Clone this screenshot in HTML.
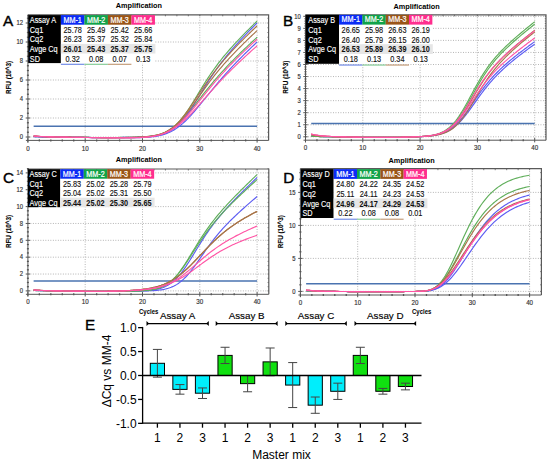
<!DOCTYPE html><html><head><meta charset="utf-8"><style>html,body{margin:0;padding:0;background:#fff;overflow:hidden}svg{display:block}text{font-family:"Liberation Sans",sans-serif}</style></head><body>
<svg width="550" height="463" viewBox="0 0 550 463">
<rect width="550" height="463" fill="#fff"/>
<line x1="27.90" y1="137.00" x2="268.60" y2="137.00" stroke="#a4a4a4" stroke-width="0.9" stroke-dasharray="0.9,1.6"/>
<line x1="27.90" y1="118.00" x2="268.60" y2="118.00" stroke="#a4a4a4" stroke-width="0.9" stroke-dasharray="0.9,1.6"/>
<line x1="27.90" y1="99.00" x2="268.60" y2="99.00" stroke="#a4a4a4" stroke-width="0.9" stroke-dasharray="0.9,1.6"/>
<line x1="27.90" y1="80.00" x2="268.60" y2="80.00" stroke="#a4a4a4" stroke-width="0.9" stroke-dasharray="0.9,1.6"/>
<line x1="27.90" y1="61.00" x2="268.60" y2="61.00" stroke="#a4a4a4" stroke-width="0.9" stroke-dasharray="0.9,1.6"/>
<line x1="27.90" y1="42.00" x2="268.60" y2="42.00" stroke="#a4a4a4" stroke-width="0.9" stroke-dasharray="0.9,1.6"/>
<line x1="27.90" y1="23.00" x2="268.60" y2="23.00" stroke="#a4a4a4" stroke-width="0.9" stroke-dasharray="0.9,1.6"/>
<line x1="85.20" y1="14.80" x2="85.20" y2="140.40" stroke="#a4a4a4" stroke-width="0.9" stroke-dasharray="0.9,1.6"/>
<line x1="142.50" y1="14.80" x2="142.50" y2="140.40" stroke="#a4a4a4" stroke-width="0.9" stroke-dasharray="0.9,1.6"/>
<line x1="199.80" y1="14.80" x2="199.80" y2="140.40" stroke="#a4a4a4" stroke-width="0.9" stroke-dasharray="0.9,1.6"/>
<line x1="257.10" y1="14.80" x2="257.10" y2="140.40" stroke="#a4a4a4" stroke-width="0.9" stroke-dasharray="0.9,1.6"/>
<polyline points="27.90,14.80 268.60,14.80 268.60,140.40" fill="none" stroke="#5a5a5a" stroke-width="1.2"/>
<line x1="27.90" y1="138.20" x2="27.90" y2="142.60" stroke="#555" stroke-width="1.0"/>
<line x1="27.90" y1="14.80" x2="27.90" y2="16.30" stroke="#5a5a5a" stroke-width="0.8"/>
<line x1="39.36" y1="139.40" x2="39.36" y2="141.40" stroke="#555" stroke-width="1.3"/>
<line x1="39.36" y1="14.80" x2="39.36" y2="16.30" stroke="#5a5a5a" stroke-width="0.8"/>
<line x1="50.82" y1="139.40" x2="50.82" y2="141.40" stroke="#555" stroke-width="1.3"/>
<line x1="50.82" y1="14.80" x2="50.82" y2="16.30" stroke="#5a5a5a" stroke-width="0.8"/>
<line x1="62.28" y1="139.40" x2="62.28" y2="141.40" stroke="#555" stroke-width="1.3"/>
<line x1="62.28" y1="14.80" x2="62.28" y2="16.30" stroke="#5a5a5a" stroke-width="0.8"/>
<line x1="73.74" y1="139.40" x2="73.74" y2="141.40" stroke="#555" stroke-width="1.3"/>
<line x1="73.74" y1="14.80" x2="73.74" y2="16.30" stroke="#5a5a5a" stroke-width="0.8"/>
<line x1="85.20" y1="138.20" x2="85.20" y2="142.60" stroke="#555" stroke-width="1.0"/>
<line x1="85.20" y1="14.80" x2="85.20" y2="16.30" stroke="#5a5a5a" stroke-width="0.8"/>
<line x1="96.66" y1="139.40" x2="96.66" y2="141.40" stroke="#555" stroke-width="1.3"/>
<line x1="96.66" y1="14.80" x2="96.66" y2="16.30" stroke="#5a5a5a" stroke-width="0.8"/>
<line x1="108.12" y1="139.40" x2="108.12" y2="141.40" stroke="#555" stroke-width="1.3"/>
<line x1="108.12" y1="14.80" x2="108.12" y2="16.30" stroke="#5a5a5a" stroke-width="0.8"/>
<line x1="119.58" y1="139.40" x2="119.58" y2="141.40" stroke="#555" stroke-width="1.3"/>
<line x1="119.58" y1="14.80" x2="119.58" y2="16.30" stroke="#5a5a5a" stroke-width="0.8"/>
<line x1="131.04" y1="139.40" x2="131.04" y2="141.40" stroke="#555" stroke-width="1.3"/>
<line x1="131.04" y1="14.80" x2="131.04" y2="16.30" stroke="#5a5a5a" stroke-width="0.8"/>
<line x1="142.50" y1="138.20" x2="142.50" y2="142.60" stroke="#555" stroke-width="1.0"/>
<line x1="142.50" y1="14.80" x2="142.50" y2="16.30" stroke="#5a5a5a" stroke-width="0.8"/>
<line x1="153.96" y1="139.40" x2="153.96" y2="141.40" stroke="#555" stroke-width="1.3"/>
<line x1="153.96" y1="14.80" x2="153.96" y2="16.30" stroke="#5a5a5a" stroke-width="0.8"/>
<line x1="165.42" y1="139.40" x2="165.42" y2="141.40" stroke="#555" stroke-width="1.3"/>
<line x1="165.42" y1="14.80" x2="165.42" y2="16.30" stroke="#5a5a5a" stroke-width="0.8"/>
<line x1="176.88" y1="139.40" x2="176.88" y2="141.40" stroke="#555" stroke-width="1.3"/>
<line x1="176.88" y1="14.80" x2="176.88" y2="16.30" stroke="#5a5a5a" stroke-width="0.8"/>
<line x1="188.34" y1="139.40" x2="188.34" y2="141.40" stroke="#555" stroke-width="1.3"/>
<line x1="188.34" y1="14.80" x2="188.34" y2="16.30" stroke="#5a5a5a" stroke-width="0.8"/>
<line x1="199.80" y1="138.20" x2="199.80" y2="142.60" stroke="#555" stroke-width="1.0"/>
<line x1="199.80" y1="14.80" x2="199.80" y2="16.30" stroke="#5a5a5a" stroke-width="0.8"/>
<line x1="211.26" y1="139.40" x2="211.26" y2="141.40" stroke="#555" stroke-width="1.3"/>
<line x1="211.26" y1="14.80" x2="211.26" y2="16.30" stroke="#5a5a5a" stroke-width="0.8"/>
<line x1="222.72" y1="139.40" x2="222.72" y2="141.40" stroke="#555" stroke-width="1.3"/>
<line x1="222.72" y1="14.80" x2="222.72" y2="16.30" stroke="#5a5a5a" stroke-width="0.8"/>
<line x1="234.18" y1="139.40" x2="234.18" y2="141.40" stroke="#555" stroke-width="1.3"/>
<line x1="234.18" y1="14.80" x2="234.18" y2="16.30" stroke="#5a5a5a" stroke-width="0.8"/>
<line x1="245.64" y1="139.40" x2="245.64" y2="141.40" stroke="#555" stroke-width="1.3"/>
<line x1="245.64" y1="14.80" x2="245.64" y2="16.30" stroke="#5a5a5a" stroke-width="0.8"/>
<line x1="257.10" y1="138.20" x2="257.10" y2="142.60" stroke="#555" stroke-width="1.0"/>
<line x1="257.10" y1="14.80" x2="257.10" y2="16.30" stroke="#5a5a5a" stroke-width="0.8"/>
<line x1="25.70" y1="137.00" x2="30.10" y2="137.00" stroke="#555" stroke-width="1.0"/>
<line x1="267.40" y1="137.00" x2="268.60" y2="137.00" stroke="#5a5a5a" stroke-width="0.8"/>
<line x1="26.90" y1="132.25" x2="28.90" y2="132.25" stroke="#555" stroke-width="1.3"/>
<line x1="267.40" y1="132.25" x2="268.60" y2="132.25" stroke="#5a5a5a" stroke-width="0.8"/>
<line x1="26.90" y1="127.50" x2="28.90" y2="127.50" stroke="#555" stroke-width="1.3"/>
<line x1="267.40" y1="127.50" x2="268.60" y2="127.50" stroke="#5a5a5a" stroke-width="0.8"/>
<line x1="26.90" y1="122.75" x2="28.90" y2="122.75" stroke="#555" stroke-width="1.3"/>
<line x1="267.40" y1="122.75" x2="268.60" y2="122.75" stroke="#5a5a5a" stroke-width="0.8"/>
<line x1="25.70" y1="118.00" x2="30.10" y2="118.00" stroke="#555" stroke-width="1.0"/>
<line x1="267.40" y1="118.00" x2="268.60" y2="118.00" stroke="#5a5a5a" stroke-width="0.8"/>
<line x1="26.90" y1="113.25" x2="28.90" y2="113.25" stroke="#555" stroke-width="1.3"/>
<line x1="267.40" y1="113.25" x2="268.60" y2="113.25" stroke="#5a5a5a" stroke-width="0.8"/>
<line x1="26.90" y1="108.50" x2="28.90" y2="108.50" stroke="#555" stroke-width="1.3"/>
<line x1="267.40" y1="108.50" x2="268.60" y2="108.50" stroke="#5a5a5a" stroke-width="0.8"/>
<line x1="26.90" y1="103.75" x2="28.90" y2="103.75" stroke="#555" stroke-width="1.3"/>
<line x1="267.40" y1="103.75" x2="268.60" y2="103.75" stroke="#5a5a5a" stroke-width="0.8"/>
<line x1="25.70" y1="99.00" x2="30.10" y2="99.00" stroke="#555" stroke-width="1.0"/>
<line x1="267.40" y1="99.00" x2="268.60" y2="99.00" stroke="#5a5a5a" stroke-width="0.8"/>
<line x1="26.90" y1="94.25" x2="28.90" y2="94.25" stroke="#555" stroke-width="1.3"/>
<line x1="267.40" y1="94.25" x2="268.60" y2="94.25" stroke="#5a5a5a" stroke-width="0.8"/>
<line x1="26.90" y1="89.50" x2="28.90" y2="89.50" stroke="#555" stroke-width="1.3"/>
<line x1="267.40" y1="89.50" x2="268.60" y2="89.50" stroke="#5a5a5a" stroke-width="0.8"/>
<line x1="26.90" y1="84.75" x2="28.90" y2="84.75" stroke="#555" stroke-width="1.3"/>
<line x1="267.40" y1="84.75" x2="268.60" y2="84.75" stroke="#5a5a5a" stroke-width="0.8"/>
<line x1="25.70" y1="80.00" x2="30.10" y2="80.00" stroke="#555" stroke-width="1.0"/>
<line x1="267.40" y1="80.00" x2="268.60" y2="80.00" stroke="#5a5a5a" stroke-width="0.8"/>
<line x1="26.90" y1="75.25" x2="28.90" y2="75.25" stroke="#555" stroke-width="1.3"/>
<line x1="267.40" y1="75.25" x2="268.60" y2="75.25" stroke="#5a5a5a" stroke-width="0.8"/>
<line x1="26.90" y1="70.50" x2="28.90" y2="70.50" stroke="#555" stroke-width="1.3"/>
<line x1="267.40" y1="70.50" x2="268.60" y2="70.50" stroke="#5a5a5a" stroke-width="0.8"/>
<line x1="26.90" y1="65.75" x2="28.90" y2="65.75" stroke="#555" stroke-width="1.3"/>
<line x1="267.40" y1="65.75" x2="268.60" y2="65.75" stroke="#5a5a5a" stroke-width="0.8"/>
<line x1="25.70" y1="61.00" x2="30.10" y2="61.00" stroke="#555" stroke-width="1.0"/>
<line x1="267.40" y1="61.00" x2="268.60" y2="61.00" stroke="#5a5a5a" stroke-width="0.8"/>
<line x1="26.90" y1="56.25" x2="28.90" y2="56.25" stroke="#555" stroke-width="1.3"/>
<line x1="267.40" y1="56.25" x2="268.60" y2="56.25" stroke="#5a5a5a" stroke-width="0.8"/>
<line x1="26.90" y1="51.50" x2="28.90" y2="51.50" stroke="#555" stroke-width="1.3"/>
<line x1="267.40" y1="51.50" x2="268.60" y2="51.50" stroke="#5a5a5a" stroke-width="0.8"/>
<line x1="26.90" y1="46.75" x2="28.90" y2="46.75" stroke="#555" stroke-width="1.3"/>
<line x1="267.40" y1="46.75" x2="268.60" y2="46.75" stroke="#5a5a5a" stroke-width="0.8"/>
<line x1="25.70" y1="42.00" x2="30.10" y2="42.00" stroke="#555" stroke-width="1.0"/>
<line x1="267.40" y1="42.00" x2="268.60" y2="42.00" stroke="#5a5a5a" stroke-width="0.8"/>
<line x1="26.90" y1="37.25" x2="28.90" y2="37.25" stroke="#555" stroke-width="1.3"/>
<line x1="267.40" y1="37.25" x2="268.60" y2="37.25" stroke="#5a5a5a" stroke-width="0.8"/>
<line x1="26.90" y1="32.50" x2="28.90" y2="32.50" stroke="#555" stroke-width="1.3"/>
<line x1="267.40" y1="32.50" x2="268.60" y2="32.50" stroke="#5a5a5a" stroke-width="0.8"/>
<line x1="26.90" y1="27.75" x2="28.90" y2="27.75" stroke="#555" stroke-width="1.3"/>
<line x1="267.40" y1="27.75" x2="268.60" y2="27.75" stroke="#5a5a5a" stroke-width="0.8"/>
<line x1="25.70" y1="23.00" x2="30.10" y2="23.00" stroke="#555" stroke-width="1.0"/>
<line x1="267.40" y1="23.00" x2="268.60" y2="23.00" stroke="#5a5a5a" stroke-width="0.8"/>
<line x1="26.90" y1="18.25" x2="28.90" y2="18.25" stroke="#555" stroke-width="1.3"/>
<line x1="267.40" y1="18.25" x2="268.60" y2="18.25" stroke="#5a5a5a" stroke-width="0.8"/>
<line x1="27.90" y1="14.80" x2="27.90" y2="142.40" stroke="#555" stroke-width="1"/>
<line x1="25.90" y1="140.40" x2="268.60" y2="140.40" stroke="#555" stroke-width="1"/>
<text transform="translate(23.10 139.20) scale(1 1.12)" font-size="5.9" text-anchor="end" font-weight="normal" fill="#333" stroke="#333" stroke-width="0.15" >0</text>
<text transform="translate(23.10 120.20) scale(1 1.12)" font-size="5.9" text-anchor="end" font-weight="normal" fill="#333" stroke="#333" stroke-width="0.15" >2</text>
<text transform="translate(23.10 101.20) scale(1 1.12)" font-size="5.9" text-anchor="end" font-weight="normal" fill="#333" stroke="#333" stroke-width="0.15" >4</text>
<text transform="translate(23.10 82.20) scale(1 1.12)" font-size="5.9" text-anchor="end" font-weight="normal" fill="#333" stroke="#333" stroke-width="0.15" >6</text>
<text transform="translate(23.10 63.20) scale(1 1.12)" font-size="5.9" text-anchor="end" font-weight="normal" fill="#333" stroke="#333" stroke-width="0.15" >8</text>
<text transform="translate(23.10 44.20) scale(1 1.12)" font-size="5.9" text-anchor="end" font-weight="normal" fill="#333" stroke="#333" stroke-width="0.15" >10</text>
<text transform="translate(23.10 25.20) scale(1 1.12)" font-size="5.9" text-anchor="end" font-weight="normal" fill="#333" stroke="#333" stroke-width="0.15" >12</text>
<text transform="translate(27.90 150.50) scale(1 1.12)" font-size="6.2" text-anchor="middle" font-weight="normal" fill="#333" stroke="#333" stroke-width="0.15" >0</text>
<text transform="translate(85.20 150.50) scale(1 1.12)" font-size="6.2" text-anchor="middle" font-weight="normal" fill="#333" stroke="#333" stroke-width="0.15" >10</text>
<text transform="translate(142.50 150.50) scale(1 1.12)" font-size="6.2" text-anchor="middle" font-weight="normal" fill="#333" stroke="#333" stroke-width="0.15" >20</text>
<text transform="translate(199.80 150.50) scale(1 1.12)" font-size="6.2" text-anchor="middle" font-weight="normal" fill="#333" stroke="#333" stroke-width="0.15" >30</text>
<text transform="translate(257.10 150.50) scale(1 1.12)" font-size="6.2" text-anchor="middle" font-weight="normal" fill="#333" stroke="#333" stroke-width="0.15" >40</text>
<text transform="translate(10.80 77.50) rotate(-90) scale(1 1.25)" font-size="6.3" font-weight="bold" text-anchor="middle" x="0" y="0" stroke="#000" stroke-width="0.1">RFU (10^3)</text>
<line x1="33.63" y1="126.30" x2="257.10" y2="126.30" stroke="#4a73b0" stroke-width="1.5"/>
<polyline points="33.63,136.06 35.06,136.18 36.49,136.29 37.93,136.39 39.36,136.47 40.79,136.55 42.23,136.61 43.66,136.67 45.09,136.72 46.52,136.76 47.95,136.80 49.39,136.84 50.82,136.87 52.25,136.90 53.69,136.93 55.12,136.96 56.55,136.98 57.98,137.00 59.41,137.03 60.85,137.05 62.28,137.07 63.71,137.09 65.15,137.11 66.58,137.13 68.01,137.15 69.44,137.17 70.88,137.19 72.31,137.21 73.74,137.23 75.17,137.25 76.61,137.27 78.04,137.29 79.47,137.31 80.90,137.33 82.34,137.34 83.77,137.36 85.20,137.38 86.63,137.40 88.06,137.42 89.50,137.43 90.93,137.45 92.36,137.46 93.80,137.47 95.23,137.48 96.66,137.49 98.09,137.50 99.53,137.51 100.96,137.51 102.39,137.52 103.82,137.52 105.25,137.52 106.69,137.52 108.12,137.52 109.55,137.51 110.99,137.51 112.42,137.50 113.85,137.49 115.28,137.48 116.72,137.47 118.15,137.46 119.58,137.44 121.01,137.43 122.44,137.41 123.88,137.39 125.31,137.37 126.74,137.35 128.18,137.32 129.61,137.30 131.04,137.27 132.47,137.24 133.91,137.20 135.34,137.16 136.77,137.11 138.20,137.06 139.64,137.00 141.07,136.94 142.50,136.86 143.93,136.77 145.37,136.67 146.80,136.55 148.23,136.42 149.66,136.26 151.09,136.09 152.53,135.88 153.96,135.65 155.39,135.38 156.83,135.08 158.26,134.73 159.69,134.33 161.12,133.89 162.56,133.38 163.99,132.82 165.42,132.18 166.85,131.47 168.29,130.68 169.72,129.81 171.15,128.84 172.58,127.78 174.02,126.61 175.45,125.35 176.88,123.98 178.31,122.51 179.75,120.93 181.18,119.25 182.61,117.47 184.04,115.59 185.48,113.63 186.91,111.58 188.34,109.46 189.77,107.27 191.21,105.03 192.64,102.75 194.07,100.43 195.50,98.09 196.94,95.74 198.37,93.38 199.80,91.03 201.23,88.69 202.67,86.37 204.10,84.07 205.53,81.81 206.96,79.58 208.40,77.39 209.83,75.24 211.26,73.13 212.69,71.06 214.13,69.04 215.56,67.06 216.99,65.11 218.42,63.21 219.86,61.35 221.29,59.52 222.72,57.73 224.15,55.98 225.59,54.25 227.02,52.56 228.45,50.89 229.88,49.25 231.32,47.63 232.75,46.04 234.18,44.46 235.61,42.91 237.05,41.37 238.48,39.85 239.91,38.35 241.34,36.86 242.78,35.38 244.21,33.91 245.64,32.46 247.07,31.01 248.51,29.57 249.94,28.14 251.37,26.72 252.80,25.31 254.24,23.90 255.67,22.50 257.10,21.10" fill="none" stroke="#5fae5a" stroke-width="1.15"/>
<polyline points="33.63,136.54 35.06,136.60 36.49,136.66 37.93,136.71 39.36,136.75 40.79,136.79 42.23,136.83 43.66,136.86 45.09,136.89 46.52,136.91 47.95,136.93 49.39,136.96 50.82,136.98 52.25,137.00 53.69,137.02 55.12,137.03 56.55,137.05 57.98,137.07 59.41,137.09 60.85,137.10 62.28,137.12 63.71,137.14 65.15,137.16 66.58,137.18 68.01,137.20 69.44,137.22 70.88,137.24 72.31,137.26 73.74,137.28 75.17,137.30 76.61,137.33 78.04,137.35 79.47,137.37 80.90,137.39 82.34,137.42 83.77,137.44 85.20,137.46 86.63,137.48 88.06,137.50 89.50,137.53 90.93,137.55 92.36,137.57 93.80,137.58 95.23,137.60 96.66,137.62 98.09,137.63 99.53,137.65 100.96,137.66 102.39,137.67 103.82,137.68 105.25,137.69 106.69,137.70 108.12,137.71 109.55,137.71 110.99,137.72 112.42,137.72 113.85,137.72 115.28,137.72 116.72,137.72 118.15,137.72 119.58,137.72 121.01,137.71 122.44,137.71 123.88,137.70 125.31,137.69 126.74,137.67 128.18,137.66 129.61,137.64 131.04,137.62 132.47,137.59 133.91,137.56 135.34,137.52 136.77,137.47 138.20,137.42 139.64,137.36 141.07,137.29 142.50,137.20 143.93,137.11 145.37,136.99 146.80,136.86 148.23,136.71 149.66,136.54 151.09,136.34 152.53,136.12 153.96,135.86 155.39,135.57 156.83,135.24 158.26,134.87 159.69,134.46 161.12,133.99 162.56,133.48 163.99,132.91 165.42,132.28 166.85,131.59 168.29,130.83 169.72,130.01 171.15,129.11 172.58,128.15 174.02,127.11 175.45,126.00 176.88,124.81 178.31,123.55 179.75,122.23 181.18,120.83 182.61,119.37 184.04,117.85 185.48,116.27 186.91,114.65 188.34,112.97 189.77,111.26 191.21,109.52 192.64,107.74 194.07,105.94 195.50,104.13 196.94,102.30 198.37,100.47 199.80,98.64 201.23,96.81 202.67,94.98 204.10,93.16 205.53,91.36 206.96,89.56 208.40,87.79 209.83,86.03 211.26,84.29 212.69,82.57 214.13,80.87 215.56,79.19 216.99,77.53 218.42,75.89 219.86,74.27 221.29,72.67 222.72,71.09 224.15,69.53 225.59,67.99 227.02,66.46 228.45,64.96 229.88,63.46 231.32,61.99 232.75,60.53 234.18,59.08 235.61,57.64 237.05,56.22 238.48,54.81 239.91,53.41 241.34,52.02 242.78,50.64 244.21,49.27 245.64,47.90 247.07,46.55 248.51,45.20 249.94,43.86 251.37,42.53 252.80,41.20 254.24,39.88 255.67,38.56 257.10,37.25" fill="none" stroke="#5fae5a" stroke-width="1.15"/>
<polyline points="33.63,136.53 35.06,136.60 36.49,136.65 37.93,136.70 39.36,136.75 40.79,136.78 42.23,136.82 43.66,136.85 45.09,136.88 46.52,136.90 47.95,136.92 49.39,136.94 50.82,136.96 52.25,136.98 53.69,137.00 55.12,137.02 56.55,137.03 57.98,137.05 59.41,137.07 60.85,137.08 62.28,137.10 63.71,137.12 65.15,137.13 66.58,137.15 68.01,137.17 69.44,137.18 70.88,137.20 72.31,137.22 73.74,137.24 75.17,137.26 76.61,137.28 78.04,137.30 79.47,137.32 80.90,137.33 82.34,137.35 83.77,137.37 85.20,137.39 86.63,137.41 88.06,137.42 89.50,137.44 90.93,137.45 92.36,137.47 93.80,137.48 95.23,137.49 96.66,137.50 98.09,137.51 99.53,137.52 100.96,137.52 102.39,137.53 103.82,137.53 105.25,137.53 106.69,137.53 108.12,137.53 109.55,137.53 110.99,137.52 112.42,137.52 113.85,137.51 115.28,137.50 116.72,137.49 118.15,137.48 119.58,137.47 121.01,137.46 122.44,137.44 123.88,137.43 125.31,137.41 126.74,137.39 128.18,137.37 129.61,137.35 131.04,137.33 132.47,137.30 133.91,137.27 135.34,137.24 136.77,137.21 138.20,137.17 139.64,137.12 141.07,137.07 142.50,137.01 143.93,136.94 145.37,136.86 146.80,136.77 148.23,136.66 149.66,136.54 151.09,136.40 152.53,136.23 153.96,136.05 155.39,135.83 156.83,135.58 158.26,135.30 159.69,134.98 161.12,134.61 162.56,134.20 163.99,133.73 165.42,133.20 166.85,132.61 168.29,131.94 169.72,131.20 171.15,130.38 172.58,129.47 174.02,128.46 175.45,127.37 176.88,126.17 178.31,124.87 179.75,123.47 181.18,121.96 182.61,120.35 184.04,118.64 185.48,116.84 186.91,114.94 188.34,112.95 189.77,110.89 191.21,108.76 192.64,106.57 194.07,104.33 195.50,102.05 196.94,99.74 198.37,97.41 199.80,95.07 201.23,92.72 202.67,90.39 204.10,88.06 205.53,85.76 206.96,83.48 208.40,81.23 209.83,79.02 211.26,76.84 212.69,74.70 214.13,72.60 215.56,70.54 216.99,68.53 218.42,66.55 219.86,64.61 221.29,62.70 222.72,60.84 224.15,59.01 225.59,57.21 227.02,55.45 228.45,53.71 229.88,52.01 231.32,50.33 232.75,48.67 234.18,47.04 235.61,45.43 237.05,43.84 238.48,42.27 239.91,40.71 241.34,39.18 242.78,37.65 244.21,36.14 245.64,34.64 247.07,33.16 248.51,31.68 249.94,30.21 251.37,28.76 252.80,27.31 254.24,25.87 255.67,24.43 257.10,23.00" fill="none" stroke="#5c5cf2" stroke-width="1.15"/>
<polyline points="33.63,136.64 35.06,136.69 36.49,136.73 37.93,136.77 39.36,136.81 40.79,136.84 42.23,136.87 43.66,136.89 45.09,136.92 46.52,136.94 47.95,136.96 49.39,136.98 50.82,137.00 52.25,137.01 53.69,137.03 55.12,137.05 56.55,137.06 57.98,137.08 59.41,137.10 60.85,137.11 62.28,137.13 63.71,137.15 65.15,137.17 66.58,137.19 68.01,137.21 69.44,137.23 70.88,137.25 72.31,137.27 73.74,137.29 75.17,137.31 76.61,137.33 78.04,137.36 79.47,137.38 80.90,137.40 82.34,137.43 83.77,137.45 85.20,137.47 86.63,137.49 88.06,137.52 89.50,137.54 90.93,137.56 92.36,137.58 93.80,137.60 95.23,137.62 96.66,137.64 98.09,137.65 99.53,137.67 100.96,137.68 102.39,137.70 103.82,137.71 105.25,137.72 106.69,137.73 108.12,137.74 109.55,137.75 110.99,137.76 112.42,137.76 113.85,137.77 115.28,137.77 116.72,137.77 118.15,137.78 119.58,137.78 121.01,137.78 122.44,137.78 123.88,137.78 125.31,137.77 126.74,137.77 128.18,137.76 129.61,137.76 131.04,137.75 132.47,137.73 133.91,137.72 135.34,137.70 136.77,137.67 138.20,137.64 139.64,137.60 141.07,137.56 142.50,137.51 143.93,137.44 145.37,137.37 146.80,137.28 148.23,137.18 149.66,137.06 151.09,136.92 152.53,136.76 153.96,136.58 155.39,136.37 156.83,136.13 158.26,135.86 159.69,135.55 161.12,135.21 162.56,134.83 163.99,134.40 165.42,133.92 166.85,133.40 168.29,132.82 169.72,132.18 171.15,131.48 172.58,130.72 174.02,129.90 175.45,129.02 176.88,128.06 178.31,127.04 179.75,125.96 181.18,124.80 182.61,123.58 184.04,122.30 185.48,120.96 186.91,119.56 188.34,118.10 189.77,116.59 191.21,115.03 192.64,113.43 194.07,111.80 195.50,110.12 196.94,108.42 198.37,106.70 199.80,104.96 201.23,103.20 202.67,101.43 204.10,99.66 205.53,97.88 206.96,96.10 208.40,94.33 209.83,92.56 211.26,90.80 212.69,89.06 214.13,87.32 215.56,85.60 216.99,83.89 218.42,82.20 219.86,80.52 221.29,78.86 222.72,77.22 224.15,75.60 225.59,73.99 227.02,72.40 228.45,70.82 229.88,69.26 231.32,67.72 232.75,66.19 234.18,64.68 235.61,63.18 237.05,61.69 238.48,60.22 239.91,58.76 241.34,57.31 242.78,55.88 244.21,54.45 245.64,53.03 247.07,51.63 248.51,50.23 249.94,48.84 251.37,47.46 252.80,46.08 254.24,44.72 255.67,43.35 257.10,42.00" fill="none" stroke="#5c5cf2" stroke-width="1.15"/>
<polyline points="33.63,135.87 35.06,136.02 36.49,136.15 37.93,136.27 39.36,136.37 40.79,136.45 42.23,136.53 43.66,136.60 45.09,136.66 46.52,136.71 47.95,136.76 49.39,136.80 50.82,136.84 52.25,136.88 53.69,136.91 55.12,136.94 56.55,136.97 57.98,136.99 59.41,137.02 60.85,137.04 62.28,137.06 63.71,137.08 65.15,137.11 66.58,137.13 68.01,137.15 69.44,137.17 70.88,137.19 72.31,137.21 73.74,137.24 75.17,137.26 76.61,137.28 78.04,137.30 79.47,137.32 80.90,137.34 82.34,137.36 83.77,137.38 85.20,137.40 86.63,137.42 88.06,137.44 89.50,137.46 90.93,137.47 92.36,137.49 93.80,137.50 95.23,137.51 96.66,137.53 98.09,137.54 99.53,137.55 100.96,137.55 102.39,137.56 103.82,137.56 105.25,137.57 106.69,137.57 108.12,137.57 109.55,137.57 110.99,137.56 112.42,137.56 113.85,137.55 115.28,137.55 116.72,137.54 118.15,137.53 119.58,137.52 121.01,137.51 122.44,137.49 123.88,137.48 125.31,137.46 126.74,137.44 128.18,137.42 129.61,137.39 131.04,137.36 132.47,137.33 133.91,137.30 135.34,137.25 136.77,137.21 138.20,137.15 139.64,137.09 141.07,137.02 142.50,136.94 143.93,136.85 145.37,136.74 146.80,136.61 148.23,136.47 149.66,136.30 151.09,136.11 152.53,135.89 153.96,135.64 155.39,135.36 156.83,135.03 158.26,134.67 159.69,134.25 161.12,133.78 162.56,133.25 163.99,132.66 165.42,132.01 166.85,131.28 168.29,130.47 169.72,129.57 171.15,128.60 172.58,127.53 174.02,126.37 175.45,125.11 176.88,123.76 178.31,122.32 179.75,120.78 181.18,119.15 182.61,117.43 184.04,115.63 185.48,113.75 186.91,111.81 188.34,109.80 189.77,107.75 191.21,105.65 192.64,103.51 194.07,101.35 195.50,99.17 196.94,96.99 198.37,94.80 199.80,92.62 201.23,90.45 202.67,88.30 204.10,86.17 205.53,84.07 206.96,82.00 208.40,79.96 209.83,77.95 211.26,75.98 212.69,74.05 214.13,72.14 215.56,70.28 216.99,68.44 218.42,66.64 219.86,64.87 221.29,63.14 222.72,61.43 224.15,59.75 225.59,58.09 227.02,56.47 228.45,54.86 229.88,53.28 231.32,51.71 232.75,50.17 234.18,48.65 235.61,47.14 237.05,45.65 238.48,44.17 239.91,42.70 241.34,41.25 242.78,39.81 244.21,38.38 245.64,36.95 247.07,35.54 248.51,34.14 249.94,32.74 251.37,31.35 252.80,29.97 254.24,28.59 255.67,27.22 257.10,25.85" fill="none" stroke="#a87448" stroke-width="1.15"/>
<polyline points="33.63,136.25 35.06,136.35 36.49,136.44 37.93,136.52 39.36,136.59 40.79,136.65 42.23,136.70 43.66,136.75 45.09,136.79 46.52,136.82 47.95,136.86 49.39,136.89 50.82,136.92 52.25,136.94 53.69,136.97 55.12,136.99 56.55,137.01 57.98,137.03 59.41,137.05 60.85,137.07 62.28,137.09 63.71,137.11 65.15,137.13 66.58,137.15 68.01,137.17 69.44,137.19 70.88,137.21 72.31,137.23 73.74,137.26 75.17,137.28 76.61,137.30 78.04,137.32 79.47,137.34 80.90,137.36 82.34,137.38 83.77,137.40 85.20,137.42 86.63,137.44 88.06,137.46 89.50,137.48 90.93,137.50 92.36,137.52 93.80,137.53 95.23,137.55 96.66,137.56 98.09,137.57 99.53,137.59 100.96,137.60 102.39,137.60 103.82,137.61 105.25,137.62 106.69,137.62 108.12,137.62 109.55,137.63 110.99,137.63 112.42,137.62 113.85,137.62 115.28,137.62 116.72,137.61 118.15,137.61 119.58,137.60 121.01,137.59 122.44,137.58 123.88,137.57 125.31,137.55 126.74,137.53 128.18,137.52 129.61,137.49 131.04,137.47 132.47,137.44 133.91,137.41 135.34,137.37 136.77,137.32 138.20,137.27 139.64,137.21 141.07,137.15 142.50,137.06 143.93,136.97 145.37,136.86 146.80,136.74 148.23,136.60 149.66,136.43 151.09,136.24 152.53,136.03 153.96,135.78 155.39,135.50 156.83,135.18 158.26,134.82 159.69,134.41 161.12,133.95 162.56,133.44 163.99,132.86 165.42,132.22 166.85,131.52 168.29,130.74 169.72,129.88 171.15,128.95 172.58,127.93 174.02,126.83 175.45,125.64 176.88,124.37 178.31,123.01 179.75,121.56 181.18,120.04 182.61,118.43 184.04,116.75 185.48,115.01 186.91,113.20 188.34,111.34 189.77,109.43 191.21,107.48 192.64,105.49 194.07,103.49 195.50,101.46 196.94,99.43 198.37,97.39 199.80,95.35 201.23,93.32 202.67,91.30 204.10,89.30 205.53,87.32 206.96,85.36 208.40,83.43 209.83,81.52 211.26,79.64 212.69,77.79 214.13,75.96 215.56,74.17 216.99,72.40 218.42,70.66 219.86,68.95 221.29,67.26 222.72,65.60 224.15,63.97 225.59,62.35 227.02,60.76 228.45,59.19 229.88,57.64 231.32,56.10 232.75,54.59 234.18,53.09 235.61,51.60 237.05,50.13 238.48,48.68 239.91,47.23 241.34,45.80 242.78,44.38 244.21,42.96 245.64,41.56 247.07,40.17 248.51,38.78 249.94,37.40 251.37,36.03 252.80,34.66 254.24,33.30 255.67,31.95 257.10,30.60" fill="none" stroke="#a87448" stroke-width="1.15"/>
<polyline points="33.63,136.07 35.06,136.19 36.49,136.30 37.93,136.40 39.36,136.48 40.79,136.56 42.23,136.62 43.66,136.68 45.09,136.73 46.52,136.78 47.95,136.82 49.39,136.86 50.82,136.89 52.25,136.92 53.69,136.95 55.12,136.98 56.55,137.00 57.98,137.03 59.41,137.05 60.85,137.07 62.28,137.10 63.71,137.12 65.15,137.14 66.58,137.16 68.01,137.19 69.44,137.21 70.88,137.23 72.31,137.25 73.74,137.28 75.17,137.30 76.61,137.32 78.04,137.35 79.47,137.37 80.90,137.39 82.34,137.42 83.77,137.44 85.20,137.47 86.63,137.49 88.06,137.51 89.50,137.53 90.93,137.55 92.36,137.57 93.80,137.59 95.23,137.61 96.66,137.63 98.09,137.65 99.53,137.66 100.96,137.67 102.39,137.69 103.82,137.70 105.25,137.71 106.69,137.72 108.12,137.73 109.55,137.73 110.99,137.74 112.42,137.74 113.85,137.75 115.28,137.75 116.72,137.75 118.15,137.75 119.58,137.75 121.01,137.74 122.44,137.74 123.88,137.73 125.31,137.73 126.74,137.71 128.18,137.70 129.61,137.69 131.04,137.67 132.47,137.64 133.91,137.61 135.34,137.58 136.77,137.54 138.20,137.49 139.64,137.44 141.07,137.37 142.50,137.29 143.93,137.20 145.37,137.10 146.80,136.98 148.23,136.84 149.66,136.68 151.09,136.49 152.53,136.28 153.96,136.04 155.39,135.77 156.83,135.46 158.26,135.11 159.69,134.72 161.12,134.29 162.56,133.80 163.99,133.27 165.42,132.68 166.85,132.03 168.29,131.32 169.72,130.54 171.15,129.70 172.58,128.79 174.02,127.81 175.45,126.75 176.88,125.63 178.31,124.44 179.75,123.18 181.18,121.86 182.61,120.47 184.04,119.02 185.48,117.52 186.91,115.96 188.34,114.36 189.77,112.71 191.21,111.03 192.64,109.31 194.07,107.57 195.50,105.81 196.94,104.04 198.37,102.25 199.80,100.46 201.23,98.66 202.67,96.87 204.10,95.08 205.53,93.30 206.96,91.53 208.40,89.77 209.83,88.02 211.26,86.29 212.69,84.58 214.13,82.89 215.56,81.21 216.99,79.55 218.42,77.92 219.86,76.30 221.29,74.69 222.72,73.11 224.15,71.55 225.59,70.00 227.02,68.47 228.45,66.96 229.88,65.46 231.32,63.98 232.75,62.51 234.18,61.05 235.61,59.61 237.05,58.18 238.48,56.77 239.91,55.36 241.34,53.96 242.78,52.58 244.21,51.20 245.64,49.84 247.07,48.48 248.51,47.12 249.94,45.78 251.37,44.44 252.80,43.11 254.24,41.78 255.67,40.46 257.10,39.15" fill="none" stroke="#ff55a5" stroke-width="1.15"/>
<polyline points="33.63,135.88 35.06,136.03 36.49,136.16 37.93,136.28 39.36,136.38 40.79,136.47 42.23,136.54 43.66,136.61 45.09,136.67 46.52,136.73 47.95,136.78 49.39,136.82 50.82,136.86 52.25,136.90 53.69,136.93 55.12,136.96 56.55,136.99 57.98,137.02 59.41,137.05 60.85,137.07 62.28,137.10 63.71,137.12 65.15,137.15 66.58,137.17 68.01,137.20 69.44,137.22 70.88,137.25 72.31,137.27 73.74,137.30 75.17,137.32 76.61,137.35 78.04,137.37 79.47,137.40 80.90,137.42 82.34,137.45 83.77,137.48 85.20,137.50 86.63,137.53 88.06,137.55 89.50,137.58 90.93,137.60 92.36,137.62 93.80,137.65 95.23,137.67 96.66,137.69 98.09,137.71 99.53,137.73 100.96,137.75 102.39,137.76 103.82,137.78 105.25,137.79 106.69,137.81 108.12,137.82 109.55,137.83 110.99,137.84 112.42,137.85 113.85,137.86 115.28,137.86 116.72,137.87 118.15,137.87 119.58,137.87 121.01,137.88 122.44,137.88 123.88,137.87 125.31,137.87 126.74,137.86 128.18,137.85 129.61,137.84 131.04,137.82 132.47,137.80 133.91,137.77 135.34,137.74 136.77,137.70 138.20,137.65 139.64,137.59 141.07,137.52 142.50,137.44 143.93,137.35 145.37,137.24 146.80,137.12 148.23,136.97 149.66,136.80 151.09,136.62 152.53,136.40 153.96,136.16 155.39,135.88 156.83,135.58 158.26,135.23 159.69,134.85 161.12,134.43 162.56,133.96 163.99,133.45 165.42,132.88 166.85,132.27 168.29,131.61 169.72,130.89 171.15,130.11 172.58,129.28 174.02,128.39 175.45,127.44 176.88,126.44 178.31,125.37 179.75,124.25 181.18,123.08 182.61,121.86 184.04,120.58 185.48,119.25 186.91,117.89 188.34,116.47 189.77,115.02 191.21,113.54 192.64,112.02 194.07,110.48 195.50,108.92 196.94,107.33 198.37,105.73 199.80,104.11 201.23,102.49 202.67,100.86 204.10,99.23 205.53,97.60 206.96,95.97 208.40,94.34 209.83,92.72 211.26,91.11 212.69,89.51 214.13,87.92 215.56,86.34 216.99,84.78 218.42,83.22 219.86,81.69 221.29,80.16 222.72,78.65 224.15,77.15 225.59,75.67 227.02,74.20 228.45,72.74 229.88,71.30 231.32,69.87 232.75,68.45 234.18,67.05 235.61,65.65 237.05,64.27 238.48,62.89 239.91,61.53 241.34,60.18 242.78,58.83 244.21,57.50 245.64,56.17 247.07,54.85 248.51,53.54 249.94,52.24 251.37,50.94 252.80,49.64 254.24,48.36 255.67,47.08 257.10,45.80" fill="none" stroke="#ff55a5" stroke-width="1.15"/>
<text x="138.80" y="8.30" font-size="7.3" text-anchor="middle" font-weight="bold" fill="#000" >Amplification</text>
<text x="3.00" y="25.70" font-size="15.3" text-anchor="start" font-weight="normal" fill="#000" stroke="#000" stroke-width="0.4" >A</text>
<rect x="28.20" y="15.10" width="32.70" height="48.00" fill="#000"/>
<rect x="60.90" y="24.70" width="94.00" height="38.40" fill="#fff"/>
<rect x="60.90" y="15.10" width="23.55" height="9.60" fill="#0b2cf5"/>
<text transform="translate(72.65 22.50) scale(1 1.14)" font-size="7.2" text-anchor="middle" font-weight="normal" fill="#fff" stroke="#fff" stroke-width="0.18" >MM-1</text>
<rect x="84.40" y="15.10" width="23.55" height="9.60" fill="#11a34a"/>
<text transform="translate(96.15 22.50) scale(1 1.14)" font-size="7.2" text-anchor="middle" font-weight="normal" fill="#fff" stroke="#fff" stroke-width="0.18" >MM-2</text>
<rect x="107.90" y="15.10" width="23.55" height="9.60" fill="#9a5518"/>
<text transform="translate(119.65 22.50) scale(1 1.14)" font-size="7.2" text-anchor="middle" font-weight="normal" fill="#fff" stroke="#fff" stroke-width="0.18" >MM-3</text>
<rect x="131.40" y="15.10" width="23.55" height="9.60" fill="#ff2e8e"/>
<text transform="translate(143.15 22.50) scale(1 1.14)" font-size="7.2" text-anchor="middle" font-weight="normal" fill="#fff" stroke="#fff" stroke-width="0.18" >MM-4</text>
<text transform="translate(29.80 22.70) scale(1 1.12)" font-size="7.3" text-anchor="start" font-weight="normal" fill="#fff" stroke="#fff" stroke-width="0.12" >Assay A</text>
<text transform="translate(29.80 32.70) scale(1 1.12)" font-size="7.3" text-anchor="start" font-weight="normal" fill="#fff" stroke="#fff" stroke-width="0.12" >Cq1</text>
<text transform="translate(72.65 32.70) scale(1 1.12)" font-size="7.3" text-anchor="middle" font-weight="normal" fill="#111" stroke="#111" stroke-width="0.12" >25.78</text>
<text transform="translate(96.15 32.70) scale(1 1.12)" font-size="7.3" text-anchor="middle" font-weight="normal" fill="#111" stroke="#111" stroke-width="0.12" >25.49</text>
<text transform="translate(119.65 32.70) scale(1 1.12)" font-size="7.3" text-anchor="middle" font-weight="normal" fill="#111" stroke="#111" stroke-width="0.12" >25.42</text>
<text transform="translate(143.15 32.70) scale(1 1.12)" font-size="7.3" text-anchor="middle" font-weight="normal" fill="#111" stroke="#111" stroke-width="0.12" >25.66</text>
<text transform="translate(29.80 42.30) scale(1 1.12)" font-size="7.3" text-anchor="start" font-weight="normal" fill="#fff" stroke="#fff" stroke-width="0.12" >Cq2</text>
<text transform="translate(72.65 42.30) scale(1 1.12)" font-size="7.3" text-anchor="middle" font-weight="normal" fill="#111" stroke="#111" stroke-width="0.12" >26.23</text>
<text transform="translate(96.15 42.30) scale(1 1.12)" font-size="7.3" text-anchor="middle" font-weight="normal" fill="#111" stroke="#111" stroke-width="0.12" >25.37</text>
<text transform="translate(119.65 42.30) scale(1 1.12)" font-size="7.3" text-anchor="middle" font-weight="normal" fill="#111" stroke="#111" stroke-width="0.12" >25.32</text>
<text transform="translate(143.15 42.30) scale(1 1.12)" font-size="7.3" text-anchor="middle" font-weight="normal" fill="#111" stroke="#111" stroke-width="0.12" >25.84</text>
<rect x="60.90" y="43.90" width="94.50" height="9.60" fill="#e6e6e6"/>
<text transform="translate(29.80 51.90) scale(1 1.12)" font-size="7.3" text-anchor="start" font-weight="normal" fill="#fff" stroke="#fff" stroke-width="0.12" >Avge Cq</text>
<text transform="translate(72.65 51.90) scale(1 1.12)" font-size="7.3" text-anchor="middle" font-weight="bold" fill="#111" stroke="#111" stroke-width="0.05" >26.01</text>
<text transform="translate(96.15 51.90) scale(1 1.12)" font-size="7.3" text-anchor="middle" font-weight="bold" fill="#111" stroke="#111" stroke-width="0.05" >25.43</text>
<text transform="translate(119.65 51.90) scale(1 1.12)" font-size="7.3" text-anchor="middle" font-weight="bold" fill="#111" stroke="#111" stroke-width="0.05" >25.37</text>
<text transform="translate(143.15 51.90) scale(1 1.12)" font-size="7.3" text-anchor="middle" font-weight="bold" fill="#111" stroke="#111" stroke-width="0.05" >25.75</text>
<text transform="translate(29.80 61.50) scale(1 1.12)" font-size="7.3" text-anchor="start" font-weight="normal" fill="#fff" stroke="#fff" stroke-width="0.12" >SD</text>
<text transform="translate(72.65 61.50) scale(1 1.12)" font-size="7.3" text-anchor="middle" font-weight="normal" fill="#111" stroke="#111" stroke-width="0.12" >0.32</text>
<text transform="translate(96.15 61.50) scale(1 1.12)" font-size="7.3" text-anchor="middle" font-weight="normal" fill="#111" stroke="#111" stroke-width="0.12" >0.08</text>
<text transform="translate(119.65 61.50) scale(1 1.12)" font-size="7.3" text-anchor="middle" font-weight="normal" fill="#111" stroke="#111" stroke-width="0.12" >0.07</text>
<text transform="translate(143.15 61.50) scale(1 1.12)" font-size="7.3" text-anchor="middle" font-weight="normal" fill="#111" stroke="#111" stroke-width="0.12" >0.13</text>
<rect x="60.90" y="63.70" width="23.50" height="1.3" fill="#7f96e8"/>
<rect x="84.40" y="63.70" width="23.50" height="1.3" fill="#8fd0a0"/>
<rect x="107.90" y="63.70" width="23.50" height="1.3" fill="#c9a585"/>
<line x1="305.50" y1="136.80" x2="546.00" y2="136.80" stroke="#a4a4a4" stroke-width="0.9" stroke-dasharray="0.9,1.6"/>
<line x1="305.50" y1="124.75" x2="546.00" y2="124.75" stroke="#a4a4a4" stroke-width="0.9" stroke-dasharray="0.9,1.6"/>
<line x1="305.50" y1="112.70" x2="546.00" y2="112.70" stroke="#a4a4a4" stroke-width="0.9" stroke-dasharray="0.9,1.6"/>
<line x1="305.50" y1="100.65" x2="546.00" y2="100.65" stroke="#a4a4a4" stroke-width="0.9" stroke-dasharray="0.9,1.6"/>
<line x1="305.50" y1="88.60" x2="546.00" y2="88.60" stroke="#a4a4a4" stroke-width="0.9" stroke-dasharray="0.9,1.6"/>
<line x1="305.50" y1="76.55" x2="546.00" y2="76.55" stroke="#a4a4a4" stroke-width="0.9" stroke-dasharray="0.9,1.6"/>
<line x1="305.50" y1="64.50" x2="546.00" y2="64.50" stroke="#a4a4a4" stroke-width="0.9" stroke-dasharray="0.9,1.6"/>
<line x1="305.50" y1="52.45" x2="546.00" y2="52.45" stroke="#a4a4a4" stroke-width="0.9" stroke-dasharray="0.9,1.6"/>
<line x1="305.50" y1="40.40" x2="546.00" y2="40.40" stroke="#a4a4a4" stroke-width="0.9" stroke-dasharray="0.9,1.6"/>
<line x1="305.50" y1="28.35" x2="546.00" y2="28.35" stroke="#a4a4a4" stroke-width="0.9" stroke-dasharray="0.9,1.6"/>
<line x1="305.50" y1="16.30" x2="546.00" y2="16.30" stroke="#a4a4a4" stroke-width="0.9" stroke-dasharray="0.9,1.6"/>
<line x1="362.80" y1="14.80" x2="362.80" y2="140.20" stroke="#a4a4a4" stroke-width="0.9" stroke-dasharray="0.9,1.6"/>
<line x1="420.10" y1="14.80" x2="420.10" y2="140.20" stroke="#a4a4a4" stroke-width="0.9" stroke-dasharray="0.9,1.6"/>
<line x1="477.40" y1="14.80" x2="477.40" y2="140.20" stroke="#a4a4a4" stroke-width="0.9" stroke-dasharray="0.9,1.6"/>
<line x1="534.70" y1="14.80" x2="534.70" y2="140.20" stroke="#a4a4a4" stroke-width="0.9" stroke-dasharray="0.9,1.6"/>
<polyline points="305.50,14.80 546.00,14.80 546.00,140.20" fill="none" stroke="#5a5a5a" stroke-width="1.2"/>
<line x1="305.50" y1="138.00" x2="305.50" y2="142.40" stroke="#555" stroke-width="1.0"/>
<line x1="305.50" y1="14.80" x2="305.50" y2="16.30" stroke="#5a5a5a" stroke-width="0.8"/>
<line x1="316.96" y1="139.20" x2="316.96" y2="141.20" stroke="#555" stroke-width="1.3"/>
<line x1="316.96" y1="14.80" x2="316.96" y2="16.30" stroke="#5a5a5a" stroke-width="0.8"/>
<line x1="328.42" y1="139.20" x2="328.42" y2="141.20" stroke="#555" stroke-width="1.3"/>
<line x1="328.42" y1="14.80" x2="328.42" y2="16.30" stroke="#5a5a5a" stroke-width="0.8"/>
<line x1="339.88" y1="139.20" x2="339.88" y2="141.20" stroke="#555" stroke-width="1.3"/>
<line x1="339.88" y1="14.80" x2="339.88" y2="16.30" stroke="#5a5a5a" stroke-width="0.8"/>
<line x1="351.34" y1="139.20" x2="351.34" y2="141.20" stroke="#555" stroke-width="1.3"/>
<line x1="351.34" y1="14.80" x2="351.34" y2="16.30" stroke="#5a5a5a" stroke-width="0.8"/>
<line x1="362.80" y1="138.00" x2="362.80" y2="142.40" stroke="#555" stroke-width="1.0"/>
<line x1="362.80" y1="14.80" x2="362.80" y2="16.30" stroke="#5a5a5a" stroke-width="0.8"/>
<line x1="374.26" y1="139.20" x2="374.26" y2="141.20" stroke="#555" stroke-width="1.3"/>
<line x1="374.26" y1="14.80" x2="374.26" y2="16.30" stroke="#5a5a5a" stroke-width="0.8"/>
<line x1="385.72" y1="139.20" x2="385.72" y2="141.20" stroke="#555" stroke-width="1.3"/>
<line x1="385.72" y1="14.80" x2="385.72" y2="16.30" stroke="#5a5a5a" stroke-width="0.8"/>
<line x1="397.18" y1="139.20" x2="397.18" y2="141.20" stroke="#555" stroke-width="1.3"/>
<line x1="397.18" y1="14.80" x2="397.18" y2="16.30" stroke="#5a5a5a" stroke-width="0.8"/>
<line x1="408.64" y1="139.20" x2="408.64" y2="141.20" stroke="#555" stroke-width="1.3"/>
<line x1="408.64" y1="14.80" x2="408.64" y2="16.30" stroke="#5a5a5a" stroke-width="0.8"/>
<line x1="420.10" y1="138.00" x2="420.10" y2="142.40" stroke="#555" stroke-width="1.0"/>
<line x1="420.10" y1="14.80" x2="420.10" y2="16.30" stroke="#5a5a5a" stroke-width="0.8"/>
<line x1="431.56" y1="139.20" x2="431.56" y2="141.20" stroke="#555" stroke-width="1.3"/>
<line x1="431.56" y1="14.80" x2="431.56" y2="16.30" stroke="#5a5a5a" stroke-width="0.8"/>
<line x1="443.02" y1="139.20" x2="443.02" y2="141.20" stroke="#555" stroke-width="1.3"/>
<line x1="443.02" y1="14.80" x2="443.02" y2="16.30" stroke="#5a5a5a" stroke-width="0.8"/>
<line x1="454.48" y1="139.20" x2="454.48" y2="141.20" stroke="#555" stroke-width="1.3"/>
<line x1="454.48" y1="14.80" x2="454.48" y2="16.30" stroke="#5a5a5a" stroke-width="0.8"/>
<line x1="465.94" y1="139.20" x2="465.94" y2="141.20" stroke="#555" stroke-width="1.3"/>
<line x1="465.94" y1="14.80" x2="465.94" y2="16.30" stroke="#5a5a5a" stroke-width="0.8"/>
<line x1="477.40" y1="138.00" x2="477.40" y2="142.40" stroke="#555" stroke-width="1.0"/>
<line x1="477.40" y1="14.80" x2="477.40" y2="16.30" stroke="#5a5a5a" stroke-width="0.8"/>
<line x1="488.86" y1="139.20" x2="488.86" y2="141.20" stroke="#555" stroke-width="1.3"/>
<line x1="488.86" y1="14.80" x2="488.86" y2="16.30" stroke="#5a5a5a" stroke-width="0.8"/>
<line x1="500.32" y1="139.20" x2="500.32" y2="141.20" stroke="#555" stroke-width="1.3"/>
<line x1="500.32" y1="14.80" x2="500.32" y2="16.30" stroke="#5a5a5a" stroke-width="0.8"/>
<line x1="511.78" y1="139.20" x2="511.78" y2="141.20" stroke="#555" stroke-width="1.3"/>
<line x1="511.78" y1="14.80" x2="511.78" y2="16.30" stroke="#5a5a5a" stroke-width="0.8"/>
<line x1="523.24" y1="139.20" x2="523.24" y2="141.20" stroke="#555" stroke-width="1.3"/>
<line x1="523.24" y1="14.80" x2="523.24" y2="16.30" stroke="#5a5a5a" stroke-width="0.8"/>
<line x1="534.70" y1="138.00" x2="534.70" y2="142.40" stroke="#555" stroke-width="1.0"/>
<line x1="534.70" y1="14.80" x2="534.70" y2="16.30" stroke="#5a5a5a" stroke-width="0.8"/>
<line x1="303.30" y1="136.80" x2="307.70" y2="136.80" stroke="#555" stroke-width="1.0"/>
<line x1="544.80" y1="136.80" x2="546.00" y2="136.80" stroke="#5a5a5a" stroke-width="0.8"/>
<line x1="304.50" y1="134.39" x2="306.50" y2="134.39" stroke="#555" stroke-width="1.3"/>
<line x1="544.80" y1="134.39" x2="546.00" y2="134.39" stroke="#5a5a5a" stroke-width="0.8"/>
<line x1="304.50" y1="131.98" x2="306.50" y2="131.98" stroke="#555" stroke-width="1.3"/>
<line x1="544.80" y1="131.98" x2="546.00" y2="131.98" stroke="#5a5a5a" stroke-width="0.8"/>
<line x1="304.50" y1="129.57" x2="306.50" y2="129.57" stroke="#555" stroke-width="1.3"/>
<line x1="544.80" y1="129.57" x2="546.00" y2="129.57" stroke="#5a5a5a" stroke-width="0.8"/>
<line x1="304.50" y1="127.16" x2="306.50" y2="127.16" stroke="#555" stroke-width="1.3"/>
<line x1="544.80" y1="127.16" x2="546.00" y2="127.16" stroke="#5a5a5a" stroke-width="0.8"/>
<line x1="303.30" y1="124.75" x2="307.70" y2="124.75" stroke="#555" stroke-width="1.0"/>
<line x1="544.80" y1="124.75" x2="546.00" y2="124.75" stroke="#5a5a5a" stroke-width="0.8"/>
<line x1="304.50" y1="122.34" x2="306.50" y2="122.34" stroke="#555" stroke-width="1.3"/>
<line x1="544.80" y1="122.34" x2="546.00" y2="122.34" stroke="#5a5a5a" stroke-width="0.8"/>
<line x1="304.50" y1="119.93" x2="306.50" y2="119.93" stroke="#555" stroke-width="1.3"/>
<line x1="544.80" y1="119.93" x2="546.00" y2="119.93" stroke="#5a5a5a" stroke-width="0.8"/>
<line x1="304.50" y1="117.52" x2="306.50" y2="117.52" stroke="#555" stroke-width="1.3"/>
<line x1="544.80" y1="117.52" x2="546.00" y2="117.52" stroke="#5a5a5a" stroke-width="0.8"/>
<line x1="304.50" y1="115.11" x2="306.50" y2="115.11" stroke="#555" stroke-width="1.3"/>
<line x1="544.80" y1="115.11" x2="546.00" y2="115.11" stroke="#5a5a5a" stroke-width="0.8"/>
<line x1="303.30" y1="112.70" x2="307.70" y2="112.70" stroke="#555" stroke-width="1.0"/>
<line x1="544.80" y1="112.70" x2="546.00" y2="112.70" stroke="#5a5a5a" stroke-width="0.8"/>
<line x1="304.50" y1="110.29" x2="306.50" y2="110.29" stroke="#555" stroke-width="1.3"/>
<line x1="544.80" y1="110.29" x2="546.00" y2="110.29" stroke="#5a5a5a" stroke-width="0.8"/>
<line x1="304.50" y1="107.88" x2="306.50" y2="107.88" stroke="#555" stroke-width="1.3"/>
<line x1="544.80" y1="107.88" x2="546.00" y2="107.88" stroke="#5a5a5a" stroke-width="0.8"/>
<line x1="304.50" y1="105.47" x2="306.50" y2="105.47" stroke="#555" stroke-width="1.3"/>
<line x1="544.80" y1="105.47" x2="546.00" y2="105.47" stroke="#5a5a5a" stroke-width="0.8"/>
<line x1="304.50" y1="103.06" x2="306.50" y2="103.06" stroke="#555" stroke-width="1.3"/>
<line x1="544.80" y1="103.06" x2="546.00" y2="103.06" stroke="#5a5a5a" stroke-width="0.8"/>
<line x1="303.30" y1="100.65" x2="307.70" y2="100.65" stroke="#555" stroke-width="1.0"/>
<line x1="544.80" y1="100.65" x2="546.00" y2="100.65" stroke="#5a5a5a" stroke-width="0.8"/>
<line x1="304.50" y1="98.24" x2="306.50" y2="98.24" stroke="#555" stroke-width="1.3"/>
<line x1="544.80" y1="98.24" x2="546.00" y2="98.24" stroke="#5a5a5a" stroke-width="0.8"/>
<line x1="304.50" y1="95.83" x2="306.50" y2="95.83" stroke="#555" stroke-width="1.3"/>
<line x1="544.80" y1="95.83" x2="546.00" y2="95.83" stroke="#5a5a5a" stroke-width="0.8"/>
<line x1="304.50" y1="93.42" x2="306.50" y2="93.42" stroke="#555" stroke-width="1.3"/>
<line x1="544.80" y1="93.42" x2="546.00" y2="93.42" stroke="#5a5a5a" stroke-width="0.8"/>
<line x1="304.50" y1="91.01" x2="306.50" y2="91.01" stroke="#555" stroke-width="1.3"/>
<line x1="544.80" y1="91.01" x2="546.00" y2="91.01" stroke="#5a5a5a" stroke-width="0.8"/>
<line x1="303.30" y1="88.60" x2="307.70" y2="88.60" stroke="#555" stroke-width="1.0"/>
<line x1="544.80" y1="88.60" x2="546.00" y2="88.60" stroke="#5a5a5a" stroke-width="0.8"/>
<line x1="304.50" y1="86.19" x2="306.50" y2="86.19" stroke="#555" stroke-width="1.3"/>
<line x1="544.80" y1="86.19" x2="546.00" y2="86.19" stroke="#5a5a5a" stroke-width="0.8"/>
<line x1="304.50" y1="83.78" x2="306.50" y2="83.78" stroke="#555" stroke-width="1.3"/>
<line x1="544.80" y1="83.78" x2="546.00" y2="83.78" stroke="#5a5a5a" stroke-width="0.8"/>
<line x1="304.50" y1="81.37" x2="306.50" y2="81.37" stroke="#555" stroke-width="1.3"/>
<line x1="544.80" y1="81.37" x2="546.00" y2="81.37" stroke="#5a5a5a" stroke-width="0.8"/>
<line x1="304.50" y1="78.96" x2="306.50" y2="78.96" stroke="#555" stroke-width="1.3"/>
<line x1="544.80" y1="78.96" x2="546.00" y2="78.96" stroke="#5a5a5a" stroke-width="0.8"/>
<line x1="303.30" y1="76.55" x2="307.70" y2="76.55" stroke="#555" stroke-width="1.0"/>
<line x1="544.80" y1="76.55" x2="546.00" y2="76.55" stroke="#5a5a5a" stroke-width="0.8"/>
<line x1="304.50" y1="74.14" x2="306.50" y2="74.14" stroke="#555" stroke-width="1.3"/>
<line x1="544.80" y1="74.14" x2="546.00" y2="74.14" stroke="#5a5a5a" stroke-width="0.8"/>
<line x1="304.50" y1="71.73" x2="306.50" y2="71.73" stroke="#555" stroke-width="1.3"/>
<line x1="544.80" y1="71.73" x2="546.00" y2="71.73" stroke="#5a5a5a" stroke-width="0.8"/>
<line x1="304.50" y1="69.32" x2="306.50" y2="69.32" stroke="#555" stroke-width="1.3"/>
<line x1="544.80" y1="69.32" x2="546.00" y2="69.32" stroke="#5a5a5a" stroke-width="0.8"/>
<line x1="304.50" y1="66.91" x2="306.50" y2="66.91" stroke="#555" stroke-width="1.3"/>
<line x1="544.80" y1="66.91" x2="546.00" y2="66.91" stroke="#5a5a5a" stroke-width="0.8"/>
<line x1="303.30" y1="64.50" x2="307.70" y2="64.50" stroke="#555" stroke-width="1.0"/>
<line x1="544.80" y1="64.50" x2="546.00" y2="64.50" stroke="#5a5a5a" stroke-width="0.8"/>
<line x1="304.50" y1="62.09" x2="306.50" y2="62.09" stroke="#555" stroke-width="1.3"/>
<line x1="544.80" y1="62.09" x2="546.00" y2="62.09" stroke="#5a5a5a" stroke-width="0.8"/>
<line x1="304.50" y1="59.68" x2="306.50" y2="59.68" stroke="#555" stroke-width="1.3"/>
<line x1="544.80" y1="59.68" x2="546.00" y2="59.68" stroke="#5a5a5a" stroke-width="0.8"/>
<line x1="304.50" y1="57.27" x2="306.50" y2="57.27" stroke="#555" stroke-width="1.3"/>
<line x1="544.80" y1="57.27" x2="546.00" y2="57.27" stroke="#5a5a5a" stroke-width="0.8"/>
<line x1="304.50" y1="54.86" x2="306.50" y2="54.86" stroke="#555" stroke-width="1.3"/>
<line x1="544.80" y1="54.86" x2="546.00" y2="54.86" stroke="#5a5a5a" stroke-width="0.8"/>
<line x1="303.30" y1="52.45" x2="307.70" y2="52.45" stroke="#555" stroke-width="1.0"/>
<line x1="544.80" y1="52.45" x2="546.00" y2="52.45" stroke="#5a5a5a" stroke-width="0.8"/>
<line x1="304.50" y1="50.04" x2="306.50" y2="50.04" stroke="#555" stroke-width="1.3"/>
<line x1="544.80" y1="50.04" x2="546.00" y2="50.04" stroke="#5a5a5a" stroke-width="0.8"/>
<line x1="304.50" y1="47.63" x2="306.50" y2="47.63" stroke="#555" stroke-width="1.3"/>
<line x1="544.80" y1="47.63" x2="546.00" y2="47.63" stroke="#5a5a5a" stroke-width="0.8"/>
<line x1="304.50" y1="45.22" x2="306.50" y2="45.22" stroke="#555" stroke-width="1.3"/>
<line x1="544.80" y1="45.22" x2="546.00" y2="45.22" stroke="#5a5a5a" stroke-width="0.8"/>
<line x1="304.50" y1="42.81" x2="306.50" y2="42.81" stroke="#555" stroke-width="1.3"/>
<line x1="544.80" y1="42.81" x2="546.00" y2="42.81" stroke="#5a5a5a" stroke-width="0.8"/>
<line x1="303.30" y1="40.40" x2="307.70" y2="40.40" stroke="#555" stroke-width="1.0"/>
<line x1="544.80" y1="40.40" x2="546.00" y2="40.40" stroke="#5a5a5a" stroke-width="0.8"/>
<line x1="304.50" y1="37.99" x2="306.50" y2="37.99" stroke="#555" stroke-width="1.3"/>
<line x1="544.80" y1="37.99" x2="546.00" y2="37.99" stroke="#5a5a5a" stroke-width="0.8"/>
<line x1="304.50" y1="35.58" x2="306.50" y2="35.58" stroke="#555" stroke-width="1.3"/>
<line x1="544.80" y1="35.58" x2="546.00" y2="35.58" stroke="#5a5a5a" stroke-width="0.8"/>
<line x1="304.50" y1="33.17" x2="306.50" y2="33.17" stroke="#555" stroke-width="1.3"/>
<line x1="544.80" y1="33.17" x2="546.00" y2="33.17" stroke="#5a5a5a" stroke-width="0.8"/>
<line x1="304.50" y1="30.76" x2="306.50" y2="30.76" stroke="#555" stroke-width="1.3"/>
<line x1="544.80" y1="30.76" x2="546.00" y2="30.76" stroke="#5a5a5a" stroke-width="0.8"/>
<line x1="303.30" y1="28.35" x2="307.70" y2="28.35" stroke="#555" stroke-width="1.0"/>
<line x1="544.80" y1="28.35" x2="546.00" y2="28.35" stroke="#5a5a5a" stroke-width="0.8"/>
<line x1="304.50" y1="25.94" x2="306.50" y2="25.94" stroke="#555" stroke-width="1.3"/>
<line x1="544.80" y1="25.94" x2="546.00" y2="25.94" stroke="#5a5a5a" stroke-width="0.8"/>
<line x1="304.50" y1="23.53" x2="306.50" y2="23.53" stroke="#555" stroke-width="1.3"/>
<line x1="544.80" y1="23.53" x2="546.00" y2="23.53" stroke="#5a5a5a" stroke-width="0.8"/>
<line x1="304.50" y1="21.12" x2="306.50" y2="21.12" stroke="#555" stroke-width="1.3"/>
<line x1="544.80" y1="21.12" x2="546.00" y2="21.12" stroke="#5a5a5a" stroke-width="0.8"/>
<line x1="304.50" y1="18.71" x2="306.50" y2="18.71" stroke="#555" stroke-width="1.3"/>
<line x1="544.80" y1="18.71" x2="546.00" y2="18.71" stroke="#5a5a5a" stroke-width="0.8"/>
<line x1="303.30" y1="16.30" x2="307.70" y2="16.30" stroke="#555" stroke-width="1.0"/>
<line x1="544.80" y1="16.30" x2="546.00" y2="16.30" stroke="#5a5a5a" stroke-width="0.8"/>
<line x1="305.50" y1="14.80" x2="305.50" y2="142.20" stroke="#555" stroke-width="1"/>
<line x1="303.50" y1="140.20" x2="546.00" y2="140.20" stroke="#555" stroke-width="1"/>
<text transform="translate(300.70 139.00) scale(1 1.12)" font-size="5.9" text-anchor="end" font-weight="normal" fill="#333" stroke="#333" stroke-width="0.15" >0</text>
<text transform="translate(300.70 126.95) scale(1 1.12)" font-size="5.9" text-anchor="end" font-weight="normal" fill="#333" stroke="#333" stroke-width="0.15" >1</text>
<text transform="translate(300.70 114.90) scale(1 1.12)" font-size="5.9" text-anchor="end" font-weight="normal" fill="#333" stroke="#333" stroke-width="0.15" >2</text>
<text transform="translate(300.70 102.85) scale(1 1.12)" font-size="5.9" text-anchor="end" font-weight="normal" fill="#333" stroke="#333" stroke-width="0.15" >3</text>
<text transform="translate(300.70 90.80) scale(1 1.12)" font-size="5.9" text-anchor="end" font-weight="normal" fill="#333" stroke="#333" stroke-width="0.15" >4</text>
<text transform="translate(300.70 78.75) scale(1 1.12)" font-size="5.9" text-anchor="end" font-weight="normal" fill="#333" stroke="#333" stroke-width="0.15" >5</text>
<text transform="translate(300.70 66.70) scale(1 1.12)" font-size="5.9" text-anchor="end" font-weight="normal" fill="#333" stroke="#333" stroke-width="0.15" >6</text>
<text transform="translate(300.70 54.65) scale(1 1.12)" font-size="5.9" text-anchor="end" font-weight="normal" fill="#333" stroke="#333" stroke-width="0.15" >7</text>
<text transform="translate(300.70 42.60) scale(1 1.12)" font-size="5.9" text-anchor="end" font-weight="normal" fill="#333" stroke="#333" stroke-width="0.15" >8</text>
<text transform="translate(300.70 30.55) scale(1 1.12)" font-size="5.9" text-anchor="end" font-weight="normal" fill="#333" stroke="#333" stroke-width="0.15" >9</text>
<text transform="translate(300.70 18.50) scale(1 1.12)" font-size="5.9" text-anchor="end" font-weight="normal" fill="#333" stroke="#333" stroke-width="0.15" >10</text>
<text transform="translate(305.50 150.30) scale(1 1.12)" font-size="6.2" text-anchor="middle" font-weight="normal" fill="#333" stroke="#333" stroke-width="0.15" >0</text>
<text transform="translate(362.80 150.30) scale(1 1.12)" font-size="6.2" text-anchor="middle" font-weight="normal" fill="#333" stroke="#333" stroke-width="0.15" >10</text>
<text transform="translate(420.10 150.30) scale(1 1.12)" font-size="6.2" text-anchor="middle" font-weight="normal" fill="#333" stroke="#333" stroke-width="0.15" >20</text>
<text transform="translate(477.40 150.30) scale(1 1.12)" font-size="6.2" text-anchor="middle" font-weight="normal" fill="#333" stroke="#333" stroke-width="0.15" >30</text>
<text transform="translate(534.70 150.30) scale(1 1.12)" font-size="6.2" text-anchor="middle" font-weight="normal" fill="#333" stroke="#333" stroke-width="0.15" >40</text>
<text transform="translate(288.10 77.20) rotate(-90) scale(1 1.25)" font-size="6.3" font-weight="bold" text-anchor="middle" x="0" y="0" stroke="#000" stroke-width="0.1">RFU (10^3)</text>
<line x1="311.23" y1="123.40" x2="534.70" y2="123.40" stroke="#4a73b0" stroke-width="1.5"/>
<polyline points="311.23,136.21 312.66,136.29 314.10,136.36 315.53,136.42 316.96,136.48 318.39,136.52 319.82,136.57 321.26,136.60 322.69,136.64 324.12,136.67 325.56,136.70 326.99,136.73 328.42,136.75 329.85,136.77 331.29,136.80 332.72,136.82 334.15,136.84 335.58,136.86 337.01,136.88 338.45,136.90 339.88,136.92 341.31,136.94 342.75,136.96 344.18,136.98 345.61,137.00 347.04,137.02 348.48,137.05 349.91,137.07 351.34,137.09 352.77,137.11 354.20,137.14 355.64,137.16 357.07,137.18 358.50,137.21 359.94,137.23 361.37,137.25 362.80,137.27 364.23,137.29 365.67,137.31 367.10,137.33 368.53,137.34 369.96,137.36 371.39,137.37 372.83,137.38 374.26,137.39 375.69,137.40 377.12,137.41 378.56,137.41 379.99,137.41 381.42,137.41 382.86,137.41 384.29,137.41 385.72,137.40 387.15,137.39 388.59,137.38 390.02,137.37 391.45,137.35 392.88,137.34 394.31,137.32 395.75,137.30 397.18,137.28 398.61,137.26 400.05,137.24 401.48,137.21 402.91,137.18 404.34,137.16 405.77,137.13 407.21,137.10 408.64,137.07 410.07,137.03 411.50,136.99 412.94,136.95 414.37,136.91 415.80,136.86 417.24,136.81 418.67,136.76 420.10,136.69 421.53,136.62 422.97,136.54 424.40,136.46 425.83,136.35 427.26,136.24 428.69,136.11 430.13,135.96 431.56,135.79 432.99,135.59 434.43,135.37 435.86,135.12 437.29,134.83 438.72,134.50 440.15,134.13 441.59,133.71 443.02,133.23 444.45,132.70 445.88,132.10 447.32,131.43 448.75,130.69 450.18,129.86 451.62,128.95 453.05,127.95 454.48,126.86 455.91,125.68 457.35,124.40 458.78,123.02 460.21,121.56 461.64,120.00 463.08,118.36 464.51,116.64 465.94,114.85 467.37,112.99 468.81,111.09 470.24,109.14 471.67,107.16 473.10,105.15 474.54,103.14 475.97,101.13 477.40,99.12 478.83,97.13 480.26,95.16 481.70,93.23 483.13,91.33 484.56,89.47 486.00,87.65 487.43,85.87 488.86,84.14 490.29,82.45 491.73,80.81 493.16,79.21 494.59,77.66 496.02,76.15 497.46,74.67 498.89,73.24 500.32,71.84 501.75,70.47 503.19,69.13 504.62,67.83 506.05,66.55 507.48,65.29 508.92,64.06 510.35,62.84 511.78,61.65 513.21,60.47 514.64,59.31 516.08,58.17 517.51,57.04 518.94,55.92 520.38,54.81 521.81,53.71 523.24,52.62 524.67,51.54 526.11,50.46 527.54,49.39 528.97,48.33 530.40,47.28 531.84,46.23 533.27,45.18 534.70,44.14" fill="none" stroke="#5c5cf2" stroke-width="1.15"/>
<polyline points="311.23,135.85 312.66,135.97 314.10,136.09 315.53,136.18 316.96,136.27 318.39,136.34 319.82,136.41 321.26,136.47 322.69,136.52 324.12,136.57 325.56,136.61 326.99,136.65 328.42,136.68 329.85,136.71 331.29,136.74 332.72,136.77 334.15,136.80 335.58,136.82 337.01,136.85 338.45,136.87 339.88,136.90 341.31,136.92 342.75,136.94 344.18,136.97 345.61,136.99 347.04,137.01 348.48,137.04 349.91,137.06 351.34,137.08 352.77,137.11 354.20,137.13 355.64,137.16 357.07,137.18 358.50,137.20 359.94,137.22 361.37,137.25 362.80,137.27 364.23,137.29 365.67,137.31 367.10,137.33 368.53,137.34 369.96,137.36 371.39,137.37 372.83,137.38 374.26,137.39 375.69,137.40 377.12,137.41 378.56,137.41 379.99,137.41 381.42,137.41 382.86,137.41 384.29,137.41 385.72,137.40 387.15,137.39 388.59,137.38 390.02,137.37 391.45,137.35 392.88,137.34 394.31,137.32 395.75,137.30 397.18,137.28 398.61,137.25 400.05,137.23 401.48,137.20 402.91,137.18 404.34,137.15 405.77,137.12 407.21,137.09 408.64,137.05 410.07,137.01 411.50,136.97 412.94,136.93 414.37,136.89 415.80,136.83 417.24,136.78 418.67,136.72 420.10,136.65 421.53,136.57 422.97,136.48 424.40,136.38 425.83,136.27 427.26,136.14 428.69,135.99 430.13,135.82 431.56,135.63 432.99,135.41 434.43,135.16 435.86,134.88 437.29,134.55 438.72,134.19 440.15,133.77 441.59,133.30 443.02,132.77 444.45,132.17 445.88,131.50 447.32,130.76 448.75,129.93 450.18,129.02 451.62,128.01 453.05,126.91 454.48,125.71 455.91,124.42 457.35,123.02 458.78,121.53 460.21,119.94 461.64,118.26 463.08,116.50 464.51,114.66 465.94,112.76 467.37,110.80 468.81,108.79 470.24,106.76 471.67,104.69 473.10,102.62 474.54,100.55 475.97,98.48 477.40,96.44 478.83,94.42 480.26,92.43 481.70,90.48 483.13,88.57 484.56,86.70 486.00,84.88 487.43,83.11 488.86,81.39 490.29,79.72 491.73,78.09 493.16,76.51 494.59,74.97 496.02,73.48 497.46,72.02 498.89,70.60 500.32,69.21 501.75,67.86 503.19,66.54 504.62,65.24 506.05,63.97 507.48,62.72 508.92,61.50 510.35,60.30 511.78,59.11 513.21,57.94 514.64,56.79 516.08,55.64 517.51,54.52 518.94,53.40 520.38,52.29 521.81,51.19 523.24,50.10 524.67,49.02 526.11,47.95 527.54,46.88 528.97,45.81 530.40,44.76 531.84,43.70 533.27,42.65 534.70,41.61" fill="none" stroke="#5c5cf2" stroke-width="1.15"/>
<polyline points="311.23,136.21 312.66,136.29 314.10,136.36 315.53,136.42 316.96,136.48 318.39,136.52 319.82,136.57 321.26,136.60 322.69,136.64 324.12,136.67 325.56,136.70 326.99,136.73 328.42,136.75 329.85,136.77 331.29,136.80 332.72,136.82 334.15,136.84 335.58,136.86 337.01,136.88 338.45,136.90 339.88,136.92 341.31,136.94 342.75,136.96 344.18,136.98 345.61,137.00 347.04,137.02 348.48,137.04 349.91,137.07 351.34,137.09 352.77,137.11 354.20,137.14 355.64,137.16 357.07,137.18 358.50,137.20 359.94,137.23 361.37,137.25 362.80,137.27 364.23,137.29 365.67,137.31 367.10,137.32 368.53,137.34 369.96,137.35 371.39,137.37 372.83,137.38 374.26,137.39 375.69,137.40 377.12,137.40 378.56,137.40 379.99,137.41 381.42,137.40 382.86,137.40 384.29,137.40 385.72,137.39 387.15,137.38 388.59,137.37 390.02,137.35 391.45,137.34 392.88,137.32 394.31,137.30 395.75,137.28 397.18,137.26 398.61,137.24 400.05,137.21 401.48,137.18 402.91,137.15 404.34,137.12 405.77,137.09 407.21,137.06 408.64,137.02 410.07,136.98 411.50,136.94 412.94,136.90 414.37,136.85 415.80,136.79 417.24,136.73 418.67,136.66 420.10,136.59 421.53,136.50 422.97,136.41 424.40,136.30 425.83,136.18 427.26,136.03 428.69,135.87 430.13,135.68 431.56,135.47 432.99,135.22 434.43,134.94 435.86,134.61 437.29,134.24 438.72,133.82 440.15,133.33 441.59,132.78 443.02,132.15 444.45,131.44 445.88,130.64 447.32,129.74 448.75,128.73 450.18,127.61 451.62,126.37 453.05,125.00 454.48,123.50 455.91,121.87 457.35,120.10 458.78,118.20 460.21,116.17 461.64,114.03 463.08,111.77 464.51,109.41 465.94,106.97 467.37,104.46 468.81,101.90 470.24,99.30 471.67,96.68 473.10,94.06 474.54,91.45 475.97,88.87 477.40,86.33 478.83,83.84 480.26,81.41 481.70,79.04 483.13,76.75 484.56,74.52 486.00,72.37 487.43,70.29 488.86,68.28 490.29,66.35 491.73,64.48 493.16,62.67 494.59,60.92 496.02,59.23 497.46,57.60 498.89,56.01 500.32,54.47 501.75,52.96 503.19,51.50 504.62,50.07 506.05,48.67 507.48,47.30 508.92,45.96 510.35,44.63 511.78,43.33 513.21,42.05 514.64,40.79 516.08,39.54 517.51,38.30 518.94,37.08 520.38,35.86 521.81,34.66 523.24,33.47 524.67,32.28 526.11,31.10 527.54,29.93 528.97,28.76 530.40,27.60 531.84,26.44 533.27,25.28 534.70,24.13" fill="none" stroke="#5fae5a" stroke-width="1.15"/>
<polyline points="311.23,136.21 312.66,136.29 314.10,136.36 315.53,136.42 316.96,136.48 318.39,136.52 319.82,136.57 321.26,136.60 322.69,136.64 324.12,136.67 325.56,136.70 326.99,136.73 328.42,136.75 329.85,136.77 331.29,136.80 332.72,136.82 334.15,136.84 335.58,136.86 337.01,136.88 338.45,136.90 339.88,136.92 341.31,136.94 342.75,136.96 344.18,136.98 345.61,137.00 347.04,137.02 348.48,137.04 349.91,137.07 351.34,137.09 352.77,137.11 354.20,137.14 355.64,137.16 357.07,137.18 358.50,137.20 359.94,137.22 361.37,137.25 362.80,137.27 364.23,137.29 365.67,137.31 367.10,137.32 368.53,137.34 369.96,137.35 371.39,137.37 372.83,137.38 374.26,137.39 375.69,137.40 377.12,137.40 378.56,137.40 379.99,137.40 381.42,137.40 382.86,137.40 384.29,137.39 385.72,137.39 387.15,137.38 388.59,137.37 390.02,137.35 391.45,137.34 392.88,137.32 394.31,137.30 395.75,137.28 397.18,137.26 398.61,137.23 400.05,137.20 401.48,137.18 402.91,137.15 404.34,137.12 405.77,137.08 407.21,137.05 408.64,137.01 410.07,136.97 411.50,136.92 412.94,136.87 414.37,136.82 415.80,136.76 417.24,136.70 418.67,136.62 420.10,136.54 421.53,136.45 422.97,136.34 424.40,136.22 425.83,136.09 427.26,135.93 428.69,135.75 430.13,135.54 431.56,135.31 432.99,135.04 434.43,134.72 435.86,134.37 437.29,133.96 438.72,133.49 440.15,132.95 441.59,132.35 443.02,131.66 444.45,130.88 445.88,130.00 447.32,129.02 448.75,127.92 450.18,126.70 451.62,125.36 453.05,123.88 454.48,122.26 455.91,120.51 457.35,118.62 458.78,116.59 460.21,114.44 461.64,112.17 463.08,109.80 464.51,107.33 465.94,104.78 467.37,102.17 468.81,99.52 470.24,96.85 471.67,94.17 473.10,91.50 474.54,88.85 475.97,86.24 477.40,83.68 478.83,81.17 480.26,78.74 481.70,76.37 483.13,74.08 484.56,71.87 486.00,69.73 487.43,67.67 488.86,65.68 490.29,63.76 491.73,61.91 493.16,60.13 494.59,58.40 496.02,56.73 497.46,55.11 498.89,53.54 500.32,52.01 501.75,50.52 503.19,49.07 504.62,47.65 506.05,46.26 507.48,44.90 508.92,43.56 510.35,42.24 511.78,40.95 513.21,39.67 514.64,38.41 516.08,37.16 517.51,35.93 518.94,34.70 520.38,33.49 521.81,32.28 523.24,31.09 524.67,29.90 526.11,28.72 527.54,27.54 528.97,26.37 530.40,25.20 531.84,24.04 533.27,22.88 534.70,21.72" fill="none" stroke="#5fae5a" stroke-width="1.15"/>
<polyline points="311.23,134.40 312.66,134.72 314.10,134.99 315.53,135.23 316.96,135.44 318.39,135.62 319.82,135.78 321.26,135.92 322.69,136.04 324.12,136.15 325.56,136.25 326.99,136.33 328.42,136.41 329.85,136.48 331.29,136.54 332.72,136.59 334.15,136.64 335.58,136.69 337.01,136.73 338.45,136.77 339.88,136.81 341.31,136.84 342.75,136.87 344.18,136.91 345.61,136.94 347.04,136.97 348.48,137.00 349.91,137.02 351.34,137.05 352.77,137.08 354.20,137.11 355.64,137.13 357.07,137.16 358.50,137.19 359.94,137.21 361.37,137.23 362.80,137.26 364.23,137.28 365.67,137.30 367.10,137.32 368.53,137.33 369.96,137.35 371.39,137.36 372.83,137.38 374.26,137.39 375.69,137.39 377.12,137.40 378.56,137.40 379.99,137.41 381.42,137.41 382.86,137.40 384.29,137.40 385.72,137.39 387.15,137.38 388.59,137.37 390.02,137.36 391.45,137.35 392.88,137.33 394.31,137.31 395.75,137.29 397.18,137.27 398.61,137.25 400.05,137.23 401.48,137.20 402.91,137.18 404.34,137.15 405.77,137.12 407.21,137.09 408.64,137.06 410.07,137.03 411.50,136.99 412.94,136.96 414.37,136.92 415.80,136.88 417.24,136.83 418.67,136.78 420.10,136.72 421.53,136.66 422.97,136.59 424.40,136.51 425.83,136.42 427.26,136.31 428.69,136.19 430.13,136.06 431.56,135.91 432.99,135.73 434.43,135.52 435.86,135.29 437.29,135.02 438.72,134.71 440.15,134.36 441.59,133.96 443.02,133.50 444.45,132.98 445.88,132.40 447.32,131.73 448.75,130.98 450.18,130.15 451.62,129.21 453.05,128.17 454.48,127.02 455.91,125.76 457.35,124.38 458.78,122.87 460.21,121.25 461.64,119.51 463.08,117.65 464.51,115.68 465.94,113.61 467.37,111.45 468.81,109.21 470.24,106.90 471.67,104.54 473.10,102.14 474.54,99.72 475.97,97.29 477.40,94.87 478.83,92.46 480.26,90.09 481.70,87.75 483.13,85.47 484.56,83.23 486.00,81.05 487.43,78.94 488.86,76.88 490.29,74.89 491.73,72.96 493.16,71.09 494.59,69.29 496.02,67.53 497.46,65.84 498.89,64.19 500.32,62.60 501.75,61.04 503.19,59.53 504.62,58.06 506.05,56.62 507.48,55.22 508.92,53.84 510.35,52.49 511.78,51.17 513.21,49.87 514.64,48.59 516.08,47.32 517.51,46.08 518.94,44.85 520.38,43.63 521.81,42.43 523.24,41.23 524.67,40.05 526.11,38.87 527.54,37.71 528.97,36.55 530.40,35.39 531.84,34.25 533.27,33.10 534.70,31.97" fill="none" stroke="#a87448" stroke-width="1.15"/>
<polyline points="311.23,135.00 312.66,135.24 314.10,135.45 315.53,135.63 316.96,135.78 318.39,135.92 319.82,136.04 321.26,136.15 322.69,136.24 324.12,136.33 325.56,136.40 326.99,136.46 328.42,136.52 329.85,136.58 331.29,136.62 332.72,136.67 334.15,136.71 335.58,136.74 337.01,136.78 338.45,136.81 339.88,136.84 341.31,136.87 342.75,136.90 344.18,136.93 345.61,136.96 347.04,136.99 348.48,137.01 349.91,137.04 351.34,137.07 352.77,137.09 354.20,137.12 355.64,137.14 357.07,137.17 358.50,137.19 359.94,137.22 361.37,137.24 362.80,137.26 364.23,137.28 365.67,137.30 367.10,137.32 368.53,137.34 369.96,137.35 371.39,137.37 372.83,137.38 374.26,137.39 375.69,137.40 377.12,137.40 378.56,137.41 379.99,137.41 381.42,137.41 382.86,137.40 384.29,137.40 385.72,137.39 387.15,137.38 388.59,137.37 390.02,137.36 391.45,137.34 392.88,137.33 394.31,137.31 395.75,137.29 397.18,137.27 398.61,137.24 400.05,137.22 401.48,137.19 402.91,137.16 404.34,137.13 405.77,137.10 407.21,137.07 408.64,137.03 410.07,137.00 411.50,136.96 412.94,136.91 414.37,136.87 415.80,136.81 417.24,136.76 418.67,136.69 420.10,136.62 421.53,136.54 422.97,136.45 424.40,136.34 425.83,136.23 427.26,136.09 428.69,135.94 430.13,135.76 431.56,135.56 432.99,135.33 434.43,135.06 435.86,134.76 437.29,134.41 438.72,134.01 440.15,133.56 441.59,133.05 443.02,132.47 444.45,131.81 445.88,131.07 447.32,130.23 448.75,129.31 450.18,128.27 451.62,127.13 453.05,125.87 454.48,124.50 455.91,123.00 457.35,121.38 458.78,119.64 460.21,117.78 461.64,115.82 463.08,113.74 464.51,111.58 465.94,109.34 467.37,107.03 468.81,104.66 470.24,102.26 471.67,99.84 473.10,97.41 474.54,94.98 475.97,92.58 477.40,90.20 478.83,87.86 480.26,85.58 481.70,83.34 483.13,81.17 484.56,79.06 486.00,77.01 487.43,75.03 488.86,73.11 490.29,71.25 491.73,69.45 493.16,67.71 494.59,66.03 496.02,64.40 497.46,62.81 498.89,61.27 500.32,59.77 501.75,58.32 503.19,56.89 504.62,55.50 506.05,54.14 507.48,52.81 508.92,51.50 510.35,50.21 511.78,48.95 513.21,47.70 514.64,46.47 516.08,45.25 517.51,44.05 518.94,42.86 520.38,41.68 521.81,40.51 523.24,39.34 524.67,38.19 526.11,37.04 527.54,35.90 528.97,34.77 530.40,33.64 531.84,32.52 533.27,31.40 534.70,30.28" fill="none" stroke="#a87448" stroke-width="1.15"/>
<polyline points="311.23,134.16 312.66,134.51 314.10,134.81 315.53,135.07 316.96,135.30 318.39,135.50 319.82,135.68 321.26,135.83 322.69,135.97 324.12,136.08 325.56,136.19 326.99,136.28 328.42,136.36 329.85,136.44 331.29,136.50 332.72,136.56 334.15,136.62 335.58,136.66 337.01,136.71 338.45,136.75 339.88,136.79 341.31,136.83 342.75,136.86 344.18,136.90 345.61,136.93 347.04,136.96 348.48,136.99 349.91,137.02 351.34,137.05 352.77,137.08 354.20,137.10 355.64,137.13 357.07,137.16 358.50,137.18 359.94,137.21 361.37,137.23 362.80,137.26 364.23,137.28 365.67,137.30 367.10,137.32 368.53,137.34 369.96,137.35 371.39,137.37 372.83,137.38 374.26,137.39 375.69,137.40 377.12,137.40 378.56,137.41 379.99,137.41 381.42,137.41 382.86,137.41 384.29,137.40 385.72,137.40 387.15,137.39 388.59,137.38 390.02,137.36 391.45,137.35 392.88,137.33 394.31,137.31 395.75,137.29 397.18,137.27 398.61,137.25 400.05,137.22 401.48,137.20 402.91,137.17 404.34,137.14 405.77,137.11 407.21,137.07 408.64,137.04 410.07,137.00 411.50,136.96 412.94,136.91 414.37,136.86 415.80,136.81 417.24,136.75 418.67,136.68 420.10,136.61 421.53,136.52 422.97,136.43 424.40,136.32 425.83,136.20 427.26,136.06 428.69,135.90 430.13,135.71 431.56,135.50 432.99,135.26 434.43,134.99 435.86,134.68 437.29,134.33 438.72,133.92 440.15,133.47 441.59,132.95 443.02,132.37 444.45,131.72 445.88,130.99 447.32,130.17 448.75,129.27 450.18,128.27 451.62,127.17 453.05,125.97 454.48,124.66 455.91,123.25 457.35,121.73 458.78,120.11 460.21,118.39 461.64,116.58 463.08,114.69 464.51,112.72 465.94,110.69 467.37,108.60 468.81,106.47 470.24,104.32 471.67,102.15 473.10,99.97 474.54,97.81 475.97,95.66 477.40,93.53 478.83,91.45 480.26,89.40 481.70,87.40 483.13,85.44 484.56,83.54 486.00,81.69 487.43,79.89 488.86,78.14 490.29,76.45 491.73,74.81 493.16,73.21 494.59,71.66 496.02,70.15 497.46,68.68 498.89,67.25 500.32,65.86 501.75,64.50 503.19,63.17 504.62,61.87 506.05,60.59 507.48,59.33 508.92,58.10 510.35,56.89 511.78,55.69 513.21,54.51 514.64,53.35 516.08,52.20 517.51,51.06 518.94,49.93 520.38,48.81 521.81,47.70 523.24,46.60 524.67,45.50 526.11,44.42 527.54,43.33 528.97,42.26 530.40,41.18 531.84,40.12 533.27,39.05 534.70,37.99" fill="none" stroke="#ff55a5" stroke-width="1.15"/>
<polyline points="311.23,133.80 312.66,134.19 314.10,134.53 315.53,134.83 316.96,135.09 318.39,135.32 319.82,135.52 321.26,135.69 322.69,135.85 324.12,135.98 325.56,136.10 326.99,136.20 328.42,136.29 329.85,136.38 331.29,136.45 332.72,136.52 334.15,136.58 335.58,136.63 337.01,136.68 338.45,136.73 339.88,136.77 341.31,136.81 342.75,136.85 344.18,136.88 345.61,136.92 347.04,136.95 348.48,136.98 349.91,137.01 351.34,137.04 352.77,137.07 354.20,137.10 355.64,137.13 357.07,137.15 358.50,137.18 359.94,137.20 361.37,137.23 362.80,137.25 364.23,137.27 365.67,137.29 367.10,137.31 368.53,137.33 369.96,137.35 371.39,137.36 372.83,137.37 374.26,137.39 375.69,137.39 377.12,137.40 378.56,137.40 379.99,137.41 381.42,137.41 382.86,137.40 384.29,137.40 385.72,137.39 387.15,137.38 388.59,137.37 390.02,137.36 391.45,137.34 392.88,137.33 394.31,137.31 395.75,137.29 397.18,137.26 398.61,137.24 400.05,137.21 401.48,137.19 402.91,137.16 404.34,137.13 405.77,137.10 407.21,137.06 408.64,137.02 410.07,136.98 411.50,136.94 412.94,136.90 414.37,136.84 415.80,136.79 417.24,136.73 418.67,136.66 420.10,136.58 421.53,136.49 422.97,136.39 424.40,136.28 425.83,136.15 427.26,136.00 428.69,135.83 430.13,135.64 431.56,135.42 432.99,135.17 434.43,134.88 435.86,134.55 437.29,134.17 438.72,133.74 440.15,133.25 441.59,132.69 443.02,132.06 444.45,131.36 445.88,130.56 447.32,129.67 448.75,128.68 450.18,127.59 451.62,126.38 453.05,125.06 454.48,123.61 455.91,122.05 457.35,120.37 458.78,118.57 460.21,116.66 461.64,114.65 463.08,112.54 464.51,110.35 465.94,108.09 467.37,105.77 468.81,103.41 470.24,101.02 471.67,98.63 473.10,96.23 474.54,93.85 475.97,91.50 477.40,89.18 478.83,86.91 480.26,84.69 481.70,82.52 483.13,80.42 484.56,78.38 486.00,76.40 487.43,74.48 488.86,72.63 490.29,70.83 491.73,69.10 493.16,67.41 494.59,65.78 496.02,64.20 497.46,62.67 498.89,61.17 500.32,59.72 501.75,58.30 503.19,56.91 504.62,55.56 506.05,54.23 507.48,52.93 508.92,51.65 510.35,50.39 511.78,49.15 513.21,47.92 514.64,46.71 516.08,45.52 517.51,44.34 518.94,43.17 520.38,42.00 521.81,40.85 523.24,39.71 524.67,38.57 526.11,37.44 527.54,36.32 528.97,35.20 530.40,34.08 531.84,32.97 533.27,31.86 534.70,30.76" fill="none" stroke="#ff55a5" stroke-width="1.15"/>
<text x="416.60" y="8.60" font-size="7.3" text-anchor="middle" font-weight="bold" fill="#000" >Amplification</text>
<text x="283.10" y="26.10" font-size="15.3" text-anchor="start" font-weight="normal" fill="#000" stroke="#000" stroke-width="0.4" >B</text>
<rect x="305.70" y="14.80" width="33.40" height="49.00" fill="#000"/>
<rect x="339.10" y="24.60" width="93.20" height="39.20" fill="#fff"/>
<rect x="339.10" y="14.80" width="23.35" height="9.80" fill="#0b2cf5"/>
<text transform="translate(350.75 22.40) scale(1 1.14)" font-size="7.2" text-anchor="middle" font-weight="normal" fill="#fff" stroke="#fff" stroke-width="0.18" >MM-1</text>
<rect x="362.40" y="14.80" width="23.35" height="9.80" fill="#11a34a"/>
<text transform="translate(374.05 22.40) scale(1 1.14)" font-size="7.2" text-anchor="middle" font-weight="normal" fill="#fff" stroke="#fff" stroke-width="0.18" >MM-2</text>
<rect x="385.70" y="14.80" width="23.35" height="9.80" fill="#9a5518"/>
<text transform="translate(397.35 22.40) scale(1 1.14)" font-size="7.2" text-anchor="middle" font-weight="normal" fill="#fff" stroke="#fff" stroke-width="0.18" >MM-3</text>
<rect x="409.00" y="14.80" width="23.35" height="9.80" fill="#ff2e8e"/>
<text transform="translate(420.65 22.40) scale(1 1.14)" font-size="7.2" text-anchor="middle" font-weight="normal" fill="#fff" stroke="#fff" stroke-width="0.18" >MM-4</text>
<text transform="translate(308.30 22.60) scale(1 1.12)" font-size="7.3" text-anchor="start" font-weight="normal" fill="#fff" stroke="#fff" stroke-width="0.12" >Assay B</text>
<text transform="translate(308.30 32.80) scale(1 1.12)" font-size="7.3" text-anchor="start" font-weight="normal" fill="#fff" stroke="#fff" stroke-width="0.12" >Cq1</text>
<text transform="translate(350.75 32.80) scale(1 1.12)" font-size="7.3" text-anchor="middle" font-weight="normal" fill="#111" stroke="#111" stroke-width="0.12" >26.65</text>
<text transform="translate(374.05 32.80) scale(1 1.12)" font-size="7.3" text-anchor="middle" font-weight="normal" fill="#111" stroke="#111" stroke-width="0.12" >25.98</text>
<text transform="translate(397.35 32.80) scale(1 1.12)" font-size="7.3" text-anchor="middle" font-weight="normal" fill="#111" stroke="#111" stroke-width="0.12" >26.63</text>
<text transform="translate(420.65 32.80) scale(1 1.12)" font-size="7.3" text-anchor="middle" font-weight="normal" fill="#111" stroke="#111" stroke-width="0.12" >26.19</text>
<text transform="translate(308.30 42.60) scale(1 1.12)" font-size="7.3" text-anchor="start" font-weight="normal" fill="#fff" stroke="#fff" stroke-width="0.12" >Cq2</text>
<text transform="translate(350.75 42.60) scale(1 1.12)" font-size="7.3" text-anchor="middle" font-weight="normal" fill="#111" stroke="#111" stroke-width="0.12" >26.40</text>
<text transform="translate(374.05 42.60) scale(1 1.12)" font-size="7.3" text-anchor="middle" font-weight="normal" fill="#111" stroke="#111" stroke-width="0.12" >25.79</text>
<text transform="translate(397.35 42.60) scale(1 1.12)" font-size="7.3" text-anchor="middle" font-weight="normal" fill="#111" stroke="#111" stroke-width="0.12" >26.15</text>
<text transform="translate(420.65 42.60) scale(1 1.12)" font-size="7.3" text-anchor="middle" font-weight="normal" fill="#111" stroke="#111" stroke-width="0.12" >26.00</text>
<rect x="339.10" y="44.20" width="93.70" height="9.80" fill="#e6e6e6"/>
<text transform="translate(308.30 52.40) scale(1 1.12)" font-size="7.3" text-anchor="start" font-weight="normal" fill="#fff" stroke="#fff" stroke-width="0.12" >Avge Cq</text>
<text transform="translate(350.75 52.40) scale(1 1.12)" font-size="7.3" text-anchor="middle" font-weight="bold" fill="#111" stroke="#111" stroke-width="0.05" >26.53</text>
<text transform="translate(374.05 52.40) scale(1 1.12)" font-size="7.3" text-anchor="middle" font-weight="bold" fill="#111" stroke="#111" stroke-width="0.05" >25.89</text>
<text transform="translate(397.35 52.40) scale(1 1.12)" font-size="7.3" text-anchor="middle" font-weight="bold" fill="#111" stroke="#111" stroke-width="0.05" >26.39</text>
<text transform="translate(420.65 52.40) scale(1 1.12)" font-size="7.3" text-anchor="middle" font-weight="bold" fill="#111" stroke="#111" stroke-width="0.05" >26.10</text>
<text transform="translate(308.30 62.20) scale(1 1.12)" font-size="7.3" text-anchor="start" font-weight="normal" fill="#fff" stroke="#fff" stroke-width="0.12" >SD</text>
<text transform="translate(350.75 62.20) scale(1 1.12)" font-size="7.3" text-anchor="middle" font-weight="normal" fill="#111" stroke="#111" stroke-width="0.12" >0.18</text>
<text transform="translate(374.05 62.20) scale(1 1.12)" font-size="7.3" text-anchor="middle" font-weight="normal" fill="#111" stroke="#111" stroke-width="0.12" >0.13</text>
<text transform="translate(397.35 62.20) scale(1 1.12)" font-size="7.3" text-anchor="middle" font-weight="normal" fill="#111" stroke="#111" stroke-width="0.12" >0.34</text>
<text transform="translate(420.65 62.20) scale(1 1.12)" font-size="7.3" text-anchor="middle" font-weight="normal" fill="#111" stroke="#111" stroke-width="0.12" >0.13</text>
<rect x="339.10" y="64.40" width="23.30" height="1.3" fill="#7f96e8"/>
<rect x="362.40" y="64.40" width="23.30" height="1.3" fill="#8fd0a0"/>
<rect x="385.70" y="64.40" width="23.30" height="1.3" fill="#c9a585"/>
<line x1="27.90" y1="290.90" x2="268.80" y2="290.90" stroke="#a4a4a4" stroke-width="0.9" stroke-dasharray="0.9,1.6"/>
<line x1="27.90" y1="274.04" x2="268.80" y2="274.04" stroke="#a4a4a4" stroke-width="0.9" stroke-dasharray="0.9,1.6"/>
<line x1="27.90" y1="257.18" x2="268.80" y2="257.18" stroke="#a4a4a4" stroke-width="0.9" stroke-dasharray="0.9,1.6"/>
<line x1="27.90" y1="240.32" x2="268.80" y2="240.32" stroke="#a4a4a4" stroke-width="0.9" stroke-dasharray="0.9,1.6"/>
<line x1="27.90" y1="223.46" x2="268.80" y2="223.46" stroke="#a4a4a4" stroke-width="0.9" stroke-dasharray="0.9,1.6"/>
<line x1="27.90" y1="206.60" x2="268.80" y2="206.60" stroke="#a4a4a4" stroke-width="0.9" stroke-dasharray="0.9,1.6"/>
<line x1="27.90" y1="189.74" x2="268.80" y2="189.74" stroke="#a4a4a4" stroke-width="0.9" stroke-dasharray="0.9,1.6"/>
<line x1="27.90" y1="172.88" x2="268.80" y2="172.88" stroke="#a4a4a4" stroke-width="0.9" stroke-dasharray="0.9,1.6"/>
<line x1="85.20" y1="169.00" x2="85.20" y2="294.30" stroke="#a4a4a4" stroke-width="0.9" stroke-dasharray="0.9,1.6"/>
<line x1="142.50" y1="169.00" x2="142.50" y2="294.30" stroke="#a4a4a4" stroke-width="0.9" stroke-dasharray="0.9,1.6"/>
<line x1="199.80" y1="169.00" x2="199.80" y2="294.30" stroke="#a4a4a4" stroke-width="0.9" stroke-dasharray="0.9,1.6"/>
<line x1="257.10" y1="169.00" x2="257.10" y2="294.30" stroke="#a4a4a4" stroke-width="0.9" stroke-dasharray="0.9,1.6"/>
<polyline points="27.90,169.00 268.80,169.00 268.80,294.30" fill="none" stroke="#5a5a5a" stroke-width="1.2"/>
<line x1="27.90" y1="292.10" x2="27.90" y2="296.50" stroke="#555" stroke-width="1.0"/>
<line x1="27.90" y1="169.00" x2="27.90" y2="170.50" stroke="#5a5a5a" stroke-width="0.8"/>
<line x1="39.36" y1="293.30" x2="39.36" y2="295.30" stroke="#555" stroke-width="1.3"/>
<line x1="39.36" y1="169.00" x2="39.36" y2="170.50" stroke="#5a5a5a" stroke-width="0.8"/>
<line x1="50.82" y1="293.30" x2="50.82" y2="295.30" stroke="#555" stroke-width="1.3"/>
<line x1="50.82" y1="169.00" x2="50.82" y2="170.50" stroke="#5a5a5a" stroke-width="0.8"/>
<line x1="62.28" y1="293.30" x2="62.28" y2="295.30" stroke="#555" stroke-width="1.3"/>
<line x1="62.28" y1="169.00" x2="62.28" y2="170.50" stroke="#5a5a5a" stroke-width="0.8"/>
<line x1="73.74" y1="293.30" x2="73.74" y2="295.30" stroke="#555" stroke-width="1.3"/>
<line x1="73.74" y1="169.00" x2="73.74" y2="170.50" stroke="#5a5a5a" stroke-width="0.8"/>
<line x1="85.20" y1="292.10" x2="85.20" y2="296.50" stroke="#555" stroke-width="1.0"/>
<line x1="85.20" y1="169.00" x2="85.20" y2="170.50" stroke="#5a5a5a" stroke-width="0.8"/>
<line x1="96.66" y1="293.30" x2="96.66" y2="295.30" stroke="#555" stroke-width="1.3"/>
<line x1="96.66" y1="169.00" x2="96.66" y2="170.50" stroke="#5a5a5a" stroke-width="0.8"/>
<line x1="108.12" y1="293.30" x2="108.12" y2="295.30" stroke="#555" stroke-width="1.3"/>
<line x1="108.12" y1="169.00" x2="108.12" y2="170.50" stroke="#5a5a5a" stroke-width="0.8"/>
<line x1="119.58" y1="293.30" x2="119.58" y2="295.30" stroke="#555" stroke-width="1.3"/>
<line x1="119.58" y1="169.00" x2="119.58" y2="170.50" stroke="#5a5a5a" stroke-width="0.8"/>
<line x1="131.04" y1="293.30" x2="131.04" y2="295.30" stroke="#555" stroke-width="1.3"/>
<line x1="131.04" y1="169.00" x2="131.04" y2="170.50" stroke="#5a5a5a" stroke-width="0.8"/>
<line x1="142.50" y1="292.10" x2="142.50" y2="296.50" stroke="#555" stroke-width="1.0"/>
<line x1="142.50" y1="169.00" x2="142.50" y2="170.50" stroke="#5a5a5a" stroke-width="0.8"/>
<line x1="153.96" y1="293.30" x2="153.96" y2="295.30" stroke="#555" stroke-width="1.3"/>
<line x1="153.96" y1="169.00" x2="153.96" y2="170.50" stroke="#5a5a5a" stroke-width="0.8"/>
<line x1="165.42" y1="293.30" x2="165.42" y2="295.30" stroke="#555" stroke-width="1.3"/>
<line x1="165.42" y1="169.00" x2="165.42" y2="170.50" stroke="#5a5a5a" stroke-width="0.8"/>
<line x1="176.88" y1="293.30" x2="176.88" y2="295.30" stroke="#555" stroke-width="1.3"/>
<line x1="176.88" y1="169.00" x2="176.88" y2="170.50" stroke="#5a5a5a" stroke-width="0.8"/>
<line x1="188.34" y1="293.30" x2="188.34" y2="295.30" stroke="#555" stroke-width="1.3"/>
<line x1="188.34" y1="169.00" x2="188.34" y2="170.50" stroke="#5a5a5a" stroke-width="0.8"/>
<line x1="199.80" y1="292.10" x2="199.80" y2="296.50" stroke="#555" stroke-width="1.0"/>
<line x1="199.80" y1="169.00" x2="199.80" y2="170.50" stroke="#5a5a5a" stroke-width="0.8"/>
<line x1="211.26" y1="293.30" x2="211.26" y2="295.30" stroke="#555" stroke-width="1.3"/>
<line x1="211.26" y1="169.00" x2="211.26" y2="170.50" stroke="#5a5a5a" stroke-width="0.8"/>
<line x1="222.72" y1="293.30" x2="222.72" y2="295.30" stroke="#555" stroke-width="1.3"/>
<line x1="222.72" y1="169.00" x2="222.72" y2="170.50" stroke="#5a5a5a" stroke-width="0.8"/>
<line x1="234.18" y1="293.30" x2="234.18" y2="295.30" stroke="#555" stroke-width="1.3"/>
<line x1="234.18" y1="169.00" x2="234.18" y2="170.50" stroke="#5a5a5a" stroke-width="0.8"/>
<line x1="245.64" y1="293.30" x2="245.64" y2="295.30" stroke="#555" stroke-width="1.3"/>
<line x1="245.64" y1="169.00" x2="245.64" y2="170.50" stroke="#5a5a5a" stroke-width="0.8"/>
<line x1="257.10" y1="292.10" x2="257.10" y2="296.50" stroke="#555" stroke-width="1.0"/>
<line x1="257.10" y1="169.00" x2="257.10" y2="170.50" stroke="#5a5a5a" stroke-width="0.8"/>
<line x1="25.70" y1="290.90" x2="30.10" y2="290.90" stroke="#555" stroke-width="1.0"/>
<line x1="267.60" y1="290.90" x2="268.80" y2="290.90" stroke="#5a5a5a" stroke-width="0.8"/>
<line x1="26.90" y1="286.69" x2="28.90" y2="286.69" stroke="#555" stroke-width="1.3"/>
<line x1="267.60" y1="286.69" x2="268.80" y2="286.69" stroke="#5a5a5a" stroke-width="0.8"/>
<line x1="26.90" y1="282.47" x2="28.90" y2="282.47" stroke="#555" stroke-width="1.3"/>
<line x1="267.60" y1="282.47" x2="268.80" y2="282.47" stroke="#5a5a5a" stroke-width="0.8"/>
<line x1="26.90" y1="278.25" x2="28.90" y2="278.25" stroke="#555" stroke-width="1.3"/>
<line x1="267.60" y1="278.25" x2="268.80" y2="278.25" stroke="#5a5a5a" stroke-width="0.8"/>
<line x1="25.70" y1="274.04" x2="30.10" y2="274.04" stroke="#555" stroke-width="1.0"/>
<line x1="267.60" y1="274.04" x2="268.80" y2="274.04" stroke="#5a5a5a" stroke-width="0.8"/>
<line x1="26.90" y1="269.82" x2="28.90" y2="269.82" stroke="#555" stroke-width="1.3"/>
<line x1="267.60" y1="269.82" x2="268.80" y2="269.82" stroke="#5a5a5a" stroke-width="0.8"/>
<line x1="26.90" y1="265.61" x2="28.90" y2="265.61" stroke="#555" stroke-width="1.3"/>
<line x1="267.60" y1="265.61" x2="268.80" y2="265.61" stroke="#5a5a5a" stroke-width="0.8"/>
<line x1="26.90" y1="261.39" x2="28.90" y2="261.39" stroke="#555" stroke-width="1.3"/>
<line x1="267.60" y1="261.39" x2="268.80" y2="261.39" stroke="#5a5a5a" stroke-width="0.8"/>
<line x1="25.70" y1="257.18" x2="30.10" y2="257.18" stroke="#555" stroke-width="1.0"/>
<line x1="267.60" y1="257.18" x2="268.80" y2="257.18" stroke="#5a5a5a" stroke-width="0.8"/>
<line x1="26.90" y1="252.96" x2="28.90" y2="252.96" stroke="#555" stroke-width="1.3"/>
<line x1="267.60" y1="252.96" x2="268.80" y2="252.96" stroke="#5a5a5a" stroke-width="0.8"/>
<line x1="26.90" y1="248.75" x2="28.90" y2="248.75" stroke="#555" stroke-width="1.3"/>
<line x1="267.60" y1="248.75" x2="268.80" y2="248.75" stroke="#5a5a5a" stroke-width="0.8"/>
<line x1="26.90" y1="244.53" x2="28.90" y2="244.53" stroke="#555" stroke-width="1.3"/>
<line x1="267.60" y1="244.53" x2="268.80" y2="244.53" stroke="#5a5a5a" stroke-width="0.8"/>
<line x1="25.70" y1="240.32" x2="30.10" y2="240.32" stroke="#555" stroke-width="1.0"/>
<line x1="267.60" y1="240.32" x2="268.80" y2="240.32" stroke="#5a5a5a" stroke-width="0.8"/>
<line x1="26.90" y1="236.10" x2="28.90" y2="236.10" stroke="#555" stroke-width="1.3"/>
<line x1="267.60" y1="236.10" x2="268.80" y2="236.10" stroke="#5a5a5a" stroke-width="0.8"/>
<line x1="26.90" y1="231.89" x2="28.90" y2="231.89" stroke="#555" stroke-width="1.3"/>
<line x1="267.60" y1="231.89" x2="268.80" y2="231.89" stroke="#5a5a5a" stroke-width="0.8"/>
<line x1="26.90" y1="227.67" x2="28.90" y2="227.67" stroke="#555" stroke-width="1.3"/>
<line x1="267.60" y1="227.67" x2="268.80" y2="227.67" stroke="#5a5a5a" stroke-width="0.8"/>
<line x1="25.70" y1="223.46" x2="30.10" y2="223.46" stroke="#555" stroke-width="1.0"/>
<line x1="267.60" y1="223.46" x2="268.80" y2="223.46" stroke="#5a5a5a" stroke-width="0.8"/>
<line x1="26.90" y1="219.24" x2="28.90" y2="219.24" stroke="#555" stroke-width="1.3"/>
<line x1="267.60" y1="219.24" x2="268.80" y2="219.24" stroke="#5a5a5a" stroke-width="0.8"/>
<line x1="26.90" y1="215.03" x2="28.90" y2="215.03" stroke="#555" stroke-width="1.3"/>
<line x1="267.60" y1="215.03" x2="268.80" y2="215.03" stroke="#5a5a5a" stroke-width="0.8"/>
<line x1="26.90" y1="210.81" x2="28.90" y2="210.81" stroke="#555" stroke-width="1.3"/>
<line x1="267.60" y1="210.81" x2="268.80" y2="210.81" stroke="#5a5a5a" stroke-width="0.8"/>
<line x1="25.70" y1="206.60" x2="30.10" y2="206.60" stroke="#555" stroke-width="1.0"/>
<line x1="267.60" y1="206.60" x2="268.80" y2="206.60" stroke="#5a5a5a" stroke-width="0.8"/>
<line x1="26.90" y1="202.38" x2="28.90" y2="202.38" stroke="#555" stroke-width="1.3"/>
<line x1="267.60" y1="202.38" x2="268.80" y2="202.38" stroke="#5a5a5a" stroke-width="0.8"/>
<line x1="26.90" y1="198.17" x2="28.90" y2="198.17" stroke="#555" stroke-width="1.3"/>
<line x1="267.60" y1="198.17" x2="268.80" y2="198.17" stroke="#5a5a5a" stroke-width="0.8"/>
<line x1="26.90" y1="193.95" x2="28.90" y2="193.95" stroke="#555" stroke-width="1.3"/>
<line x1="267.60" y1="193.95" x2="268.80" y2="193.95" stroke="#5a5a5a" stroke-width="0.8"/>
<line x1="25.70" y1="189.74" x2="30.10" y2="189.74" stroke="#555" stroke-width="1.0"/>
<line x1="267.60" y1="189.74" x2="268.80" y2="189.74" stroke="#5a5a5a" stroke-width="0.8"/>
<line x1="26.90" y1="185.52" x2="28.90" y2="185.52" stroke="#555" stroke-width="1.3"/>
<line x1="267.60" y1="185.52" x2="268.80" y2="185.52" stroke="#5a5a5a" stroke-width="0.8"/>
<line x1="26.90" y1="181.31" x2="28.90" y2="181.31" stroke="#555" stroke-width="1.3"/>
<line x1="267.60" y1="181.31" x2="268.80" y2="181.31" stroke="#5a5a5a" stroke-width="0.8"/>
<line x1="26.90" y1="177.09" x2="28.90" y2="177.09" stroke="#555" stroke-width="1.3"/>
<line x1="267.60" y1="177.09" x2="268.80" y2="177.09" stroke="#5a5a5a" stroke-width="0.8"/>
<line x1="25.70" y1="172.88" x2="30.10" y2="172.88" stroke="#555" stroke-width="1.0"/>
<line x1="267.60" y1="172.88" x2="268.80" y2="172.88" stroke="#5a5a5a" stroke-width="0.8"/>
<line x1="26.90" y1="168.66" x2="28.90" y2="168.66" stroke="#555" stroke-width="1.3"/>
<line x1="267.60" y1="168.66" x2="268.80" y2="168.66" stroke="#5a5a5a" stroke-width="0.8"/>
<line x1="27.90" y1="169.00" x2="27.90" y2="296.30" stroke="#555" stroke-width="1"/>
<line x1="25.90" y1="294.30" x2="268.80" y2="294.30" stroke="#555" stroke-width="1"/>
<text transform="translate(23.10 293.10) scale(1 1.12)" font-size="5.9" text-anchor="end" font-weight="normal" fill="#333" stroke="#333" stroke-width="0.15" >0</text>
<text transform="translate(23.10 276.24) scale(1 1.12)" font-size="5.9" text-anchor="end" font-weight="normal" fill="#333" stroke="#333" stroke-width="0.15" >2</text>
<text transform="translate(23.10 259.38) scale(1 1.12)" font-size="5.9" text-anchor="end" font-weight="normal" fill="#333" stroke="#333" stroke-width="0.15" >4</text>
<text transform="translate(23.10 242.52) scale(1 1.12)" font-size="5.9" text-anchor="end" font-weight="normal" fill="#333" stroke="#333" stroke-width="0.15" >6</text>
<text transform="translate(23.10 225.66) scale(1 1.12)" font-size="5.9" text-anchor="end" font-weight="normal" fill="#333" stroke="#333" stroke-width="0.15" >8</text>
<text transform="translate(23.10 208.80) scale(1 1.12)" font-size="5.9" text-anchor="end" font-weight="normal" fill="#333" stroke="#333" stroke-width="0.15" >10</text>
<text transform="translate(23.10 191.94) scale(1 1.12)" font-size="5.9" text-anchor="end" font-weight="normal" fill="#333" stroke="#333" stroke-width="0.15" >12</text>
<text transform="translate(23.10 175.08) scale(1 1.12)" font-size="5.9" text-anchor="end" font-weight="normal" fill="#333" stroke="#333" stroke-width="0.15" >14</text>
<text transform="translate(27.90 304.40) scale(1 1.12)" font-size="6.2" text-anchor="middle" font-weight="normal" fill="#333" stroke="#333" stroke-width="0.15" >0</text>
<text transform="translate(85.20 304.40) scale(1 1.12)" font-size="6.2" text-anchor="middle" font-weight="normal" fill="#333" stroke="#333" stroke-width="0.15" >10</text>
<text transform="translate(142.50 304.40) scale(1 1.12)" font-size="6.2" text-anchor="middle" font-weight="normal" fill="#333" stroke="#333" stroke-width="0.15" >20</text>
<text transform="translate(199.80 304.40) scale(1 1.12)" font-size="6.2" text-anchor="middle" font-weight="normal" fill="#333" stroke="#333" stroke-width="0.15" >30</text>
<text transform="translate(257.10 304.40) scale(1 1.12)" font-size="6.2" text-anchor="middle" font-weight="normal" fill="#333" stroke="#333" stroke-width="0.15" >40</text>
<text transform="translate(10.80 231.50) rotate(-90) scale(1 1.25)" font-size="6.3" font-weight="bold" text-anchor="middle" x="0" y="0" stroke="#000" stroke-width="0.1">RFU (10^3)</text>
<line x1="33.63" y1="281.00" x2="257.10" y2="281.00" stroke="#4a73b0" stroke-width="1.5"/>
<polyline points="33.63,290.23 35.06,290.32 36.49,290.40 37.93,290.47 39.36,290.53 40.79,290.58 42.23,290.63 43.66,290.67 45.09,290.70 46.52,290.74 47.95,290.77 49.39,290.79 50.82,290.82 52.25,290.84 53.69,290.86 55.12,290.88 56.55,290.90 57.98,290.92 59.41,290.93 60.85,290.95 62.28,290.97 63.71,290.98 65.15,291.00 66.58,291.02 68.01,291.03 69.44,291.05 70.88,291.07 72.31,291.08 73.74,291.10 75.17,291.12 76.61,291.13 78.04,291.15 79.47,291.17 80.90,291.18 82.34,291.20 83.77,291.21 85.20,291.23 86.63,291.24 88.06,291.26 89.50,291.27 90.93,291.28 92.36,291.29 93.80,291.30 95.23,291.31 96.66,291.32 98.09,291.33 99.53,291.33 100.96,291.34 102.39,291.34 103.82,291.34 105.25,291.34 106.69,291.34 108.12,291.33 109.55,291.33 110.99,291.32 112.42,291.32 113.85,291.31 115.28,291.30 116.72,291.29 118.15,291.28 119.58,291.27 121.01,291.26 122.44,291.25 123.88,291.23 125.31,291.22 126.74,291.21 128.18,291.20 129.61,291.18 131.04,291.17 132.47,291.15 133.91,291.14 135.34,291.12 136.77,291.10 138.20,291.08 139.64,291.06 141.07,291.04 142.50,291.01 143.93,290.98 145.37,290.94 146.80,290.90 148.23,290.85 149.66,290.80 151.09,290.73 152.53,290.65 153.96,290.56 155.39,290.46 156.83,290.33 158.26,290.19 159.69,290.02 161.12,289.82 162.56,289.59 163.99,289.32 165.42,289.01 166.85,288.65 168.29,288.24 169.72,287.78 171.15,287.25 172.58,286.65 174.02,285.97 175.45,285.22 176.88,284.37 178.31,283.44 179.75,282.41 181.18,281.28 182.61,280.05 184.04,278.71 185.48,277.28 186.91,275.75 188.34,274.13 189.77,272.41 191.21,270.62 192.64,268.76 194.07,266.84 195.50,264.86 196.94,262.85 198.37,260.80 199.80,258.74 201.23,256.67 202.67,254.60 204.10,252.55 205.53,250.51 206.96,248.49 208.40,246.50 209.83,244.55 211.26,242.64 212.69,240.76 214.13,238.92 215.56,237.13 216.99,235.37 218.42,233.66 219.86,231.98 221.29,230.34 222.72,228.74 224.15,227.17 225.59,225.63 227.02,224.12 228.45,222.64 229.88,221.19 231.32,219.76 232.75,218.35 234.18,216.97 235.61,215.60 237.05,214.25 238.48,212.91 239.91,211.59 241.34,210.28 242.78,208.99 244.21,207.70 245.64,206.43 247.07,205.16 248.51,203.90 249.94,202.65 251.37,201.41 252.80,200.17 254.24,198.94 255.67,197.71 257.10,196.48" fill="none" stroke="#5c5cf2" stroke-width="1.15"/>
<polyline points="33.63,290.49 35.06,290.54 36.49,290.59 37.93,290.63 39.36,290.67 40.79,290.71 42.23,290.74 43.66,290.76 45.09,290.79 46.52,290.81 47.95,290.83 49.39,290.85 50.82,290.87 52.25,290.88 53.69,290.90 55.12,290.91 56.55,290.93 57.98,290.94 59.41,290.96 60.85,290.97 62.28,290.98 63.71,291.00 65.15,291.01 66.58,291.03 68.01,291.04 69.44,291.06 70.88,291.07 72.31,291.09 73.74,291.11 75.17,291.12 76.61,291.14 78.04,291.16 79.47,291.17 80.90,291.19 82.34,291.20 83.77,291.22 85.20,291.24 86.63,291.25 88.06,291.26 89.50,291.28 90.93,291.29 92.36,291.30 93.80,291.31 95.23,291.32 96.66,291.33 98.09,291.34 99.53,291.34 100.96,291.35 102.39,291.35 103.82,291.35 105.25,291.35 106.69,291.35 108.12,291.35 109.55,291.34 110.99,291.34 112.42,291.33 113.85,291.33 115.28,291.32 116.72,291.31 118.15,291.30 119.58,291.29 121.01,291.28 122.44,291.26 123.88,291.25 125.31,291.23 126.74,291.22 128.18,291.20 129.61,291.18 131.04,291.16 132.47,291.14 133.91,291.11 135.34,291.08 136.77,291.05 138.20,291.01 139.64,290.97 141.07,290.92 142.50,290.86 143.93,290.79 145.37,290.70 146.80,290.61 148.23,290.50 149.66,290.37 151.09,290.22 152.53,290.04 153.96,289.83 155.39,289.59 156.83,289.31 158.26,288.99 159.69,288.62 161.12,288.19 162.56,287.70 163.99,287.15 165.42,286.52 166.85,285.80 168.29,285.00 169.72,284.11 171.15,283.11 172.58,282.00 174.02,280.79 175.45,279.46 176.88,278.02 178.31,276.46 179.75,274.79 181.18,273.01 182.61,271.13 184.04,269.15 185.48,267.08 186.91,264.94 188.34,262.73 189.77,260.46 191.21,258.16 192.64,255.83 194.07,253.48 195.50,251.12 196.94,248.77 198.37,246.44 199.80,244.13 201.23,241.85 202.67,239.61 204.10,237.40 205.53,235.24 206.96,233.12 208.40,231.05 209.83,229.03 211.26,227.05 212.69,225.11 214.13,223.22 215.56,221.37 216.99,219.56 218.42,217.79 219.86,216.06 221.29,214.35 222.72,212.68 224.15,211.04 225.59,209.42 227.02,207.83 228.45,206.26 229.88,204.71 231.32,203.18 232.75,201.67 234.18,200.18 235.61,198.69 237.05,197.23 238.48,195.77 239.91,194.32 241.34,192.89 242.78,191.46 244.21,190.04 245.64,188.63 247.07,187.22 248.51,185.82 249.94,184.43 251.37,183.04 252.80,181.65 254.24,180.27 255.67,178.89 257.10,177.52" fill="none" stroke="#5c5cf2" stroke-width="1.15"/>
<polyline points="33.63,290.49 35.06,290.54 36.49,290.59 37.93,290.64 39.36,290.67 40.79,290.71 42.23,290.74 43.66,290.76 45.09,290.79 46.52,290.81 47.95,290.83 49.39,290.85 50.82,290.87 52.25,290.88 53.69,290.90 55.12,290.91 56.55,290.93 57.98,290.94 59.41,290.96 60.85,290.97 62.28,290.98 63.71,291.00 65.15,291.01 66.58,291.03 68.01,291.04 69.44,291.06 70.88,291.07 72.31,291.09 73.74,291.11 75.17,291.12 76.61,291.14 78.04,291.16 79.47,291.17 80.90,291.19 82.34,291.21 83.77,291.22 85.20,291.24 86.63,291.25 88.06,291.27 89.50,291.28 90.93,291.29 92.36,291.30 93.80,291.31 95.23,291.32 96.66,291.33 98.09,291.34 99.53,291.35 100.96,291.35 102.39,291.35 103.82,291.35 105.25,291.36 106.69,291.35 108.12,291.35 109.55,291.35 110.99,291.34 112.42,291.34 113.85,291.33 115.28,291.32 116.72,291.31 118.15,291.30 119.58,291.29 121.01,291.28 122.44,291.26 123.88,291.25 125.31,291.23 126.74,291.21 128.18,291.19 129.61,291.17 131.04,291.14 132.47,291.12 133.91,291.08 135.34,291.04 136.77,291.00 138.20,290.95 139.64,290.89 141.07,290.83 142.50,290.75 143.93,290.66 145.37,290.55 146.80,290.42 148.23,290.28 149.66,290.11 151.09,289.91 152.53,289.68 153.96,289.41 155.39,289.10 156.83,288.74 158.26,288.33 159.69,287.86 161.12,287.32 162.56,286.71 163.99,286.02 165.42,285.24 166.85,284.37 168.29,283.40 169.72,282.33 171.15,281.14 172.58,279.85 174.02,278.43 175.45,276.90 176.88,275.26 178.31,273.51 179.75,271.64 181.18,269.68 182.61,267.63 184.04,265.50 185.48,263.29 186.91,261.03 188.34,258.73 189.77,256.39 191.21,254.03 192.64,251.67 194.07,249.30 195.50,246.95 196.94,244.62 198.37,242.31 199.80,240.05 201.23,237.81 202.67,235.63 204.10,233.48 205.53,231.38 206.96,229.33 208.40,227.33 209.83,225.37 211.26,223.45 212.69,221.58 214.13,219.75 215.56,217.95 216.99,216.20 218.42,214.47 219.86,212.78 221.29,211.12 222.72,209.49 224.15,207.88 225.59,206.29 227.02,204.73 228.45,203.19 229.88,201.66 231.32,200.15 232.75,198.66 234.18,197.18 235.61,195.71 237.05,194.25 238.48,192.80 239.91,191.36 241.34,189.93 242.78,188.51 244.21,187.09 245.64,185.69 247.07,184.28 248.51,182.88 249.94,181.49 251.37,180.10 252.80,178.71 254.24,177.33 255.67,175.94 257.10,174.57" fill="none" stroke="#5fae5a" stroke-width="1.15"/>
<polyline points="33.63,290.07 35.06,290.18 36.49,290.27 37.93,290.36 39.36,290.43 40.79,290.50 42.23,290.55 43.66,290.60 45.09,290.65 46.52,290.69 47.95,290.72 49.39,290.76 50.82,290.79 52.25,290.81 53.69,290.84 55.12,290.86 56.55,290.88 57.98,290.90 59.41,290.92 60.85,290.94 62.28,290.96 63.71,290.98 65.15,290.99 66.58,291.01 68.01,291.03 69.44,291.05 70.88,291.06 72.31,291.08 73.74,291.10 75.17,291.12 76.61,291.13 78.04,291.15 79.47,291.17 80.90,291.18 82.34,291.20 83.77,291.22 85.20,291.23 86.63,291.25 88.06,291.26 89.50,291.27 90.93,291.29 92.36,291.30 93.80,291.31 95.23,291.32 96.66,291.33 98.09,291.33 99.53,291.34 100.96,291.34 102.39,291.34 103.82,291.34 105.25,291.34 106.69,291.34 108.12,291.34 109.55,291.33 110.99,291.33 112.42,291.32 113.85,291.31 115.28,291.30 116.72,291.29 118.15,291.28 119.58,291.26 121.01,291.25 122.44,291.23 123.88,291.21 125.31,291.19 126.74,291.17 128.18,291.14 129.61,291.12 131.04,291.08 132.47,291.05 133.91,291.01 135.34,290.97 136.77,290.92 138.20,290.86 139.64,290.80 141.07,290.73 142.50,290.64 143.93,290.54 145.37,290.43 146.80,290.29 148.23,290.14 149.66,289.96 151.09,289.76 152.53,289.52 153.96,289.25 155.39,288.94 156.83,288.58 158.26,288.17 159.69,287.70 161.12,287.17 162.56,286.56 163.99,285.89 165.42,285.13 166.85,284.28 168.29,283.33 169.72,282.29 171.15,281.14 172.58,279.89 174.02,278.52 175.45,277.05 176.88,275.47 178.31,273.79 179.75,272.01 181.18,270.13 182.61,268.17 184.04,266.13 185.48,264.03 186.91,261.88 188.34,259.68 189.77,257.45 191.21,255.21 192.64,252.95 194.07,250.70 195.50,248.47 196.94,246.25 198.37,244.05 199.80,241.89 201.23,239.77 202.67,237.68 204.10,235.64 205.53,233.64 206.96,231.68 208.40,229.77 209.83,227.90 211.26,226.07 212.69,224.29 214.13,222.54 215.56,220.83 216.99,219.15 218.42,217.51 219.86,215.89 221.29,214.31 222.72,212.75 224.15,211.22 225.59,209.71 227.02,208.22 228.45,206.75 229.88,205.30 231.32,203.86 232.75,202.44 234.18,201.03 235.61,199.64 237.05,198.25 238.48,196.88 239.91,195.52 241.34,194.16 242.78,192.81 244.21,191.47 245.64,190.14 247.07,188.81 248.51,187.48 249.94,186.16 251.37,184.85 252.80,183.54 254.24,182.23 255.67,180.93 257.10,179.62" fill="none" stroke="#5fae5a" stroke-width="1.15"/>
<polyline points="33.63,289.64 35.06,289.81 36.49,289.95 37.93,290.08 39.36,290.19 40.79,290.29 42.23,290.37 43.66,290.45 45.09,290.51 46.52,290.57 47.95,290.62 49.39,290.67 50.82,290.71 52.25,290.74 53.69,290.78 55.12,290.81 56.55,290.83 57.98,290.86 59.41,290.88 60.85,290.91 62.28,290.93 63.71,290.95 65.15,290.97 66.58,290.99 68.01,291.01 69.44,291.03 70.88,291.04 72.31,291.06 73.74,291.08 75.17,291.10 76.61,291.11 78.04,291.13 79.47,291.15 80.90,291.16 82.34,291.18 83.77,291.19 85.20,291.20 86.63,291.21 88.06,291.22 89.50,291.23 90.93,291.24 92.36,291.25 93.80,291.25 95.23,291.26 96.66,291.26 98.09,291.26 99.53,291.25 100.96,291.25 102.39,291.24 103.82,291.23 105.25,291.21 106.69,291.20 108.12,291.18 109.55,291.16 110.99,291.13 112.42,291.10 113.85,291.07 115.28,291.04 116.72,291.00 118.15,290.95 119.58,290.91 121.01,290.86 122.44,290.80 123.88,290.74 125.31,290.68 126.74,290.61 128.18,290.53 129.61,290.45 131.04,290.36 132.47,290.27 133.91,290.16 135.34,290.05 136.77,289.93 138.20,289.80 139.64,289.66 141.07,289.50 142.50,289.33 143.93,289.15 145.37,288.95 146.80,288.73 148.23,288.50 149.66,288.24 151.09,287.97 152.53,287.67 153.96,287.34 155.39,286.99 156.83,286.60 158.26,286.19 159.69,285.74 161.12,285.26 162.56,284.74 163.99,284.18 165.42,283.58 166.85,282.93 168.29,282.25 169.72,281.51 171.15,280.73 172.58,279.89 174.02,279.01 175.45,278.08 176.88,277.09 178.31,276.06 179.75,274.97 181.18,273.83 182.61,272.65 184.04,271.42 185.48,270.14 186.91,268.83 188.34,267.47 189.77,266.08 191.21,264.66 192.64,263.20 194.07,261.73 195.50,260.24 196.94,258.73 198.37,257.21 199.80,255.68 201.23,254.16 202.67,252.63 204.10,251.12 205.53,249.61 206.96,248.11 208.40,246.64 209.83,245.18 211.26,243.75 212.69,242.34 214.13,240.95 215.56,239.60 216.99,238.27 218.42,236.97 219.86,235.70 221.29,234.46 222.72,233.25 224.15,232.08 225.59,230.93 227.02,229.81 228.45,228.72 229.88,227.65 231.32,226.62 232.75,225.61 234.18,224.62 235.61,223.66 237.05,222.72 238.48,221.80 239.91,220.91 241.34,220.03 242.78,219.17 244.21,218.33 245.64,217.51 247.07,216.70 248.51,215.90 249.94,215.12 251.37,214.36 252.80,213.60 254.24,212.86 255.67,212.13 257.10,211.41" fill="none" stroke="#a87448" stroke-width="1.15"/>
<polyline points="33.63,290.07 35.06,290.18 36.49,290.27 37.93,290.36 39.36,290.43 40.79,290.50 42.23,290.55 43.66,290.60 45.09,290.65 46.52,290.69 47.95,290.73 49.39,290.76 50.82,290.79 52.25,290.81 53.69,290.84 55.12,290.86 56.55,290.88 57.98,290.90 59.41,290.92 60.85,290.94 62.28,290.96 63.71,290.97 65.15,290.99 66.58,291.01 68.01,291.02 69.44,291.04 70.88,291.06 72.31,291.07 73.74,291.09 75.17,291.10 76.61,291.12 78.04,291.14 79.47,291.15 80.90,291.17 82.34,291.18 83.77,291.19 85.20,291.21 86.63,291.22 88.06,291.23 89.50,291.24 90.93,291.24 92.36,291.25 93.80,291.25 95.23,291.26 96.66,291.26 98.09,291.26 99.53,291.25 100.96,291.25 102.39,291.24 103.82,291.23 105.25,291.22 106.69,291.20 108.12,291.18 109.55,291.16 110.99,291.13 112.42,291.10 113.85,291.07 115.28,291.04 116.72,291.00 118.15,290.96 119.58,290.91 121.01,290.86 122.44,290.81 123.88,290.75 125.31,290.69 126.74,290.62 128.18,290.54 129.61,290.46 131.04,290.37 132.47,290.28 133.91,290.18 135.34,290.07 136.77,289.95 138.20,289.81 139.64,289.67 141.07,289.52 142.50,289.35 143.93,289.17 145.37,288.97 146.80,288.76 148.23,288.53 149.66,288.28 151.09,288.00 152.53,287.70 153.96,287.38 155.39,287.03 156.83,286.65 158.26,286.24 159.69,285.80 161.12,285.32 162.56,284.80 163.99,284.25 165.42,283.65 166.85,283.01 168.29,282.33 169.72,281.60 171.15,280.82 172.58,280.00 174.02,279.12 175.45,278.19 176.88,277.21 178.31,276.18 179.75,275.10 181.18,273.97 182.61,272.79 184.04,271.56 185.48,270.29 186.91,268.98 188.34,267.63 189.77,266.24 191.21,264.82 192.64,263.37 194.07,261.90 195.50,260.40 196.94,258.89 198.37,257.37 199.80,255.85 201.23,254.32 202.67,252.79 204.10,251.27 205.53,249.76 206.96,248.26 208.40,246.78 209.83,245.32 211.26,243.88 212.69,242.47 214.13,241.08 215.56,239.72 216.99,238.38 218.42,237.08 219.86,235.80 221.29,234.56 222.72,233.35 224.15,232.16 225.59,231.01 227.02,229.88 228.45,228.79 229.88,227.72 231.32,226.68 232.75,225.66 234.18,224.67 235.61,223.71 237.05,222.76 238.48,221.84 239.91,220.94 241.34,220.06 242.78,219.20 244.21,218.35 245.64,217.53 247.07,216.72 248.51,215.92 249.94,215.14 251.37,214.37 252.80,213.61 254.24,212.86 255.67,212.13 257.10,211.41" fill="none" stroke="#a87448" stroke-width="1.15"/>
<polyline points="33.63,289.90 35.06,290.03 36.49,290.15 37.93,290.25 39.36,290.33 40.79,290.41 42.23,290.48 43.66,290.54 45.09,290.59 46.52,290.64 47.95,290.68 49.39,290.72 50.82,290.75 52.25,290.78 53.69,290.81 55.12,290.84 56.55,290.86 57.98,290.88 59.41,290.91 60.85,290.93 62.28,290.94 63.71,290.96 65.15,290.98 66.58,291.00 68.01,291.02 69.44,291.03 70.88,291.05 72.31,291.07 73.74,291.09 75.17,291.10 76.61,291.12 78.04,291.13 79.47,291.15 80.90,291.17 82.34,291.18 83.77,291.19 85.20,291.21 86.63,291.22 88.06,291.23 89.50,291.24 90.93,291.25 92.36,291.26 93.80,291.26 95.23,291.26 96.66,291.27 98.09,291.27 99.53,291.26 100.96,291.26 102.39,291.25 103.82,291.25 105.25,291.23 106.69,291.22 108.12,291.20 109.55,291.19 110.99,291.16 112.42,291.14 113.85,291.11 115.28,291.08 116.72,291.05 118.15,291.01 119.58,290.97 121.01,290.93 122.44,290.89 123.88,290.84 125.31,290.78 126.74,290.72 128.18,290.66 129.61,290.59 131.04,290.52 132.47,290.44 133.91,290.36 135.34,290.27 136.77,290.17 138.20,290.07 139.64,289.95 141.07,289.83 142.50,289.69 143.93,289.55 145.37,289.39 146.80,289.22 148.23,289.04 149.66,288.84 151.09,288.63 152.53,288.39 153.96,288.14 155.39,287.87 156.83,287.57 158.26,287.26 159.69,286.91 161.12,286.54 162.56,286.15 163.99,285.72 165.42,285.27 166.85,284.78 168.29,284.26 169.72,283.71 171.15,283.12 172.58,282.50 174.02,281.85 175.45,281.16 176.88,280.43 178.31,279.67 179.75,278.87 181.18,278.04 182.61,277.18 184.04,276.29 185.48,275.37 186.91,274.43 188.34,273.46 189.77,272.47 191.21,271.46 192.64,270.44 194.07,269.40 195.50,268.35 196.94,267.30 198.37,266.24 199.80,265.19 201.23,264.13 202.67,263.08 204.10,262.04 205.53,261.01 206.96,260.00 208.40,258.99 209.83,258.00 211.26,257.03 212.69,256.08 214.13,255.15 215.56,254.23 216.99,253.34 218.42,252.47 219.86,251.62 221.29,250.78 222.72,249.98 224.15,249.19 225.59,248.42 227.02,247.67 228.45,246.94 229.88,246.22 231.32,245.53 232.75,244.85 234.18,244.19 235.61,243.54 237.05,242.91 238.48,242.30 239.91,241.69 241.34,241.10 242.78,240.53 244.21,239.96 245.64,239.40 247.07,238.85 248.51,238.32 249.94,237.79 251.37,237.27 252.80,236.76 254.24,236.25 255.67,235.75 257.10,235.26" fill="none" stroke="#ff55a5" stroke-width="1.15"/>
<polyline points="33.63,290.07 35.06,290.18 36.49,290.27 37.93,290.36 39.36,290.43 40.79,290.50 42.23,290.55 43.66,290.60 45.09,290.65 46.52,290.69 47.95,290.72 49.39,290.76 50.82,290.79 52.25,290.81 53.69,290.84 55.12,290.86 56.55,290.88 57.98,290.90 59.41,290.92 60.85,290.94 62.28,290.96 63.71,290.97 65.15,290.99 66.58,291.01 68.01,291.02 69.44,291.04 70.88,291.06 72.31,291.07 73.74,291.09 75.17,291.11 76.61,291.12 78.04,291.14 79.47,291.15 80.90,291.17 82.34,291.18 83.77,291.20 85.20,291.21 86.63,291.22 88.06,291.23 89.50,291.24 90.93,291.25 92.36,291.26 93.80,291.27 95.23,291.27 96.66,291.27 98.09,291.27 99.53,291.27 100.96,291.27 102.39,291.26 103.82,291.26 105.25,291.25 106.69,291.23 108.12,291.22 109.55,291.20 110.99,291.18 112.42,291.16 113.85,291.13 115.28,291.11 116.72,291.08 118.15,291.04 119.58,291.01 121.01,290.97 122.44,290.92 123.88,290.88 125.31,290.83 126.74,290.77 128.18,290.71 129.61,290.65 131.04,290.58 132.47,290.51 133.91,290.43 135.34,290.34 136.77,290.25 138.20,290.15 139.64,290.04 141.07,289.92 142.50,289.78 143.93,289.64 145.37,289.49 146.80,289.32 148.23,289.13 149.66,288.93 151.09,288.71 152.53,288.47 153.96,288.20 155.39,287.91 156.83,287.60 158.26,287.26 159.69,286.89 161.12,286.48 162.56,286.04 163.99,285.56 165.42,285.05 166.85,284.49 168.29,283.89 169.72,283.25 171.15,282.56 172.58,281.83 174.02,281.04 175.45,280.21 176.88,279.33 178.31,278.41 179.75,277.44 181.18,276.43 182.61,275.38 184.04,274.29 185.48,273.17 186.91,272.01 188.34,270.83 189.77,269.63 191.21,268.41 192.64,267.17 194.07,265.93 195.50,264.68 196.94,263.44 198.37,262.19 199.80,260.95 201.23,259.72 202.67,258.50 204.10,257.30 205.53,256.11 206.96,254.95 208.40,253.80 209.83,252.67 211.26,251.57 212.69,250.49 214.13,249.43 215.56,248.40 216.99,247.39 218.42,246.40 219.86,245.43 221.29,244.49 222.72,243.57 224.15,242.67 225.59,241.79 227.02,240.93 228.45,240.08 229.88,239.26 231.32,238.45 232.75,237.66 234.18,236.89 235.61,236.13 237.05,235.38 238.48,234.64 239.91,233.92 241.34,233.21 242.78,232.51 244.21,231.83 245.64,231.15 247.07,230.48 248.51,229.81 249.94,229.16 251.37,228.51 252.80,227.87 254.24,227.24 255.67,226.61 257.10,225.99" fill="none" stroke="#ff55a5" stroke-width="1.15"/>
<text x="138.80" y="162.30" font-size="7.3" text-anchor="middle" font-weight="bold" fill="#000" >Amplification</text>
<text x="2.90" y="183.00" font-size="15.3" text-anchor="start" font-weight="normal" fill="#000" stroke="#000" stroke-width="0.4" >C</text>
<rect x="28.00" y="169.20" width="32.30" height="38.00" fill="#000"/>
<rect x="60.30" y="178.70" width="93.80" height="28.50" fill="#fff"/>
<rect x="60.30" y="169.20" width="23.50" height="9.50" fill="#0b2cf5"/>
<text transform="translate(72.02 176.50) scale(1 1.14)" font-size="7.2" text-anchor="middle" font-weight="normal" fill="#fff" stroke="#fff" stroke-width="0.18" >MM-1</text>
<rect x="83.75" y="169.20" width="23.50" height="9.50" fill="#11a34a"/>
<text transform="translate(95.47 176.50) scale(1 1.14)" font-size="7.2" text-anchor="middle" font-weight="normal" fill="#fff" stroke="#fff" stroke-width="0.18" >MM-2</text>
<rect x="107.20" y="169.20" width="23.50" height="9.50" fill="#9a5518"/>
<text transform="translate(118.92 176.50) scale(1 1.14)" font-size="7.2" text-anchor="middle" font-weight="normal" fill="#fff" stroke="#fff" stroke-width="0.18" >MM-3</text>
<rect x="130.65" y="169.20" width="23.50" height="9.50" fill="#ff2e8e"/>
<text transform="translate(142.37 176.50) scale(1 1.14)" font-size="7.2" text-anchor="middle" font-weight="normal" fill="#fff" stroke="#fff" stroke-width="0.18" >MM-4</text>
<text transform="translate(29.60 176.70) scale(1 1.12)" font-size="7.3" text-anchor="start" font-weight="normal" fill="#fff" stroke="#fff" stroke-width="0.12" >Assay C</text>
<text transform="translate(29.60 186.60) scale(1 1.12)" font-size="7.3" text-anchor="start" font-weight="normal" fill="#fff" stroke="#fff" stroke-width="0.12" >Cq1</text>
<text transform="translate(72.02 186.60) scale(1 1.12)" font-size="7.3" text-anchor="middle" font-weight="normal" fill="#111" stroke="#111" stroke-width="0.12" >25.83</text>
<text transform="translate(95.47 186.60) scale(1 1.12)" font-size="7.3" text-anchor="middle" font-weight="normal" fill="#111" stroke="#111" stroke-width="0.12" >25.02</text>
<text transform="translate(118.92 186.60) scale(1 1.12)" font-size="7.3" text-anchor="middle" font-weight="normal" fill="#111" stroke="#111" stroke-width="0.12" >25.28</text>
<text transform="translate(142.37 186.60) scale(1 1.12)" font-size="7.3" text-anchor="middle" font-weight="normal" fill="#111" stroke="#111" stroke-width="0.12" >25.79</text>
<text transform="translate(29.60 196.10) scale(1 1.12)" font-size="7.3" text-anchor="start" font-weight="normal" fill="#fff" stroke="#fff" stroke-width="0.12" >Cq2</text>
<text transform="translate(72.02 196.10) scale(1 1.12)" font-size="7.3" text-anchor="middle" font-weight="normal" fill="#111" stroke="#111" stroke-width="0.12" >25.04</text>
<text transform="translate(95.47 196.10) scale(1 1.12)" font-size="7.3" text-anchor="middle" font-weight="normal" fill="#111" stroke="#111" stroke-width="0.12" >25.02</text>
<text transform="translate(118.92 196.10) scale(1 1.12)" font-size="7.3" text-anchor="middle" font-weight="normal" fill="#111" stroke="#111" stroke-width="0.12" >25.31</text>
<text transform="translate(142.37 196.10) scale(1 1.12)" font-size="7.3" text-anchor="middle" font-weight="normal" fill="#111" stroke="#111" stroke-width="0.12" >25.50</text>
<rect x="60.30" y="197.70" width="94.30" height="9.50" fill="#e6e6e6"/>
<text transform="translate(29.60 205.60) scale(1 1.12)" font-size="7.3" text-anchor="start" font-weight="normal" fill="#fff" stroke="#fff" stroke-width="0.12" >Avge Cq</text>
<text transform="translate(72.02 205.60) scale(1 1.12)" font-size="7.3" text-anchor="middle" font-weight="bold" fill="#111" stroke="#111" stroke-width="0.05" >25.44</text>
<text transform="translate(95.47 205.60) scale(1 1.12)" font-size="7.3" text-anchor="middle" font-weight="bold" fill="#111" stroke="#111" stroke-width="0.05" >25.02</text>
<text transform="translate(118.92 205.60) scale(1 1.12)" font-size="7.3" text-anchor="middle" font-weight="bold" fill="#111" stroke="#111" stroke-width="0.05" >25.30</text>
<text transform="translate(142.37 205.60) scale(1 1.12)" font-size="7.3" text-anchor="middle" font-weight="bold" fill="#111" stroke="#111" stroke-width="0.05" >25.65</text>
<text transform="translate(139.00 313.50) scale(1 1.1)" font-size="6.0" text-anchor="start" font-weight="bold" fill="#000" >Cycles</text>
<line x1="300.40" y1="291.40" x2="541.40" y2="291.40" stroke="#a4a4a4" stroke-width="0.9" stroke-dasharray="0.9,1.6"/>
<line x1="300.40" y1="258.40" x2="541.40" y2="258.40" stroke="#a4a4a4" stroke-width="0.9" stroke-dasharray="0.9,1.6"/>
<line x1="300.40" y1="225.40" x2="541.40" y2="225.40" stroke="#a4a4a4" stroke-width="0.9" stroke-dasharray="0.9,1.6"/>
<line x1="300.40" y1="192.40" x2="541.40" y2="192.40" stroke="#a4a4a4" stroke-width="0.9" stroke-dasharray="0.9,1.6"/>
<line x1="357.70" y1="168.70" x2="357.70" y2="295.00" stroke="#a4a4a4" stroke-width="0.9" stroke-dasharray="0.9,1.6"/>
<line x1="415.00" y1="168.70" x2="415.00" y2="295.00" stroke="#a4a4a4" stroke-width="0.9" stroke-dasharray="0.9,1.6"/>
<line x1="472.30" y1="168.70" x2="472.30" y2="295.00" stroke="#a4a4a4" stroke-width="0.9" stroke-dasharray="0.9,1.6"/>
<line x1="529.60" y1="168.70" x2="529.60" y2="295.00" stroke="#a4a4a4" stroke-width="0.9" stroke-dasharray="0.9,1.6"/>
<polyline points="300.40,168.70 541.40,168.70 541.40,295.00" fill="none" stroke="#5a5a5a" stroke-width="1.2"/>
<line x1="300.40" y1="292.80" x2="300.40" y2="297.20" stroke="#555" stroke-width="1.0"/>
<line x1="300.40" y1="168.70" x2="300.40" y2="170.20" stroke="#5a5a5a" stroke-width="0.8"/>
<line x1="311.86" y1="294.00" x2="311.86" y2="296.00" stroke="#555" stroke-width="1.3"/>
<line x1="311.86" y1="168.70" x2="311.86" y2="170.20" stroke="#5a5a5a" stroke-width="0.8"/>
<line x1="323.32" y1="294.00" x2="323.32" y2="296.00" stroke="#555" stroke-width="1.3"/>
<line x1="323.32" y1="168.70" x2="323.32" y2="170.20" stroke="#5a5a5a" stroke-width="0.8"/>
<line x1="334.78" y1="294.00" x2="334.78" y2="296.00" stroke="#555" stroke-width="1.3"/>
<line x1="334.78" y1="168.70" x2="334.78" y2="170.20" stroke="#5a5a5a" stroke-width="0.8"/>
<line x1="346.24" y1="294.00" x2="346.24" y2="296.00" stroke="#555" stroke-width="1.3"/>
<line x1="346.24" y1="168.70" x2="346.24" y2="170.20" stroke="#5a5a5a" stroke-width="0.8"/>
<line x1="357.70" y1="292.80" x2="357.70" y2="297.20" stroke="#555" stroke-width="1.0"/>
<line x1="357.70" y1="168.70" x2="357.70" y2="170.20" stroke="#5a5a5a" stroke-width="0.8"/>
<line x1="369.16" y1="294.00" x2="369.16" y2="296.00" stroke="#555" stroke-width="1.3"/>
<line x1="369.16" y1="168.70" x2="369.16" y2="170.20" stroke="#5a5a5a" stroke-width="0.8"/>
<line x1="380.62" y1="294.00" x2="380.62" y2="296.00" stroke="#555" stroke-width="1.3"/>
<line x1="380.62" y1="168.70" x2="380.62" y2="170.20" stroke="#5a5a5a" stroke-width="0.8"/>
<line x1="392.08" y1="294.00" x2="392.08" y2="296.00" stroke="#555" stroke-width="1.3"/>
<line x1="392.08" y1="168.70" x2="392.08" y2="170.20" stroke="#5a5a5a" stroke-width="0.8"/>
<line x1="403.54" y1="294.00" x2="403.54" y2="296.00" stroke="#555" stroke-width="1.3"/>
<line x1="403.54" y1="168.70" x2="403.54" y2="170.20" stroke="#5a5a5a" stroke-width="0.8"/>
<line x1="415.00" y1="292.80" x2="415.00" y2="297.20" stroke="#555" stroke-width="1.0"/>
<line x1="415.00" y1="168.70" x2="415.00" y2="170.20" stroke="#5a5a5a" stroke-width="0.8"/>
<line x1="426.46" y1="294.00" x2="426.46" y2="296.00" stroke="#555" stroke-width="1.3"/>
<line x1="426.46" y1="168.70" x2="426.46" y2="170.20" stroke="#5a5a5a" stroke-width="0.8"/>
<line x1="437.92" y1="294.00" x2="437.92" y2="296.00" stroke="#555" stroke-width="1.3"/>
<line x1="437.92" y1="168.70" x2="437.92" y2="170.20" stroke="#5a5a5a" stroke-width="0.8"/>
<line x1="449.38" y1="294.00" x2="449.38" y2="296.00" stroke="#555" stroke-width="1.3"/>
<line x1="449.38" y1="168.70" x2="449.38" y2="170.20" stroke="#5a5a5a" stroke-width="0.8"/>
<line x1="460.84" y1="294.00" x2="460.84" y2="296.00" stroke="#555" stroke-width="1.3"/>
<line x1="460.84" y1="168.70" x2="460.84" y2="170.20" stroke="#5a5a5a" stroke-width="0.8"/>
<line x1="472.30" y1="292.80" x2="472.30" y2="297.20" stroke="#555" stroke-width="1.0"/>
<line x1="472.30" y1="168.70" x2="472.30" y2="170.20" stroke="#5a5a5a" stroke-width="0.8"/>
<line x1="483.76" y1="294.00" x2="483.76" y2="296.00" stroke="#555" stroke-width="1.3"/>
<line x1="483.76" y1="168.70" x2="483.76" y2="170.20" stroke="#5a5a5a" stroke-width="0.8"/>
<line x1="495.22" y1="294.00" x2="495.22" y2="296.00" stroke="#555" stroke-width="1.3"/>
<line x1="495.22" y1="168.70" x2="495.22" y2="170.20" stroke="#5a5a5a" stroke-width="0.8"/>
<line x1="506.68" y1="294.00" x2="506.68" y2="296.00" stroke="#555" stroke-width="1.3"/>
<line x1="506.68" y1="168.70" x2="506.68" y2="170.20" stroke="#5a5a5a" stroke-width="0.8"/>
<line x1="518.14" y1="294.00" x2="518.14" y2="296.00" stroke="#555" stroke-width="1.3"/>
<line x1="518.14" y1="168.70" x2="518.14" y2="170.20" stroke="#5a5a5a" stroke-width="0.8"/>
<line x1="529.60" y1="292.80" x2="529.60" y2="297.20" stroke="#555" stroke-width="1.0"/>
<line x1="529.60" y1="168.70" x2="529.60" y2="170.20" stroke="#5a5a5a" stroke-width="0.8"/>
<line x1="298.20" y1="291.40" x2="302.60" y2="291.40" stroke="#555" stroke-width="1.0"/>
<line x1="540.20" y1="291.40" x2="541.40" y2="291.40" stroke="#5a5a5a" stroke-width="0.8"/>
<line x1="299.40" y1="284.80" x2="301.40" y2="284.80" stroke="#555" stroke-width="1.3"/>
<line x1="540.20" y1="284.80" x2="541.40" y2="284.80" stroke="#5a5a5a" stroke-width="0.8"/>
<line x1="299.40" y1="278.20" x2="301.40" y2="278.20" stroke="#555" stroke-width="1.3"/>
<line x1="540.20" y1="278.20" x2="541.40" y2="278.20" stroke="#5a5a5a" stroke-width="0.8"/>
<line x1="299.40" y1="271.60" x2="301.40" y2="271.60" stroke="#555" stroke-width="1.3"/>
<line x1="540.20" y1="271.60" x2="541.40" y2="271.60" stroke="#5a5a5a" stroke-width="0.8"/>
<line x1="299.40" y1="265.00" x2="301.40" y2="265.00" stroke="#555" stroke-width="1.3"/>
<line x1="540.20" y1="265.00" x2="541.40" y2="265.00" stroke="#5a5a5a" stroke-width="0.8"/>
<line x1="298.20" y1="258.40" x2="302.60" y2="258.40" stroke="#555" stroke-width="1.0"/>
<line x1="540.20" y1="258.40" x2="541.40" y2="258.40" stroke="#5a5a5a" stroke-width="0.8"/>
<line x1="299.40" y1="251.80" x2="301.40" y2="251.80" stroke="#555" stroke-width="1.3"/>
<line x1="540.20" y1="251.80" x2="541.40" y2="251.80" stroke="#5a5a5a" stroke-width="0.8"/>
<line x1="299.40" y1="245.20" x2="301.40" y2="245.20" stroke="#555" stroke-width="1.3"/>
<line x1="540.20" y1="245.20" x2="541.40" y2="245.20" stroke="#5a5a5a" stroke-width="0.8"/>
<line x1="299.40" y1="238.60" x2="301.40" y2="238.60" stroke="#555" stroke-width="1.3"/>
<line x1="540.20" y1="238.60" x2="541.40" y2="238.60" stroke="#5a5a5a" stroke-width="0.8"/>
<line x1="299.40" y1="232.00" x2="301.40" y2="232.00" stroke="#555" stroke-width="1.3"/>
<line x1="540.20" y1="232.00" x2="541.40" y2="232.00" stroke="#5a5a5a" stroke-width="0.8"/>
<line x1="298.20" y1="225.40" x2="302.60" y2="225.40" stroke="#555" stroke-width="1.0"/>
<line x1="540.20" y1="225.40" x2="541.40" y2="225.40" stroke="#5a5a5a" stroke-width="0.8"/>
<line x1="299.40" y1="218.80" x2="301.40" y2="218.80" stroke="#555" stroke-width="1.3"/>
<line x1="540.20" y1="218.80" x2="541.40" y2="218.80" stroke="#5a5a5a" stroke-width="0.8"/>
<line x1="299.40" y1="212.20" x2="301.40" y2="212.20" stroke="#555" stroke-width="1.3"/>
<line x1="540.20" y1="212.20" x2="541.40" y2="212.20" stroke="#5a5a5a" stroke-width="0.8"/>
<line x1="299.40" y1="205.60" x2="301.40" y2="205.60" stroke="#555" stroke-width="1.3"/>
<line x1="540.20" y1="205.60" x2="541.40" y2="205.60" stroke="#5a5a5a" stroke-width="0.8"/>
<line x1="299.40" y1="199.00" x2="301.40" y2="199.00" stroke="#555" stroke-width="1.3"/>
<line x1="540.20" y1="199.00" x2="541.40" y2="199.00" stroke="#5a5a5a" stroke-width="0.8"/>
<line x1="298.20" y1="192.40" x2="302.60" y2="192.40" stroke="#555" stroke-width="1.0"/>
<line x1="540.20" y1="192.40" x2="541.40" y2="192.40" stroke="#5a5a5a" stroke-width="0.8"/>
<line x1="299.40" y1="185.80" x2="301.40" y2="185.80" stroke="#555" stroke-width="1.3"/>
<line x1="540.20" y1="185.80" x2="541.40" y2="185.80" stroke="#5a5a5a" stroke-width="0.8"/>
<line x1="299.40" y1="179.20" x2="301.40" y2="179.20" stroke="#555" stroke-width="1.3"/>
<line x1="540.20" y1="179.20" x2="541.40" y2="179.20" stroke="#5a5a5a" stroke-width="0.8"/>
<line x1="299.40" y1="172.60" x2="301.40" y2="172.60" stroke="#555" stroke-width="1.3"/>
<line x1="540.20" y1="172.60" x2="541.40" y2="172.60" stroke="#5a5a5a" stroke-width="0.8"/>
<line x1="300.40" y1="168.70" x2="300.40" y2="297.00" stroke="#555" stroke-width="1"/>
<line x1="298.40" y1="295.00" x2="541.40" y2="295.00" stroke="#555" stroke-width="1"/>
<text transform="translate(295.60 293.60) scale(1 1.12)" font-size="5.9" text-anchor="end" font-weight="normal" fill="#333" stroke="#333" stroke-width="0.15" >0</text>
<text transform="translate(295.60 260.60) scale(1 1.12)" font-size="5.9" text-anchor="end" font-weight="normal" fill="#333" stroke="#333" stroke-width="0.15" >5</text>
<text transform="translate(295.60 227.60) scale(1 1.12)" font-size="5.9" text-anchor="end" font-weight="normal" fill="#333" stroke="#333" stroke-width="0.15" >10</text>
<text transform="translate(295.60 194.60) scale(1 1.12)" font-size="5.9" text-anchor="end" font-weight="normal" fill="#333" stroke="#333" stroke-width="0.15" >15</text>
<text transform="translate(300.40 305.10) scale(1 1.12)" font-size="6.2" text-anchor="middle" font-weight="normal" fill="#333" stroke="#333" stroke-width="0.15" >0</text>
<text transform="translate(357.70 305.10) scale(1 1.12)" font-size="6.2" text-anchor="middle" font-weight="normal" fill="#333" stroke="#333" stroke-width="0.15" >10</text>
<text transform="translate(415.00 305.10) scale(1 1.12)" font-size="6.2" text-anchor="middle" font-weight="normal" fill="#333" stroke="#333" stroke-width="0.15" >20</text>
<text transform="translate(472.30 305.10) scale(1 1.12)" font-size="6.2" text-anchor="middle" font-weight="normal" fill="#333" stroke="#333" stroke-width="0.15" >30</text>
<text transform="translate(529.60 305.10) scale(1 1.12)" font-size="6.2" text-anchor="middle" font-weight="normal" fill="#333" stroke="#333" stroke-width="0.15" >40</text>
<text transform="translate(283.30 231.70) rotate(-90) scale(1 1.25)" font-size="6.3" font-weight="bold" text-anchor="middle" x="0" y="0" stroke="#000" stroke-width="0.1">RFU (10^3)</text>
<line x1="306.13" y1="283.70" x2="529.60" y2="283.70" stroke="#4a73b0" stroke-width="1.5"/>
<polyline points="306.13,290.75 307.56,290.83 309.00,290.91 310.43,290.97 311.86,291.03 313.29,291.08 314.72,291.13 316.16,291.17 317.59,291.20 319.02,291.23 320.45,291.26 321.89,291.29 323.32,291.31 324.75,291.33 326.19,291.35 327.62,291.37 329.05,291.38 330.48,291.40 331.91,291.41 333.35,291.43 334.78,291.44 336.21,291.46 337.64,291.47 339.08,291.48 340.51,291.50 341.94,291.51 343.38,291.52 344.81,291.54 346.24,291.55 347.67,291.56 349.10,291.58 350.54,291.59 351.97,291.60 353.40,291.62 354.83,291.63 356.27,291.64 357.70,291.65 359.13,291.66 360.56,291.67 362.00,291.68 363.43,291.69 364.86,291.70 366.29,291.71 367.73,291.71 369.16,291.72 370.59,291.72 372.02,291.73 373.46,291.73 374.89,291.73 376.32,291.73 377.75,291.73 379.19,291.72 380.62,291.72 382.05,291.72 383.49,291.71 384.92,291.70 386.35,291.70 387.78,291.69 389.21,291.68 390.65,291.67 392.08,291.66 393.51,291.65 394.94,291.63 396.38,291.62 397.81,291.61 399.24,291.60 400.67,291.59 402.11,291.58 403.54,291.56 404.97,291.55 406.40,291.54 407.84,291.53 409.27,291.52 410.70,291.51 412.13,291.50 413.57,291.49 415.00,291.47 416.43,291.45 417.87,291.43 419.30,291.41 420.73,291.37 422.16,291.31 423.59,291.24 425.03,291.14 426.46,291.01 427.89,290.84 429.32,290.62 430.76,290.34 432.19,289.98 433.62,289.54 435.05,289.01 436.49,288.38 437.92,287.63 439.35,286.77 440.78,285.78 442.22,284.67 443.65,283.42 445.08,282.05 446.51,280.55 447.95,278.92 449.38,277.18 450.81,275.32 452.25,273.37 453.68,271.32 455.11,269.19 456.54,266.99 457.98,264.73 459.41,262.42 460.84,260.08 462.27,257.71 463.70,255.33 465.14,252.94 466.57,250.56 468.00,248.19 469.44,245.85 470.87,243.54 472.30,241.27 473.73,239.03 475.16,236.85 476.60,234.72 478.03,232.65 479.46,230.63 480.89,228.68 482.33,226.78 483.76,224.96 485.19,223.20 486.62,221.50 488.06,219.87 489.49,218.31 490.92,216.81 492.36,215.37 493.79,214.00 495.22,212.68 496.65,211.43 498.08,210.24 499.52,209.10 500.95,208.02 502.38,206.98 503.81,206.01 505.25,205.08 506.68,204.19 508.11,203.35 509.54,202.56 510.98,201.81 512.41,201.10 513.84,200.42 515.27,199.78 516.71,199.18 518.14,198.61 519.57,198.07 521.00,197.56 522.44,197.07 523.87,196.62 525.30,196.19 526.74,195.78 528.17,195.40 529.60,195.04" fill="none" stroke="#5c5cf2" stroke-width="1.15"/>
<polyline points="306.13,290.75 307.56,290.83 309.00,290.91 310.43,290.97 311.86,291.03 313.29,291.08 314.72,291.13 316.16,291.17 317.59,291.20 319.02,291.23 320.45,291.26 321.89,291.29 323.32,291.31 324.75,291.33 326.19,291.35 327.62,291.37 329.05,291.38 330.48,291.40 331.91,291.41 333.35,291.43 334.78,291.44 336.21,291.46 337.64,291.47 339.08,291.48 340.51,291.50 341.94,291.51 343.38,291.52 344.81,291.54 346.24,291.55 347.67,291.56 349.10,291.58 350.54,291.59 351.97,291.60 353.40,291.62 354.83,291.63 356.27,291.64 357.70,291.65 359.13,291.66 360.56,291.67 362.00,291.68 363.43,291.69 364.86,291.70 366.29,291.71 367.73,291.71 369.16,291.72 370.59,291.72 372.02,291.73 373.46,291.73 374.89,291.73 376.32,291.73 377.75,291.73 379.19,291.72 380.62,291.72 382.05,291.72 383.49,291.71 384.92,291.70 386.35,291.70 387.78,291.69 389.21,291.68 390.65,291.67 392.08,291.66 393.51,291.65 394.94,291.63 396.38,291.62 397.81,291.61 399.24,291.60 400.67,291.59 402.11,291.58 403.54,291.56 404.97,291.55 406.40,291.54 407.84,291.53 409.27,291.52 410.70,291.51 412.13,291.50 413.57,291.49 415.00,291.47 416.43,291.45 417.87,291.43 419.30,291.40 420.73,291.37 422.16,291.32 423.59,291.25 425.03,291.16 426.46,291.04 427.89,290.89 429.32,290.70 430.76,290.45 432.19,290.15 433.62,289.79 435.05,289.35 436.49,288.83 437.92,288.23 439.35,287.53 440.78,286.74 442.22,285.84 443.65,284.84 445.08,283.73 446.51,282.52 447.95,281.20 449.38,279.78 450.81,278.27 452.25,276.66 453.68,274.96 455.11,273.19 456.54,271.35 457.98,269.44 459.41,267.48 460.84,265.47 462.27,263.42 463.70,261.35 465.14,259.25 466.57,257.14 468.00,255.03 469.44,252.93 470.87,250.83 472.30,248.75 473.73,246.70 475.16,244.67 476.60,242.68 478.03,240.72 479.46,238.81 480.89,236.94 482.33,235.12 483.76,233.35 485.19,231.63 486.62,229.96 488.06,228.35 489.49,226.80 490.92,225.30 492.36,223.85 493.79,222.46 495.22,221.12 496.65,219.84 498.08,218.61 499.52,217.44 500.95,216.31 502.38,215.23 503.81,214.20 505.25,213.22 506.68,212.29 508.11,211.40 509.54,210.55 510.98,209.74 512.41,208.97 513.84,208.24 515.27,207.55 516.71,206.89 518.14,206.26 519.57,205.67 521.00,205.11 522.44,204.57 523.87,204.07 525.30,203.59 526.74,203.14 528.17,202.71 529.60,202.30" fill="none" stroke="#5c5cf2" stroke-width="1.15"/>
<polyline points="306.13,290.75 307.56,290.83 309.00,290.91 310.43,290.97 311.86,291.03 313.29,291.08 314.72,291.13 316.16,291.17 317.59,291.20 319.02,291.23 320.45,291.26 321.89,291.29 323.32,291.31 324.75,291.33 326.19,291.35 327.62,291.37 329.05,291.38 330.48,291.40 331.91,291.41 333.35,291.43 334.78,291.44 336.21,291.46 337.64,291.47 339.08,291.48 340.51,291.50 341.94,291.51 343.38,291.52 344.81,291.54 346.24,291.55 347.67,291.56 349.10,291.58 350.54,291.59 351.97,291.60 353.40,291.62 354.83,291.63 356.27,291.64 357.70,291.65 359.13,291.66 360.56,291.67 362.00,291.68 363.43,291.69 364.86,291.70 366.29,291.71 367.73,291.71 369.16,291.72 370.59,291.72 372.02,291.73 373.46,291.73 374.89,291.73 376.32,291.73 377.75,291.73 379.19,291.72 380.62,291.72 382.05,291.72 383.49,291.71 384.92,291.70 386.35,291.70 387.78,291.69 389.21,291.68 390.65,291.67 392.08,291.66 393.51,291.65 394.94,291.63 396.38,291.62 397.81,291.61 399.24,291.60 400.67,291.59 402.11,291.58 403.54,291.56 404.97,291.55 406.40,291.54 407.84,291.53 409.27,291.52 410.70,291.51 412.13,291.50 413.57,291.48 415.00,291.46 416.43,291.44 417.87,291.41 419.30,291.37 420.73,291.31 422.16,291.23 423.59,291.11 425.03,290.96 426.46,290.75 427.89,290.47 429.32,290.12 430.76,289.67 432.19,289.12 433.62,288.45 435.05,287.64 436.49,286.70 437.92,285.60 439.35,284.34 440.78,282.93 442.22,281.36 443.65,279.64 445.08,277.76 446.51,275.74 447.95,273.59 449.38,271.31 450.81,268.93 452.25,266.45 453.68,263.89 455.11,261.27 456.54,258.60 457.98,255.90 459.41,253.17 460.84,250.44 462.27,247.72 463.70,245.01 465.14,242.33 466.57,239.70 468.00,237.11 469.44,234.57 470.87,232.10 472.30,229.69 473.73,227.35 475.16,225.09 476.60,222.90 478.03,220.80 479.46,218.77 480.89,216.82 482.33,214.96 483.76,213.17 485.19,211.47 486.62,209.84 488.06,208.29 489.49,206.81 490.92,205.40 492.36,204.07 493.79,202.80 495.22,201.60 496.65,200.46 498.08,199.39 499.52,198.37 500.95,197.41 502.38,196.50 503.81,195.64 505.25,194.83 506.68,194.06 508.11,193.34 509.54,192.66 510.98,192.02 512.41,191.42 513.84,190.85 515.27,190.32 516.71,189.82 518.14,189.34 519.57,188.90 521.00,188.48 522.44,188.09 523.87,187.72 525.30,187.38 526.74,187.05 528.17,186.75 529.60,186.46" fill="none" stroke="#5fae5a" stroke-width="1.15"/>
<polyline points="306.13,290.75 307.56,290.83 309.00,290.91 310.43,290.97 311.86,291.03 313.29,291.08 314.72,291.13 316.16,291.17 317.59,291.20 319.02,291.23 320.45,291.26 321.89,291.29 323.32,291.31 324.75,291.33 326.19,291.35 327.62,291.37 329.05,291.38 330.48,291.40 331.91,291.41 333.35,291.43 334.78,291.44 336.21,291.46 337.64,291.47 339.08,291.48 340.51,291.50 341.94,291.51 343.38,291.52 344.81,291.54 346.24,291.55 347.67,291.56 349.10,291.58 350.54,291.59 351.97,291.60 353.40,291.62 354.83,291.63 356.27,291.64 357.70,291.65 359.13,291.66 360.56,291.67 362.00,291.68 363.43,291.69 364.86,291.70 366.29,291.71 367.73,291.71 369.16,291.72 370.59,291.72 372.02,291.73 373.46,291.73 374.89,291.73 376.32,291.73 377.75,291.73 379.19,291.72 380.62,291.72 382.05,291.72 383.49,291.71 384.92,291.70 386.35,291.70 387.78,291.69 389.21,291.68 390.65,291.67 392.08,291.66 393.51,291.65 394.94,291.63 396.38,291.62 397.81,291.61 399.24,291.60 400.67,291.59 402.11,291.58 403.54,291.56 404.97,291.55 406.40,291.54 407.84,291.53 409.27,291.52 410.70,291.51 412.13,291.50 413.57,291.49 415.00,291.48 416.43,291.46 417.87,291.44 419.30,291.41 420.73,291.36 422.16,291.29 423.59,291.19 425.03,291.05 426.46,290.85 427.89,290.58 429.32,290.22 430.76,289.75 432.19,289.16 433.62,288.42 435.05,287.52 436.49,286.45 437.92,285.20 439.35,283.75 440.78,282.10 442.22,280.26 443.65,278.22 445.08,275.99 446.51,273.59 447.95,271.02 449.38,268.30 450.81,265.45 452.25,262.49 453.68,259.43 455.11,256.30 456.54,253.13 457.98,249.92 459.41,246.69 460.84,243.47 462.27,240.27 463.70,237.11 465.14,233.99 466.57,230.94 468.00,227.96 469.44,225.05 470.87,222.24 472.30,219.51 473.73,216.89 475.16,214.36 476.60,211.94 478.03,209.61 479.46,207.40 480.89,205.28 482.33,203.27 483.76,201.36 485.19,199.54 486.62,197.83 488.06,196.20 489.49,194.67 490.92,193.22 492.36,191.85 493.79,190.57 495.22,189.36 496.65,188.22 498.08,187.15 499.52,186.15 500.95,185.21 502.38,184.33 503.81,183.51 505.25,182.73 506.68,182.01 508.11,181.34 509.54,180.71 510.98,180.12 512.41,179.56 513.84,179.05 515.27,178.57 516.71,178.12 518.14,177.71 519.57,177.32 521.00,176.95 522.44,176.61 523.87,176.30 525.30,176.01 526.74,175.73 528.17,175.48 529.60,175.24" fill="none" stroke="#5fae5a" stroke-width="1.15"/>
<polyline points="306.13,290.09 307.56,290.26 309.00,290.41 310.43,290.54 311.86,290.65 313.29,290.75 314.72,290.84 316.16,290.92 317.59,290.99 319.02,291.05 320.45,291.10 321.89,291.14 323.32,291.19 324.75,291.22 326.19,291.26 327.62,291.29 329.05,291.31 330.48,291.34 331.91,291.36 333.35,291.38 334.78,291.40 336.21,291.42 337.64,291.44 339.08,291.46 340.51,291.47 341.94,291.49 343.38,291.51 344.81,291.52 346.24,291.54 347.67,291.55 349.10,291.57 350.54,291.58 351.97,291.60 353.40,291.61 354.83,291.62 356.27,291.64 357.70,291.65 359.13,291.66 360.56,291.67 362.00,291.68 363.43,291.69 364.86,291.70 366.29,291.71 367.73,291.71 369.16,291.72 370.59,291.72 372.02,291.73 373.46,291.73 374.89,291.73 376.32,291.73 377.75,291.73 379.19,291.72 380.62,291.72 382.05,291.72 383.49,291.71 384.92,291.70 386.35,291.69 387.78,291.69 389.21,291.68 390.65,291.67 392.08,291.66 393.51,291.65 394.94,291.63 396.38,291.62 397.81,291.61 399.24,291.60 400.67,291.59 402.11,291.58 403.54,291.56 404.97,291.55 406.40,291.54 407.84,291.53 409.27,291.52 410.70,291.50 412.13,291.48 413.57,291.46 415.00,291.44 416.43,291.41 417.87,291.36 419.30,291.30 420.73,291.22 422.16,291.11 423.59,290.97 425.03,290.79 426.46,290.56 427.89,290.27 429.32,289.91 430.76,289.48 432.19,288.96 433.62,288.35 435.05,287.63 436.49,286.82 437.92,285.89 439.35,284.84 440.78,283.69 442.22,282.41 443.65,281.03 445.08,279.53 446.51,277.92 447.95,276.22 449.38,274.43 450.81,272.55 452.25,270.60 453.68,268.58 455.11,266.50 456.54,264.38 457.98,262.22 459.41,260.03 460.84,257.83 462.27,255.62 463.70,253.41 465.14,251.21 466.57,249.02 468.00,246.86 469.44,244.73 470.87,242.63 472.30,240.57 473.73,238.55 475.16,236.59 476.60,234.67 478.03,232.81 479.46,231.00 480.89,229.25 482.33,227.55 483.76,225.92 485.19,224.34 486.62,222.83 488.06,221.37 489.49,219.97 490.92,218.63 492.36,217.34 493.79,216.11 495.22,214.94 496.65,213.82 498.08,212.75 499.52,211.72 500.95,210.75 502.38,209.83 503.81,208.95 505.25,208.11 506.68,207.31 508.11,206.56 509.54,205.84 510.98,205.16 512.41,204.52 513.84,203.90 515.27,203.32 516.71,202.78 518.14,202.26 519.57,201.77 521.00,201.30 522.44,200.86 523.87,200.45 525.30,200.05 526.74,199.68 528.17,199.33 529.60,199.00" fill="none" stroke="#a87448" stroke-width="1.15"/>
<polyline points="306.13,290.09 307.56,290.26 309.00,290.41 310.43,290.54 311.86,290.65 313.29,290.75 314.72,290.84 316.16,290.92 317.59,290.99 319.02,291.05 320.45,291.10 321.89,291.14 323.32,291.19 324.75,291.22 326.19,291.26 327.62,291.29 329.05,291.31 330.48,291.34 331.91,291.36 333.35,291.38 334.78,291.40 336.21,291.42 337.64,291.44 339.08,291.46 340.51,291.47 341.94,291.49 343.38,291.51 344.81,291.52 346.24,291.54 347.67,291.55 349.10,291.57 350.54,291.58 351.97,291.60 353.40,291.61 354.83,291.62 356.27,291.64 357.70,291.65 359.13,291.66 360.56,291.67 362.00,291.68 363.43,291.69 364.86,291.70 366.29,291.71 367.73,291.71 369.16,291.72 370.59,291.72 372.02,291.73 373.46,291.73 374.89,291.73 376.32,291.73 377.75,291.73 379.19,291.72 380.62,291.72 382.05,291.72 383.49,291.71 384.92,291.70 386.35,291.69 387.78,291.69 389.21,291.68 390.65,291.67 392.08,291.66 393.51,291.65 394.94,291.63 396.38,291.62 397.81,291.61 399.24,291.60 400.67,291.59 402.11,291.58 403.54,291.56 404.97,291.55 406.40,291.54 407.84,291.53 409.27,291.52 410.70,291.51 412.13,291.49 413.57,291.48 415.00,291.46 416.43,291.43 417.87,291.39 419.30,291.35 420.73,291.28 422.16,291.19 423.59,291.06 425.03,290.89 426.46,290.67 427.89,290.38 429.32,290.02 430.76,289.57 432.19,289.01 433.62,288.35 435.05,287.56 436.49,286.63 437.92,285.57 439.35,284.37 440.78,283.02 442.22,281.53 443.65,279.89 445.08,278.12 446.51,276.22 447.95,274.20 449.38,272.06 450.81,269.83 452.25,267.51 453.68,265.12 455.11,262.67 456.54,260.17 457.98,257.64 459.41,255.09 460.84,252.52 462.27,249.97 463.70,247.42 465.14,244.90 466.57,242.42 468.00,239.97 469.44,237.57 470.87,235.22 472.30,232.93 473.73,230.71 475.16,228.55 476.60,226.46 478.03,224.44 479.46,222.49 480.89,220.61 482.33,218.81 483.76,217.08 485.19,215.42 486.62,213.84 488.06,212.32 489.49,210.88 490.92,209.50 492.36,208.19 493.79,206.94 495.22,205.75 496.65,204.62 498.08,203.55 499.52,202.54 500.95,201.58 502.38,200.67 503.81,199.80 505.25,198.99 506.68,198.22 508.11,197.49 509.54,196.80 510.98,196.15 512.41,195.54 513.84,194.96 515.27,194.41 516.71,193.90 518.14,193.41 519.57,192.95 521.00,192.52 522.44,192.12 523.87,191.74 525.30,191.38 526.74,191.04 528.17,190.72 529.60,190.42" fill="none" stroke="#a87448" stroke-width="1.15"/>
<polyline points="306.13,289.76 307.56,289.97 309.00,290.16 310.43,290.32 311.86,290.46 313.29,290.59 314.72,290.70 316.16,290.79 317.59,290.88 319.02,290.95 320.45,291.02 321.89,291.07 323.32,291.12 324.75,291.17 326.19,291.21 327.62,291.24 329.05,291.28 330.48,291.31 331.91,291.33 333.35,291.36 334.78,291.38 336.21,291.40 337.64,291.42 339.08,291.44 340.51,291.46 341.94,291.48 343.38,291.50 344.81,291.51 346.24,291.53 347.67,291.55 349.10,291.56 350.54,291.58 351.97,291.59 353.40,291.61 354.83,291.62 356.27,291.63 357.70,291.65 359.13,291.66 360.56,291.67 362.00,291.68 363.43,291.69 364.86,291.70 366.29,291.71 367.73,291.71 369.16,291.72 370.59,291.72 372.02,291.72 373.46,291.73 374.89,291.73 376.32,291.73 377.75,291.73 379.19,291.72 380.62,291.72 382.05,291.71 383.49,291.71 384.92,291.70 386.35,291.69 387.78,291.69 389.21,291.68 390.65,291.67 392.08,291.66 393.51,291.65 394.94,291.63 396.38,291.62 397.81,291.61 399.24,291.60 400.67,291.59 402.11,291.58 403.54,291.56 404.97,291.55 406.40,291.54 407.84,291.53 409.27,291.52 410.70,291.50 412.13,291.49 413.57,291.47 415.00,291.45 416.43,291.42 417.87,291.38 419.30,291.33 420.73,291.26 422.16,291.17 423.59,291.05 425.03,290.90 426.46,290.70 427.89,290.45 429.32,290.14 430.76,289.75 432.19,289.29 433.62,288.74 435.05,288.10 436.49,287.36 437.92,286.51 439.35,285.55 440.78,284.48 442.22,283.29 443.65,282.00 445.08,280.59 446.51,279.07 447.95,277.45 449.38,275.74 450.81,273.93 452.25,272.05 453.68,270.10 455.11,268.08 456.54,266.01 457.98,263.90 459.41,261.75 460.84,259.58 462.27,257.40 463.70,255.21 465.14,253.02 466.57,250.84 468.00,248.68 469.44,246.54 470.87,244.43 472.30,242.36 473.73,240.33 475.16,238.34 476.60,236.40 478.03,234.51 479.46,232.67 480.89,230.89 482.33,229.16 483.76,227.49 485.19,225.88 486.62,224.33 488.06,222.84 489.49,221.40 490.92,220.02 492.36,218.70 493.79,217.43 495.22,216.22 496.65,215.06 498.08,213.96 499.52,212.90 500.95,211.89 502.38,210.94 503.81,210.02 505.25,209.15 506.68,208.33 508.11,207.54 509.54,206.80 510.98,206.09 512.41,205.42 513.84,204.78 515.27,204.18 516.71,203.61 518.14,203.07 519.57,202.55 521.00,202.07 522.44,201.61 523.87,201.17 525.30,200.76 526.74,200.37 528.17,200.01 529.60,199.66" fill="none" stroke="#ff55a5" stroke-width="1.15"/>
<polyline points="306.13,290.42 307.56,290.55 309.00,290.66 310.43,290.76 311.86,290.84 313.29,290.92 314.72,290.99 316.16,291.04 317.59,291.09 319.02,291.14 320.45,291.18 321.89,291.22 323.32,291.25 324.75,291.28 326.19,291.30 327.62,291.33 329.05,291.35 330.48,291.37 331.91,291.39 333.35,291.41 334.78,291.42 336.21,291.44 337.64,291.46 339.08,291.47 340.51,291.49 341.94,291.50 343.38,291.52 344.81,291.53 346.24,291.54 347.67,291.56 349.10,291.57 350.54,291.59 351.97,291.60 353.40,291.61 354.83,291.63 356.27,291.64 357.70,291.65 359.13,291.66 360.56,291.67 362.00,291.68 363.43,291.69 364.86,291.70 366.29,291.71 367.73,291.71 369.16,291.72 370.59,291.72 372.02,291.73 373.46,291.73 374.89,291.73 376.32,291.73 377.75,291.73 379.19,291.72 380.62,291.72 382.05,291.72 383.49,291.71 384.92,291.70 386.35,291.69 387.78,291.69 389.21,291.68 390.65,291.67 392.08,291.66 393.51,291.65 394.94,291.63 396.38,291.62 397.81,291.61 399.24,291.60 400.67,291.59 402.11,291.58 403.54,291.56 404.97,291.55 406.40,291.54 407.84,291.53 409.27,291.52 410.70,291.50 412.13,291.49 413.57,291.47 415.00,291.45 416.43,291.42 417.87,291.38 419.30,291.33 420.73,291.27 422.16,291.18 423.59,291.06 425.03,290.91 426.46,290.71 427.89,290.46 429.32,290.15 430.76,289.77 432.19,289.31 433.62,288.77 435.05,288.13 436.49,287.39 437.92,286.55 439.35,285.59 440.78,284.52 442.22,283.34 443.65,282.05 445.08,280.64 446.51,279.13 447.95,277.52 449.38,275.81 450.81,274.01 452.25,272.13 453.68,270.17 455.11,268.16 456.54,266.09 457.98,263.98 459.41,261.84 460.84,259.67 462.27,257.48 463.70,255.29 465.14,253.10 466.57,250.92 468.00,248.76 469.44,246.62 470.87,244.51 472.30,242.44 473.73,240.40 475.16,238.41 476.60,236.47 478.03,234.58 479.46,232.74 480.89,230.95 482.33,229.22 483.76,227.55 485.19,225.94 486.62,224.38 488.06,222.89 489.49,221.45 490.92,220.07 492.36,218.74 493.79,217.47 495.22,216.26 496.65,215.10 498.08,213.99 499.52,212.93 500.95,211.92 502.38,210.96 503.81,210.05 505.25,209.18 506.68,208.35 508.11,207.56 509.54,206.81 510.98,206.11 512.41,205.43 513.84,204.79 515.27,204.19 516.71,203.62 518.14,203.07 519.57,202.56 521.00,202.07 522.44,201.61 523.87,201.18 525.30,200.77 526.74,200.38 528.17,200.01 529.60,199.66" fill="none" stroke="#ff55a5" stroke-width="1.15"/>
<text x="411.60" y="162.80" font-size="7.3" text-anchor="middle" font-weight="bold" fill="#000" >Amplification</text>
<text x="283.20" y="182.70" font-size="15.3" text-anchor="start" font-weight="normal" fill="#000" stroke="#000" stroke-width="0.4" >D</text>
<rect x="300.90" y="169.10" width="32.80" height="48.90" fill="#000"/>
<rect x="333.70" y="178.88" width="93.20" height="39.12" fill="#fff"/>
<rect x="333.70" y="169.10" width="23.35" height="9.78" fill="#0b2cf5"/>
<text transform="translate(345.35 176.68) scale(1 1.14)" font-size="7.2" text-anchor="middle" font-weight="normal" fill="#fff" stroke="#fff" stroke-width="0.18" >MM-1</text>
<rect x="357.00" y="169.10" width="23.35" height="9.78" fill="#11a34a"/>
<text transform="translate(368.65 176.68) scale(1 1.14)" font-size="7.2" text-anchor="middle" font-weight="normal" fill="#fff" stroke="#fff" stroke-width="0.18" >MM-2</text>
<rect x="380.30" y="169.10" width="23.35" height="9.78" fill="#9a5518"/>
<text transform="translate(391.95 176.68) scale(1 1.14)" font-size="7.2" text-anchor="middle" font-weight="normal" fill="#fff" stroke="#fff" stroke-width="0.18" >MM-3</text>
<rect x="403.60" y="169.10" width="23.35" height="9.78" fill="#ff2e8e"/>
<text transform="translate(415.25 176.68) scale(1 1.14)" font-size="7.2" text-anchor="middle" font-weight="normal" fill="#fff" stroke="#fff" stroke-width="0.18" >MM-4</text>
<text transform="translate(302.50 176.88) scale(1 1.12)" font-size="7.3" text-anchor="start" font-weight="normal" fill="#fff" stroke="#fff" stroke-width="0.12" >Assay D</text>
<text transform="translate(302.50 187.06) scale(1 1.12)" font-size="7.3" text-anchor="start" font-weight="normal" fill="#fff" stroke="#fff" stroke-width="0.12" >Cq1</text>
<text transform="translate(345.35 187.06) scale(1 1.12)" font-size="7.3" text-anchor="middle" font-weight="normal" fill="#111" stroke="#111" stroke-width="0.12" >24.80</text>
<text transform="translate(368.65 187.06) scale(1 1.12)" font-size="7.3" text-anchor="middle" font-weight="normal" fill="#111" stroke="#111" stroke-width="0.12" >24.22</text>
<text transform="translate(391.95 187.06) scale(1 1.12)" font-size="7.3" text-anchor="middle" font-weight="normal" fill="#111" stroke="#111" stroke-width="0.12" >24.35</text>
<text transform="translate(415.25 187.06) scale(1 1.12)" font-size="7.3" text-anchor="middle" font-weight="normal" fill="#111" stroke="#111" stroke-width="0.12" >24.52</text>
<text transform="translate(302.50 196.84) scale(1 1.12)" font-size="7.3" text-anchor="start" font-weight="normal" fill="#fff" stroke="#fff" stroke-width="0.12" >Cq2</text>
<text transform="translate(345.35 196.84) scale(1 1.12)" font-size="7.3" text-anchor="middle" font-weight="normal" fill="#111" stroke="#111" stroke-width="0.12" >25.11</text>
<text transform="translate(368.65 196.84) scale(1 1.12)" font-size="7.3" text-anchor="middle" font-weight="normal" fill="#111" stroke="#111" stroke-width="0.12" >24.11</text>
<text transform="translate(391.95 196.84) scale(1 1.12)" font-size="7.3" text-anchor="middle" font-weight="normal" fill="#111" stroke="#111" stroke-width="0.12" >24.23</text>
<text transform="translate(415.25 196.84) scale(1 1.12)" font-size="7.3" text-anchor="middle" font-weight="normal" fill="#111" stroke="#111" stroke-width="0.12" >24.53</text>
<rect x="333.70" y="198.44" width="93.70" height="9.78" fill="#e6e6e6"/>
<text transform="translate(302.50 206.62) scale(1 1.12)" font-size="7.3" text-anchor="start" font-weight="normal" fill="#fff" stroke="#fff" stroke-width="0.12" >Avge Cq</text>
<text transform="translate(345.35 206.62) scale(1 1.12)" font-size="7.3" text-anchor="middle" font-weight="bold" fill="#111" stroke="#111" stroke-width="0.05" >24.96</text>
<text transform="translate(368.65 206.62) scale(1 1.12)" font-size="7.3" text-anchor="middle" font-weight="bold" fill="#111" stroke="#111" stroke-width="0.05" >24.17</text>
<text transform="translate(391.95 206.62) scale(1 1.12)" font-size="7.3" text-anchor="middle" font-weight="bold" fill="#111" stroke="#111" stroke-width="0.05" >24.29</text>
<text transform="translate(415.25 206.62) scale(1 1.12)" font-size="7.3" text-anchor="middle" font-weight="bold" fill="#111" stroke="#111" stroke-width="0.05" >24.53</text>
<text transform="translate(302.50 216.40) scale(1 1.12)" font-size="7.3" text-anchor="start" font-weight="normal" fill="#fff" stroke="#fff" stroke-width="0.12" >SD</text>
<text transform="translate(345.35 216.40) scale(1 1.12)" font-size="7.3" text-anchor="middle" font-weight="normal" fill="#111" stroke="#111" stroke-width="0.12" >0.22</text>
<text transform="translate(368.65 216.40) scale(1 1.12)" font-size="7.3" text-anchor="middle" font-weight="normal" fill="#111" stroke="#111" stroke-width="0.12" >0.08</text>
<text transform="translate(391.95 216.40) scale(1 1.12)" font-size="7.3" text-anchor="middle" font-weight="normal" fill="#111" stroke="#111" stroke-width="0.12" >0.08</text>
<text transform="translate(415.25 216.40) scale(1 1.12)" font-size="7.3" text-anchor="middle" font-weight="normal" fill="#111" stroke="#111" stroke-width="0.12" >0.01</text>
<rect x="333.70" y="218.60" width="23.30" height="1.3" fill="#7f96e8"/>
<rect x="357.00" y="218.60" width="23.30" height="1.3" fill="#8fd0a0"/>
<rect x="380.30" y="218.60" width="23.30" height="1.3" fill="#c9a585"/>
<text transform="translate(412.00 313.50) scale(1 1.1)" font-size="6.0" text-anchor="start" font-weight="bold" fill="#000" >Cycles</text>
<text x="84.90" y="330.20" font-size="15.3" text-anchor="start" font-weight="normal" fill="#000" stroke="#000" stroke-width="0.3" >E</text>
<text x="110.5" y="371" font-size="12" text-anchor="middle" transform="rotate(-90 110.5 371)">ΔCq vs MM-4</text>
<line x1="138.1" y1="327.65" x2="142.6" y2="327.65" stroke="#000" stroke-width="1.3"/>
<text x="136.60" y="331.95" font-size="12" text-anchor="end" font-weight="normal" fill="#000" >1.0</text>
<line x1="138.1" y1="351.57" x2="142.6" y2="351.57" stroke="#000" stroke-width="1.3"/>
<text x="136.60" y="355.88" font-size="12" text-anchor="end" font-weight="normal" fill="#000" >0.5</text>
<line x1="138.1" y1="375.50" x2="142.6" y2="375.50" stroke="#000" stroke-width="1.3"/>
<text x="136.60" y="379.80" font-size="12" text-anchor="end" font-weight="normal" fill="#000" >0.0</text>
<line x1="138.1" y1="399.43" x2="142.6" y2="399.43" stroke="#000" stroke-width="1.3"/>
<text x="136.60" y="403.73" font-size="12" text-anchor="end" font-weight="normal" fill="#000" >-0.5</text>
<line x1="138.1" y1="423.35" x2="142.6" y2="423.35" stroke="#000" stroke-width="1.3"/>
<text x="136.60" y="427.65" font-size="12" text-anchor="end" font-weight="normal" fill="#000" >-1.0</text>
<line x1="142.6" y1="326.9" x2="142.6" y2="423.8" stroke="#000" stroke-width="1.3"/>
<line x1="142.6" y1="423.2" x2="421.5" y2="423.2" stroke="#000" stroke-width="1.3"/>
<rect x="150.30" y="363.30" width="14.2" height="12.20" fill="#00eefc" stroke="#000" stroke-width="1"/>
<line x1="157.40" y1="377.17" x2="157.40" y2="349.42" stroke="#444" stroke-width="1.0"/>
<line x1="152.90" y1="349.42" x2="161.90" y2="349.42" stroke="#444" stroke-width="1.0"/>
<line x1="152.90" y1="377.17" x2="161.90" y2="377.17" stroke="#444" stroke-width="1.0"/>
<line x1="157.40" y1="423.2" x2="157.40" y2="427.7" stroke="#000" stroke-width="1.3"/>
<text x="157.40" y="441.60" font-size="12" text-anchor="middle" font-weight="normal" fill="#000" >1</text>
<rect x="172.85" y="375.50" width="14.2" height="13.88" fill="#00eefc" stroke="#000" stroke-width="1"/>
<line x1="179.95" y1="394.16" x2="179.95" y2="384.59" stroke="#444" stroke-width="1.0"/>
<line x1="175.45" y1="384.59" x2="184.45" y2="384.59" stroke="#444" stroke-width="1.0"/>
<line x1="175.45" y1="394.16" x2="184.45" y2="394.16" stroke="#444" stroke-width="1.0"/>
<line x1="179.95" y1="423.2" x2="179.95" y2="427.7" stroke="#000" stroke-width="1.3"/>
<text x="179.95" y="441.60" font-size="12" text-anchor="middle" font-weight="normal" fill="#000" >2</text>
<rect x="195.40" y="375.50" width="14.2" height="17.70" fill="#00eefc" stroke="#000" stroke-width="1"/>
<line x1="202.50" y1="398.47" x2="202.50" y2="387.94" stroke="#444" stroke-width="1.0"/>
<line x1="198.00" y1="387.94" x2="207.00" y2="387.94" stroke="#444" stroke-width="1.0"/>
<line x1="198.00" y1="398.47" x2="207.00" y2="398.47" stroke="#444" stroke-width="1.0"/>
<line x1="202.50" y1="423.2" x2="202.50" y2="427.7" stroke="#000" stroke-width="1.3"/>
<text x="202.50" y="441.60" font-size="12" text-anchor="middle" font-weight="normal" fill="#000" >3</text>
<rect x="217.95" y="355.40" width="14.2" height="20.10" fill="#10e010" stroke="#000" stroke-width="1"/>
<line x1="225.05" y1="363.54" x2="225.05" y2="347.27" stroke="#444" stroke-width="1.0"/>
<line x1="220.55" y1="347.27" x2="229.55" y2="347.27" stroke="#444" stroke-width="1.0"/>
<line x1="220.55" y1="363.54" x2="229.55" y2="363.54" stroke="#444" stroke-width="1.0"/>
<line x1="225.05" y1="423.2" x2="225.05" y2="427.7" stroke="#000" stroke-width="1.3"/>
<text x="225.05" y="441.60" font-size="12" text-anchor="middle" font-weight="normal" fill="#000" >1</text>
<rect x="240.50" y="375.50" width="14.2" height="8.13" fill="#10e010" stroke="#000" stroke-width="1"/>
<line x1="247.60" y1="391.77" x2="247.60" y2="375.50" stroke="#444" stroke-width="1.0"/>
<line x1="243.10" y1="375.50" x2="252.10" y2="375.50" stroke="#444" stroke-width="1.0"/>
<line x1="243.10" y1="391.77" x2="252.10" y2="391.77" stroke="#444" stroke-width="1.0"/>
<line x1="247.60" y1="423.2" x2="247.60" y2="427.7" stroke="#000" stroke-width="1.3"/>
<text x="247.60" y="441.60" font-size="12" text-anchor="middle" font-weight="normal" fill="#000" >2</text>
<rect x="263.05" y="361.86" width="14.2" height="13.64" fill="#10e010" stroke="#000" stroke-width="1"/>
<line x1="270.15" y1="375.74" x2="270.15" y2="347.99" stroke="#444" stroke-width="1.0"/>
<line x1="265.65" y1="347.99" x2="274.65" y2="347.99" stroke="#444" stroke-width="1.0"/>
<line x1="265.65" y1="375.74" x2="274.65" y2="375.74" stroke="#444" stroke-width="1.0"/>
<line x1="270.15" y1="423.2" x2="270.15" y2="427.7" stroke="#000" stroke-width="1.3"/>
<text x="270.15" y="441.60" font-size="12" text-anchor="middle" font-weight="normal" fill="#000" >3</text>
<rect x="285.60" y="375.50" width="14.2" height="9.57" fill="#00eefc" stroke="#000" stroke-width="1"/>
<line x1="292.70" y1="407.56" x2="292.70" y2="362.58" stroke="#444" stroke-width="1.0"/>
<line x1="288.20" y1="362.58" x2="297.20" y2="362.58" stroke="#444" stroke-width="1.0"/>
<line x1="288.20" y1="407.56" x2="297.20" y2="407.56" stroke="#444" stroke-width="1.0"/>
<line x1="292.70" y1="423.2" x2="292.70" y2="427.7" stroke="#000" stroke-width="1.3"/>
<text x="292.70" y="441.60" font-size="12" text-anchor="middle" font-weight="normal" fill="#000" >1</text>
<rect x="308.15" y="375.50" width="14.2" height="29.67" fill="#00eefc" stroke="#000" stroke-width="1"/>
<line x1="315.25" y1="413.30" x2="315.25" y2="397.03" stroke="#444" stroke-width="1.0"/>
<line x1="310.75" y1="397.03" x2="319.75" y2="397.03" stroke="#444" stroke-width="1.0"/>
<line x1="310.75" y1="413.30" x2="319.75" y2="413.30" stroke="#444" stroke-width="1.0"/>
<line x1="315.25" y1="423.2" x2="315.25" y2="427.7" stroke="#000" stroke-width="1.3"/>
<text x="315.25" y="441.60" font-size="12" text-anchor="middle" font-weight="normal" fill="#000" >2</text>
<rect x="330.70" y="375.50" width="14.2" height="15.79" fill="#00eefc" stroke="#000" stroke-width="1"/>
<line x1="337.80" y1="399.43" x2="337.80" y2="383.16" stroke="#444" stroke-width="1.0"/>
<line x1="333.30" y1="383.16" x2="342.30" y2="383.16" stroke="#444" stroke-width="1.0"/>
<line x1="333.30" y1="399.43" x2="342.30" y2="399.43" stroke="#444" stroke-width="1.0"/>
<line x1="337.80" y1="423.2" x2="337.80" y2="427.7" stroke="#000" stroke-width="1.3"/>
<text x="337.80" y="441.60" font-size="12" text-anchor="middle" font-weight="normal" fill="#000" >3</text>
<rect x="353.25" y="355.40" width="14.2" height="20.10" fill="#10e010" stroke="#000" stroke-width="1"/>
<line x1="360.35" y1="363.54" x2="360.35" y2="347.27" stroke="#444" stroke-width="1.0"/>
<line x1="355.85" y1="347.27" x2="364.85" y2="347.27" stroke="#444" stroke-width="1.0"/>
<line x1="355.85" y1="363.54" x2="364.85" y2="363.54" stroke="#444" stroke-width="1.0"/>
<line x1="360.35" y1="423.2" x2="360.35" y2="427.7" stroke="#000" stroke-width="1.3"/>
<text x="360.35" y="441.60" font-size="12" text-anchor="middle" font-weight="normal" fill="#000" >1</text>
<rect x="375.80" y="375.50" width="14.2" height="15.79" fill="#10e010" stroke="#000" stroke-width="1"/>
<line x1="382.90" y1="394.16" x2="382.90" y2="388.42" stroke="#444" stroke-width="1.0"/>
<line x1="378.40" y1="388.42" x2="387.40" y2="388.42" stroke="#444" stroke-width="1.0"/>
<line x1="378.40" y1="394.16" x2="387.40" y2="394.16" stroke="#444" stroke-width="1.0"/>
<line x1="382.90" y1="423.2" x2="382.90" y2="427.7" stroke="#000" stroke-width="1.3"/>
<text x="382.90" y="441.60" font-size="12" text-anchor="middle" font-weight="normal" fill="#000" >2</text>
<rect x="398.35" y="375.50" width="14.2" height="11.01" fill="#10e010" stroke="#000" stroke-width="1"/>
<line x1="405.45" y1="389.86" x2="405.45" y2="383.16" stroke="#444" stroke-width="1.0"/>
<line x1="400.95" y1="383.16" x2="409.95" y2="383.16" stroke="#444" stroke-width="1.0"/>
<line x1="400.95" y1="389.86" x2="409.95" y2="389.86" stroke="#444" stroke-width="1.0"/>
<line x1="405.45" y1="423.2" x2="405.45" y2="427.7" stroke="#000" stroke-width="1.3"/>
<text x="405.45" y="441.60" font-size="12" text-anchor="middle" font-weight="normal" fill="#000" >3</text>
<line x1="142.6" y1="375.5" x2="421.5" y2="375.5" stroke="#000" stroke-width="1.3"/>
<line x1="147.5" y1="323.6" x2="207.8" y2="323.6" stroke="#000" stroke-width="1.3"/>
<polygon points="146.5,321.1 146.5,326.1 149.1,323.6" fill="#000"/>
<polygon points="208.8,321.1 208.8,326.1 206.20000000000002,323.6" fill="#000"/>
<text x="177.65" y="318.70" font-size="9.8" text-anchor="middle" font-weight="normal" fill="#000" stroke="#000" stroke-width="0.15" >Assay A</text>
<line x1="216.7" y1="323.6" x2="276.6" y2="323.6" stroke="#000" stroke-width="1.3"/>
<polygon points="215.7,321.1 215.7,326.1 218.29999999999998,323.6" fill="#000"/>
<polygon points="277.6,321.1 277.6,326.1 275.0,323.6" fill="#000"/>
<text x="246.65" y="318.70" font-size="9.8" text-anchor="middle" font-weight="normal" fill="#000" stroke="#000" stroke-width="0.15" >Assay B</text>
<line x1="286.3" y1="323.6" x2="345.8" y2="323.6" stroke="#000" stroke-width="1.3"/>
<polygon points="285.3,321.1 285.3,326.1 287.90000000000003,323.6" fill="#000"/>
<polygon points="346.8,321.1 346.8,326.1 344.2,323.6" fill="#000"/>
<text x="316.05" y="318.70" font-size="9.8" text-anchor="middle" font-weight="normal" fill="#000" stroke="#000" stroke-width="0.15" >Assay C</text>
<line x1="355.5" y1="323.6" x2="415.1" y2="323.6" stroke="#000" stroke-width="1.3"/>
<polygon points="354.5,321.1 354.5,326.1 357.1,323.6" fill="#000"/>
<polygon points="416.1,321.1 416.1,326.1 413.5,323.6" fill="#000"/>
<text x="385.30" y="318.70" font-size="9.8" text-anchor="middle" font-weight="normal" fill="#000" stroke="#000" stroke-width="0.15" >Assay D</text>
<text x="281.50" y="459.00" font-size="12" text-anchor="middle" font-weight="normal" fill="#000" >Master mix</text>
</svg></body></html>
